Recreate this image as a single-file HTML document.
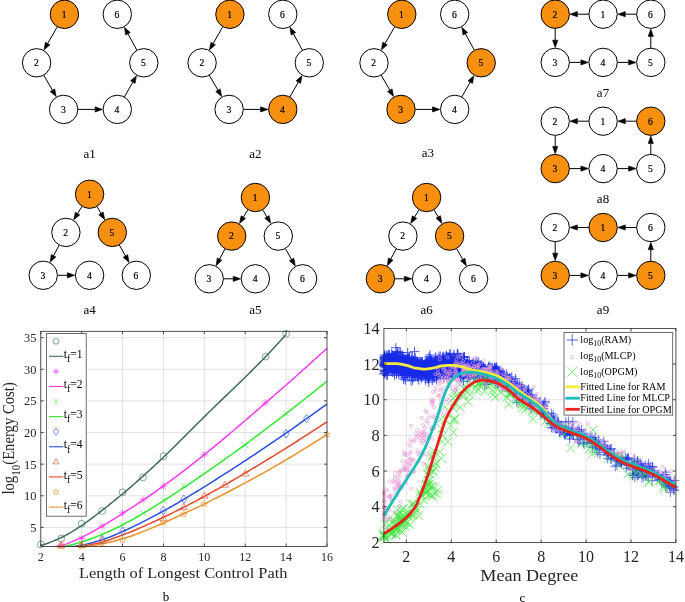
<!DOCTYPE html>
<html><head><meta charset="utf-8"><title>Figure</title>
<style>html,body{margin:0;padding:0;background:#fff}svg{display:block}text{font-family:"Liberation Serif", serif}</style>
</head><body>
<svg width="685" height="602" viewBox="0 0 685 602" font-family='"Liberation Serif", serif' fill="#000"><path d="M57.34 26.62L47.64 43.54" stroke="#000" stroke-width="1" fill="none"/>
<path d="M43.96 49.96L45.38 42.25L49.9 44.83Z" fill="#000" stroke="#000" stroke-width="0.6" stroke-linejoin="miter"/>
<path d="M43.72 75.09L52.47 90.19" stroke="#000" stroke-width="1" fill="none"/>
<path d="M56.18 96.59L50.22 91.49L54.72 88.89Z" fill="#000" stroke="#000" stroke-width="0.6" stroke-linejoin="miter"/>
<path d="M77.8 109.4L95.1 109.4" stroke="#000" stroke-width="1" fill="none"/>
<path d="M102.5 109.4L95.1 112L95.1 106.8Z" fill="#000" stroke="#000" stroke-width="0.6" stroke-linejoin="miter"/>
<path d="M124.32 97.06L132.83 82.1" stroke="#000" stroke-width="1" fill="none"/>
<path d="M136.48 75.67L135.09 83.38L130.57 80.81Z" fill="#000" stroke="#000" stroke-width="0.6" stroke-linejoin="miter"/>
<path d="M136.99 50.34L127.94 33.78" stroke="#000" stroke-width="1" fill="none"/>
<path d="M124.4 27.29L130.23 32.53L125.66 35.03Z" fill="#000" stroke="#000" stroke-width="0.6" stroke-linejoin="miter"/>
<circle cx="64.4" cy="14.3" r="14.2" fill="#F8900F" stroke="#000" stroke-width="1"/>
<text x="64.1" y="17.6" font-size="9.6" text-anchor="middle" stroke="#000" stroke-width="0.2">1</text>
<circle cx="117.3" cy="14.3" r="14.2" fill="#fff" stroke="#000" stroke-width="1"/>
<text x="117" y="17.6" font-size="9.6" text-anchor="middle" stroke="#000" stroke-width="0.2">6</text>
<circle cx="36.6" cy="62.8" r="14.2" fill="#fff" stroke="#000" stroke-width="1"/>
<text x="36.3" y="66.1" font-size="9.6" text-anchor="middle" stroke="#000" stroke-width="0.2">2</text>
<circle cx="143.8" cy="62.8" r="14.2" fill="#fff" stroke="#000" stroke-width="1"/>
<text x="143.5" y="66.1" font-size="9.6" text-anchor="middle" stroke="#000" stroke-width="0.2">5</text>
<circle cx="63.6" cy="109.4" r="14.2" fill="#fff" stroke="#000" stroke-width="1"/>
<text x="63.3" y="112.7" font-size="9.6" text-anchor="middle" stroke="#000" stroke-width="0.2">3</text>
<circle cx="117.3" cy="109.4" r="14.2" fill="#fff" stroke="#000" stroke-width="1"/>
<text x="117" y="112.7" font-size="9.6" text-anchor="middle" stroke="#000" stroke-width="0.2">4</text>
<text x="89.6" y="158" font-size="13" text-anchor="middle">a1</text>
<path d="M222.84 26.62L213.14 43.54" stroke="#000" stroke-width="1" fill="none"/>
<path d="M209.46 49.96L210.88 42.25L215.4 44.83Z" fill="#000" stroke="#000" stroke-width="0.6" stroke-linejoin="miter"/>
<path d="M209.22 75.09L217.97 90.19" stroke="#000" stroke-width="1" fill="none"/>
<path d="M221.68 96.59L215.72 91.49L220.22 88.89Z" fill="#000" stroke="#000" stroke-width="0.6" stroke-linejoin="miter"/>
<path d="M243.3 109.4L260.6 109.4" stroke="#000" stroke-width="1" fill="none"/>
<path d="M268 109.4L260.6 112L260.6 106.8Z" fill="#000" stroke="#000" stroke-width="0.6" stroke-linejoin="miter"/>
<path d="M289.82 97.06L298.33 82.1" stroke="#000" stroke-width="1" fill="none"/>
<path d="M301.98 75.67L300.59 83.38L296.07 80.81Z" fill="#000" stroke="#000" stroke-width="0.6" stroke-linejoin="miter"/>
<path d="M302.49 50.34L293.44 33.78" stroke="#000" stroke-width="1" fill="none"/>
<path d="M289.9 27.29L295.73 32.53L291.16 35.03Z" fill="#000" stroke="#000" stroke-width="0.6" stroke-linejoin="miter"/>
<circle cx="229.9" cy="14.3" r="14.2" fill="#F8900F" stroke="#000" stroke-width="1"/>
<text x="229.6" y="17.6" font-size="9.6" text-anchor="middle" stroke="#000" stroke-width="0.2">1</text>
<circle cx="282.8" cy="14.3" r="14.2" fill="#fff" stroke="#000" stroke-width="1"/>
<text x="282.5" y="17.6" font-size="9.6" text-anchor="middle" stroke="#000" stroke-width="0.2">6</text>
<circle cx="202.1" cy="62.8" r="14.2" fill="#fff" stroke="#000" stroke-width="1"/>
<text x="201.8" y="66.1" font-size="9.6" text-anchor="middle" stroke="#000" stroke-width="0.2">2</text>
<circle cx="309.3" cy="62.8" r="14.2" fill="#fff" stroke="#000" stroke-width="1"/>
<text x="309" y="66.1" font-size="9.6" text-anchor="middle" stroke="#000" stroke-width="0.2">5</text>
<circle cx="229.1" cy="109.4" r="14.2" fill="#fff" stroke="#000" stroke-width="1"/>
<text x="228.8" y="112.7" font-size="9.6" text-anchor="middle" stroke="#000" stroke-width="0.2">3</text>
<circle cx="282.8" cy="109.4" r="14.2" fill="#F8900F" stroke="#000" stroke-width="1"/>
<text x="282.5" y="112.7" font-size="9.6" text-anchor="middle" stroke="#000" stroke-width="0.2">4</text>
<text x="255.4" y="158" font-size="13" text-anchor="middle">a2</text>
<path d="M394.74 26.62L385.04 43.54" stroke="#000" stroke-width="1" fill="none"/>
<path d="M381.36 49.96L382.78 42.25L387.3 44.83Z" fill="#000" stroke="#000" stroke-width="0.6" stroke-linejoin="miter"/>
<path d="M381.12 75.09L389.87 90.19" stroke="#000" stroke-width="1" fill="none"/>
<path d="M393.58 96.59L387.62 91.49L392.12 88.89Z" fill="#000" stroke="#000" stroke-width="0.6" stroke-linejoin="miter"/>
<path d="M415.2 109.4L432.5 109.4" stroke="#000" stroke-width="1" fill="none"/>
<path d="M439.9 109.4L432.5 112L432.5 106.8Z" fill="#000" stroke="#000" stroke-width="0.6" stroke-linejoin="miter"/>
<path d="M461.72 97.06L470.23 82.1" stroke="#000" stroke-width="1" fill="none"/>
<path d="M473.88 75.67L472.49 83.38L467.97 80.81Z" fill="#000" stroke="#000" stroke-width="0.6" stroke-linejoin="miter"/>
<path d="M474.39 50.34L465.34 33.78" stroke="#000" stroke-width="1" fill="none"/>
<path d="M461.8 27.29L467.63 32.53L463.06 35.03Z" fill="#000" stroke="#000" stroke-width="0.6" stroke-linejoin="miter"/>
<circle cx="401.8" cy="14.3" r="14.2" fill="#F8900F" stroke="#000" stroke-width="1"/>
<text x="401.5" y="17.6" font-size="9.6" text-anchor="middle" stroke="#000" stroke-width="0.2">1</text>
<circle cx="454.7" cy="14.3" r="14.2" fill="#fff" stroke="#000" stroke-width="1"/>
<text x="454.4" y="17.6" font-size="9.6" text-anchor="middle" stroke="#000" stroke-width="0.2">6</text>
<circle cx="374" cy="62.8" r="14.2" fill="#fff" stroke="#000" stroke-width="1"/>
<text x="373.7" y="66.1" font-size="9.6" text-anchor="middle" stroke="#000" stroke-width="0.2">2</text>
<circle cx="481.2" cy="62.8" r="14.2" fill="#F8900F" stroke="#000" stroke-width="1"/>
<text x="480.9" y="66.1" font-size="9.6" text-anchor="middle" stroke="#000" stroke-width="0.2">5</text>
<circle cx="401" cy="109.4" r="14.2" fill="#F8900F" stroke="#000" stroke-width="1"/>
<text x="400.7" y="112.7" font-size="9.6" text-anchor="middle" stroke="#000" stroke-width="0.2">3</text>
<circle cx="454.7" cy="109.4" r="14.2" fill="#fff" stroke="#000" stroke-width="1"/>
<text x="454.4" y="112.7" font-size="9.6" text-anchor="middle" stroke="#000" stroke-width="0.2">4</text>
<text x="427.8" y="156.5" font-size="13" text-anchor="middle">a3</text>
<path d="M82.11 206.27L77.6 213.54" stroke="#000" stroke-width="1" fill="none"/>
<path d="M73.7 219.82L75.39 212.16L79.81 214.91Z" fill="#000" stroke="#000" stroke-width="0.6" stroke-linejoin="miter"/>
<path d="M96.85 206.41L100.96 213.32" stroke="#000" stroke-width="1" fill="none"/>
<path d="M104.74 219.68L98.72 214.64L103.19 211.99Z" fill="#000" stroke="#000" stroke-width="0.6" stroke-linejoin="miter"/>
<path d="M59.26 244.95L53.58 255.68" stroke="#000" stroke-width="1" fill="none"/>
<path d="M50.12 262.22L51.28 254.46L55.88 256.89Z" fill="#000" stroke="#000" stroke-width="0.6" stroke-linejoin="miter"/>
<path d="M57.4 275.3L67.4 275.3" stroke="#000" stroke-width="1" fill="none"/>
<path d="M74.8 275.3L67.4 277.9L67.4 272.7Z" fill="#000" stroke="#000" stroke-width="0.6" stroke-linejoin="miter"/>
<path d="M119.23 244.79L125.46 255.93" stroke="#000" stroke-width="1" fill="none"/>
<path d="M129.07 262.38L123.19 257.2L127.73 254.66Z" fill="#000" stroke="#000" stroke-width="0.6" stroke-linejoin="miter"/>
<circle cx="89.6" cy="194.2" r="14.2" fill="#F8900F" stroke="#000" stroke-width="1"/>
<text x="89.3" y="197.5" font-size="9.6" text-anchor="middle" stroke="#000" stroke-width="0.2">1</text>
<circle cx="65.9" cy="232.4" r="14.2" fill="#fff" stroke="#000" stroke-width="1"/>
<text x="65.6" y="235.7" font-size="9.6" text-anchor="middle" stroke="#000" stroke-width="0.2">2</text>
<circle cx="112.3" cy="232.4" r="14.2" fill="#F8900F" stroke="#000" stroke-width="1"/>
<text x="112" y="235.7" font-size="9.6" text-anchor="middle" stroke="#000" stroke-width="0.2">5</text>
<circle cx="43.2" cy="275.3" r="14.2" fill="#fff" stroke="#000" stroke-width="1"/>
<text x="42.9" y="278.6" font-size="9.6" text-anchor="middle" stroke="#000" stroke-width="0.2">3</text>
<circle cx="89.6" cy="275.3" r="14.2" fill="#fff" stroke="#000" stroke-width="1"/>
<text x="89.3" y="278.6" font-size="9.6" text-anchor="middle" stroke="#000" stroke-width="0.2">4</text>
<circle cx="136.3" cy="275.3" r="14.2" fill="#fff" stroke="#000" stroke-width="1"/>
<text x="136" y="278.6" font-size="9.6" text-anchor="middle" stroke="#000" stroke-width="0.2">6</text>
<text x="89.6" y="314.3" font-size="13" text-anchor="middle">a4</text>
<path d="M247.97 209.6L243.32 217.18" stroke="#000" stroke-width="1" fill="none"/>
<path d="M239.44 223.49L241.1 215.82L245.53 218.54Z" fill="#000" stroke="#000" stroke-width="0.6" stroke-linejoin="miter"/>
<path d="M262.65 209.71L266.97 217.01" stroke="#000" stroke-width="1" fill="none"/>
<path d="M270.75 223.37L264.74 218.33L269.21 215.68Z" fill="#000" stroke="#000" stroke-width="0.6" stroke-linejoin="miter"/>
<path d="M225.08 248.66L219.55 259.16" stroke="#000" stroke-width="1" fill="none"/>
<path d="M216.1 265.71L217.25 257.95L221.85 260.37Z" fill="#000" stroke="#000" stroke-width="0.6" stroke-linejoin="miter"/>
<path d="M223.4 278.8L233.2 278.8" stroke="#000" stroke-width="1" fill="none"/>
<path d="M240.6 278.8L233.2 281.4L233.2 276.2Z" fill="#000" stroke="#000" stroke-width="0.6" stroke-linejoin="miter"/>
<path d="M285.32 248.44L291.62 259.51" stroke="#000" stroke-width="1" fill="none"/>
<path d="M295.28 265.94L289.36 260.79L293.88 258.22Z" fill="#000" stroke="#000" stroke-width="0.6" stroke-linejoin="miter"/>
<circle cx="255.4" cy="197.5" r="14.2" fill="#F8900F" stroke="#000" stroke-width="1"/>
<text x="255.1" y="200.8" font-size="9.6" text-anchor="middle" stroke="#000" stroke-width="0.2">1</text>
<circle cx="231.7" cy="236.1" r="14.2" fill="#F8900F" stroke="#000" stroke-width="1"/>
<text x="231.4" y="239.4" font-size="9.6" text-anchor="middle" stroke="#000" stroke-width="0.2">2</text>
<circle cx="278.3" cy="236.1" r="14.2" fill="#fff" stroke="#000" stroke-width="1"/>
<text x="278" y="239.4" font-size="9.6" text-anchor="middle" stroke="#000" stroke-width="0.2">5</text>
<circle cx="209.2" cy="278.8" r="14.2" fill="#fff" stroke="#000" stroke-width="1"/>
<text x="208.9" y="282.1" font-size="9.6" text-anchor="middle" stroke="#000" stroke-width="0.2">3</text>
<circle cx="255.4" cy="278.8" r="14.2" fill="#fff" stroke="#000" stroke-width="1"/>
<text x="255.1" y="282.1" font-size="9.6" text-anchor="middle" stroke="#000" stroke-width="0.2">4</text>
<circle cx="302.6" cy="278.8" r="14.2" fill="#fff" stroke="#000" stroke-width="1"/>
<text x="302.3" y="282.1" font-size="9.6" text-anchor="middle" stroke="#000" stroke-width="0.2">6</text>
<text x="255.4" y="314.3" font-size="13" text-anchor="middle">a5</text>
<path d="M419.17 209.6L414.52 217.18" stroke="#000" stroke-width="1" fill="none"/>
<path d="M410.64 223.49L412.3 215.82L416.73 218.54Z" fill="#000" stroke="#000" stroke-width="0.6" stroke-linejoin="miter"/>
<path d="M433.87 209.7L438.24 217.03" stroke="#000" stroke-width="1" fill="none"/>
<path d="M442.02 223.39L436 218.36L440.47 215.7Z" fill="#000" stroke="#000" stroke-width="0.6" stroke-linejoin="miter"/>
<path d="M396.28 248.66L390.75 259.16" stroke="#000" stroke-width="1" fill="none"/>
<path d="M387.3 265.71L388.45 257.95L393.05 260.37Z" fill="#000" stroke="#000" stroke-width="0.6" stroke-linejoin="miter"/>
<path d="M394.6 278.8L404.4 278.8" stroke="#000" stroke-width="1" fill="none"/>
<path d="M411.8 278.8L404.4 281.4L404.4 276.2Z" fill="#000" stroke="#000" stroke-width="0.6" stroke-linejoin="miter"/>
<path d="M456.56 248.48L462.72 259.45" stroke="#000" stroke-width="1" fill="none"/>
<path d="M466.35 265.9L460.46 260.72L464.99 258.17Z" fill="#000" stroke="#000" stroke-width="0.6" stroke-linejoin="miter"/>
<circle cx="426.6" cy="197.5" r="14.2" fill="#F8900F" stroke="#000" stroke-width="1"/>
<text x="426.3" y="200.8" font-size="9.6" text-anchor="middle" stroke="#000" stroke-width="0.2">1</text>
<circle cx="402.9" cy="236.1" r="14.2" fill="#fff" stroke="#000" stroke-width="1"/>
<text x="402.6" y="239.4" font-size="9.6" text-anchor="middle" stroke="#000" stroke-width="0.2">2</text>
<circle cx="449.6" cy="236.1" r="14.2" fill="#F8900F" stroke="#000" stroke-width="1"/>
<text x="449.3" y="239.4" font-size="9.6" text-anchor="middle" stroke="#000" stroke-width="0.2">5</text>
<circle cx="380.4" cy="278.8" r="14.2" fill="#F8900F" stroke="#000" stroke-width="1"/>
<text x="380.1" y="282.1" font-size="9.6" text-anchor="middle" stroke="#000" stroke-width="0.2">3</text>
<circle cx="426.6" cy="278.8" r="14.2" fill="#fff" stroke="#000" stroke-width="1"/>
<text x="426.3" y="282.1" font-size="9.6" text-anchor="middle" stroke="#000" stroke-width="0.2">4</text>
<circle cx="473.6" cy="278.8" r="14.2" fill="#fff" stroke="#000" stroke-width="1"/>
<text x="473.3" y="282.1" font-size="9.6" text-anchor="middle" stroke="#000" stroke-width="0.2">6</text>
<text x="426.6" y="314.3" font-size="13" text-anchor="middle">a6</text>
<path d="M636.6 14.2L625.3 14.2" stroke="#000" stroke-width="1" fill="none"/>
<path d="M617.9 14.2L625.3 11.6L625.3 16.8Z" fill="#000" stroke="#000" stroke-width="0.6" stroke-linejoin="miter"/>
<path d="M588.9 14.2L577.4 14.2" stroke="#000" stroke-width="1" fill="none"/>
<path d="M570 14.2L577.4 11.6L577.4 16.8Z" fill="#000" stroke="#000" stroke-width="0.6" stroke-linejoin="miter"/>
<path d="M555.2 28.4L555.2 40.2" stroke="#000" stroke-width="1" fill="none"/>
<path d="M555.2 47.6L552.6 40.2L557.8 40.2Z" fill="#000" stroke="#000" stroke-width="0.6" stroke-linejoin="miter"/>
<path d="M569.4 62.4L580.9 62.4" stroke="#000" stroke-width="1" fill="none"/>
<path d="M588.3 62.4L580.9 65L580.9 59.8Z" fill="#000" stroke="#000" stroke-width="0.6" stroke-linejoin="miter"/>
<path d="M617.3 62.4L628.6 62.4" stroke="#000" stroke-width="1" fill="none"/>
<path d="M636 62.4L628.6 65L628.6 59.8Z" fill="#000" stroke="#000" stroke-width="0.6" stroke-linejoin="miter"/>
<path d="M650.8 48.2L650.8 36.4" stroke="#000" stroke-width="1" fill="none"/>
<path d="M650.8 29L653.4 36.4L648.2 36.4Z" fill="#000" stroke="#000" stroke-width="0.6" stroke-linejoin="miter"/>
<circle cx="555.2" cy="14.2" r="14.2" fill="#F8900F" stroke="#000" stroke-width="1"/>
<text x="554.9" y="17.5" font-size="9.6" text-anchor="middle" stroke="#000" stroke-width="0.2">2</text>
<circle cx="603.1" cy="14.2" r="14.2" fill="#fff" stroke="#000" stroke-width="1"/>
<text x="602.8" y="17.5" font-size="9.6" text-anchor="middle" stroke="#000" stroke-width="0.2">1</text>
<circle cx="650.8" cy="14.2" r="14.2" fill="#fff" stroke="#000" stroke-width="1"/>
<text x="650.5" y="17.5" font-size="9.6" text-anchor="middle" stroke="#000" stroke-width="0.2">6</text>
<circle cx="555.2" cy="62.4" r="14.2" fill="#fff" stroke="#000" stroke-width="1"/>
<text x="554.9" y="65.7" font-size="9.6" text-anchor="middle" stroke="#000" stroke-width="0.2">3</text>
<circle cx="603.1" cy="62.4" r="14.2" fill="#fff" stroke="#000" stroke-width="1"/>
<text x="602.8" y="65.7" font-size="9.6" text-anchor="middle" stroke="#000" stroke-width="0.2">4</text>
<circle cx="650.8" cy="62.4" r="14.2" fill="#fff" stroke="#000" stroke-width="1"/>
<text x="650.5" y="65.7" font-size="9.6" text-anchor="middle" stroke="#000" stroke-width="0.2">5</text>
<text x="603" y="97" font-size="13" text-anchor="middle">a7</text>
<path d="M636.6 121.2L625.3 121.2" stroke="#000" stroke-width="1" fill="none"/>
<path d="M617.9 121.2L625.3 118.6L625.3 123.8Z" fill="#000" stroke="#000" stroke-width="0.6" stroke-linejoin="miter"/>
<path d="M588.9 121.2L577.4 121.2" stroke="#000" stroke-width="1" fill="none"/>
<path d="M570 121.2L577.4 118.6L577.4 123.8Z" fill="#000" stroke="#000" stroke-width="0.6" stroke-linejoin="miter"/>
<path d="M555.2 135.4L555.2 146.4" stroke="#000" stroke-width="1" fill="none"/>
<path d="M555.2 153.8L552.6 146.4L557.8 146.4Z" fill="#000" stroke="#000" stroke-width="0.6" stroke-linejoin="miter"/>
<path d="M569.4 168.6L580.9 168.6" stroke="#000" stroke-width="1" fill="none"/>
<path d="M588.3 168.6L580.9 171.2L580.9 166Z" fill="#000" stroke="#000" stroke-width="0.6" stroke-linejoin="miter"/>
<path d="M617.3 168.6L628.6 168.6" stroke="#000" stroke-width="1" fill="none"/>
<path d="M636 168.6L628.6 171.2L628.6 166Z" fill="#000" stroke="#000" stroke-width="0.6" stroke-linejoin="miter"/>
<path d="M650.8 154.4L650.8 143.4" stroke="#000" stroke-width="1" fill="none"/>
<path d="M650.8 136L653.4 143.4L648.2 143.4Z" fill="#000" stroke="#000" stroke-width="0.6" stroke-linejoin="miter"/>
<circle cx="555.2" cy="121.2" r="14.2" fill="#fff" stroke="#000" stroke-width="1"/>
<text x="554.9" y="124.5" font-size="9.6" text-anchor="middle" stroke="#000" stroke-width="0.2">2</text>
<circle cx="603.1" cy="121.2" r="14.2" fill="#fff" stroke="#000" stroke-width="1"/>
<text x="602.8" y="124.5" font-size="9.6" text-anchor="middle" stroke="#000" stroke-width="0.2">1</text>
<circle cx="650.8" cy="121.2" r="14.2" fill="#F8900F" stroke="#000" stroke-width="1"/>
<text x="650.5" y="124.5" font-size="9.6" text-anchor="middle" stroke="#000" stroke-width="0.2">6</text>
<circle cx="555.2" cy="168.6" r="14.2" fill="#F8900F" stroke="#000" stroke-width="1"/>
<text x="554.9" y="171.9" font-size="9.6" text-anchor="middle" stroke="#000" stroke-width="0.2">3</text>
<circle cx="603.1" cy="168.6" r="14.2" fill="#fff" stroke="#000" stroke-width="1"/>
<text x="602.8" y="171.9" font-size="9.6" text-anchor="middle" stroke="#000" stroke-width="0.2">4</text>
<circle cx="650.8" cy="168.6" r="14.2" fill="#fff" stroke="#000" stroke-width="1"/>
<text x="650.5" y="171.9" font-size="9.6" text-anchor="middle" stroke="#000" stroke-width="0.2">5</text>
<text x="603" y="203" font-size="13" text-anchor="middle">a8</text>
<path d="M636.6 227.5L625.3 227.5" stroke="#000" stroke-width="1" fill="none"/>
<path d="M617.9 227.5L625.3 224.9L625.3 230.1Z" fill="#000" stroke="#000" stroke-width="0.6" stroke-linejoin="miter"/>
<path d="M588.9 227.5L577.4 227.5" stroke="#000" stroke-width="1" fill="none"/>
<path d="M570 227.5L577.4 224.9L577.4 230.1Z" fill="#000" stroke="#000" stroke-width="0.6" stroke-linejoin="miter"/>
<path d="M555.2 241.7L555.2 253.2" stroke="#000" stroke-width="1" fill="none"/>
<path d="M555.2 260.6L552.6 253.2L557.8 253.2Z" fill="#000" stroke="#000" stroke-width="0.6" stroke-linejoin="miter"/>
<path d="M569.4 275.4L580.9 275.4" stroke="#000" stroke-width="1" fill="none"/>
<path d="M588.3 275.4L580.9 278L580.9 272.8Z" fill="#000" stroke="#000" stroke-width="0.6" stroke-linejoin="miter"/>
<path d="M617.3 275.4L628.6 275.4" stroke="#000" stroke-width="1" fill="none"/>
<path d="M636 275.4L628.6 278L628.6 272.8Z" fill="#000" stroke="#000" stroke-width="0.6" stroke-linejoin="miter"/>
<path d="M650.8 261.2L650.8 249.7" stroke="#000" stroke-width="1" fill="none"/>
<path d="M650.8 242.3L653.4 249.7L648.2 249.7Z" fill="#000" stroke="#000" stroke-width="0.6" stroke-linejoin="miter"/>
<circle cx="555.2" cy="227.5" r="14.2" fill="#fff" stroke="#000" stroke-width="1"/>
<text x="554.9" y="230.8" font-size="9.6" text-anchor="middle" stroke="#000" stroke-width="0.2">2</text>
<circle cx="603.1" cy="227.5" r="14.2" fill="#F8900F" stroke="#000" stroke-width="1"/>
<text x="602.8" y="230.8" font-size="9.6" text-anchor="middle" stroke="#000" stroke-width="0.2">1</text>
<circle cx="650.8" cy="227.5" r="14.2" fill="#fff" stroke="#000" stroke-width="1"/>
<text x="650.5" y="230.8" font-size="9.6" text-anchor="middle" stroke="#000" stroke-width="0.2">6</text>
<circle cx="555.2" cy="275.4" r="14.2" fill="#F8900F" stroke="#000" stroke-width="1"/>
<text x="554.9" y="278.7" font-size="9.6" text-anchor="middle" stroke="#000" stroke-width="0.2">3</text>
<circle cx="603.1" cy="275.4" r="14.2" fill="#fff" stroke="#000" stroke-width="1"/>
<text x="602.8" y="278.7" font-size="9.6" text-anchor="middle" stroke="#000" stroke-width="0.2">4</text>
<circle cx="650.8" cy="275.4" r="14.2" fill="#F8900F" stroke="#000" stroke-width="1"/>
<text x="650.5" y="278.7" font-size="9.6" text-anchor="middle" stroke="#000" stroke-width="0.2">5</text>
<text x="603" y="314" font-size="13" text-anchor="middle">a9</text>
<rect x="40.8" y="331.3" width="286.2" height="215.1" fill="#fff"/>
<path d="M81.69 331.3V546.4" stroke="#e2e2e2" stroke-width="1"/>
<path d="M122.57 331.3V546.4" stroke="#e2e2e2" stroke-width="1"/>
<path d="M163.46 331.3V546.4" stroke="#e2e2e2" stroke-width="1"/>
<path d="M204.34 331.3V546.4" stroke="#e2e2e2" stroke-width="1"/>
<path d="M245.23 331.3V546.4" stroke="#e2e2e2" stroke-width="1"/>
<path d="M286.11 331.3V546.4" stroke="#e2e2e2" stroke-width="1"/>
<path d="M40.8 527.42H327" stroke="#e2e2e2" stroke-width="1"/>
<path d="M40.8 495.79H327" stroke="#e2e2e2" stroke-width="1"/>
<path d="M40.8 464.16H327" stroke="#e2e2e2" stroke-width="1"/>
<path d="M40.8 432.52H327" stroke="#e2e2e2" stroke-width="1"/>
<path d="M40.8 400.89H327" stroke="#e2e2e2" stroke-width="1"/>
<path d="M40.8 369.26H327" stroke="#e2e2e2" stroke-width="1"/>
<path d="M40.8 337.63H327" stroke="#e2e2e2" stroke-width="1"/>
<clipPath id="cb"><rect x="40.8" y="327.3" width="290.2" height="219.7"/></clipPath>
<g clip-path="url(#cb)">
<path d="M40.8 545.45L42.86 544.84L44.92 544.17L46.98 543.47L49.05 542.71L51.11 541.92L53.17 541.1L55.23 540.23L57.29 539.34L59.35 538.41L61.41 537.46L63.48 536.46L65.54 535.39L67.6 534.26L69.66 533.09L71.72 531.86L73.78 530.6L75.84 529.31L77.91 527.99L79.97 526.65L82.03 525.3L84.09 523.91L86.15 522.46L88.21 520.98L90.28 519.45L92.34 517.9L94.4 516.33L96.46 514.74L98.52 513.14L100.58 511.54L102.64 509.94L104.71 508.34L106.77 506.72L108.83 505.09L110.89 503.45L112.95 501.79L115.01 500.12L117.07 498.44L119.14 496.74L121.2 495.03L123.26 493.32L125.32 491.58L127.38 489.84L129.44 488.08L131.5 486.31L133.57 484.52L135.63 482.72L137.69 480.91L139.75 479.09L141.81 477.25L143.87 475.4L145.93 473.54L148 471.67L150.06 469.78L152.12 467.87L154.18 465.96L156.24 464.03L158.3 462.09L160.36 460.14L162.43 458.18L164.49 456.21L166.55 454.23L168.61 452.23L170.67 450.22L172.73 448.2L174.8 446.17L176.86 444.13L178.92 442.08L180.98 440.03L183.04 437.97L185.1 435.9L187.16 433.84L189.23 431.77L191.29 429.71L193.35 427.64L195.41 425.58L197.47 423.52L199.53 421.47L201.59 419.42L203.66 417.39L205.72 415.36L207.78 413.33L209.84 411.32L211.9 409.32L213.96 407.32L216.02 405.32L218.09 403.33L220.15 401.35L222.21 399.36L224.27 397.38L226.33 395.4L228.39 393.42L230.45 391.44L232.52 389.46L234.58 387.47L236.64 385.48L238.7 383.49L240.76 381.49L242.82 379.49L244.88 377.47L246.95 375.46L249.01 373.43L251.07 371.39L253.13 369.34L255.19 367.28L257.25 365.21L259.32 363.13L261.38 361.03L263.44 358.91L265.5 356.78L267.56 354.63L269.62 352.46L271.68 350.26L273.75 348.04L275.81 345.81L277.87 343.56L279.93 341.3L281.99 339.03L284.05 336.75L286.11 334.46" stroke="#3d6e5c" stroke-width="1.5" fill="none" stroke-linejoin="round"/>
<path d="M40.8 548.93L43.21 548.76L45.61 548.5L48.02 548.17L50.42 547.77L52.83 547.32L55.23 546.83L57.64 546.29L60.04 545.74L62.45 545.14L64.85 544.43L67.26 543.59L69.66 542.66L72.07 541.65L74.47 540.58L76.88 539.47L79.28 538.35L81.69 537.23L84.09 536.08L86.5 534.88L88.9 533.62L91.31 532.32L93.71 530.98L96.12 529.62L98.52 528.24L100.93 526.85L103.33 525.46L105.74 524.03L108.14 522.58L110.55 521.1L112.95 519.6L115.36 518.08L117.76 516.56L120.17 515.03L122.57 513.5L124.98 511.97L127.38 510.44L129.79 508.9L132.19 507.35L134.6 505.78L137 504.21L139.41 502.62L141.81 501.02L144.22 499.41L146.62 497.78L149.03 496.14L151.43 494.49L153.84 492.82L156.24 491.13L158.65 489.43L161.05 487.72L163.46 485.98L165.86 484.23L168.27 482.47L170.67 480.69L173.08 478.9L175.48 477.1L177.89 475.29L180.29 473.47L182.7 471.63L185.1 469.79L187.51 467.93L189.91 466.07L192.32 464.19L194.72 462.3L197.13 460.41L199.53 458.5L201.94 456.59L204.34 454.67L206.75 452.73L209.15 450.79L211.56 448.83L213.96 446.86L216.37 444.88L218.77 442.89L221.18 440.89L223.58 438.88L225.99 436.86L228.39 434.83L230.8 432.8L233.2 430.76L235.61 428.71L238.01 426.66L240.42 424.6L242.82 422.54L245.23 420.47L247.63 418.4L250.04 416.32L252.44 414.24L254.85 412.16L257.25 410.08L259.66 408L262.06 405.91L264.47 403.83L266.87 401.75L269.28 399.66L271.68 397.57L274.09 395.47L276.49 393.38L278.9 391.27L281.3 389.17L283.71 387.05L286.11 384.94L288.52 382.82L290.92 380.7L293.33 378.57L295.73 376.44L298.14 374.3L300.54 372.16L302.95 370.02L305.35 367.88L307.76 365.72L310.16 363.57L312.57 361.41L314.97 359.25L317.38 357.08L319.78 354.91L322.19 352.74L324.59 350.56L327 348.38" stroke="#f33cf0" stroke-width="1.5" fill="none" stroke-linejoin="round"/>
<path d="M40.8 549.56L43.21 549.39L45.61 549.18L48.02 548.93L50.42 548.64L52.83 548.32L55.23 547.98L57.64 547.61L60.04 547.23L62.45 546.83L64.85 546.37L67.26 545.85L69.66 545.29L72.07 544.68L74.47 544.04L76.88 543.37L79.28 542.68L81.69 541.97L84.09 541.23L86.5 540.43L88.9 539.58L91.31 538.7L93.71 537.78L96.12 536.83L98.52 535.86L100.93 534.88L103.33 533.88L105.74 532.85L108.14 531.8L110.55 530.71L112.95 529.59L115.36 528.45L117.76 527.29L120.17 526.1L122.57 524.89L124.98 523.65L127.38 522.38L129.79 521.07L132.19 519.74L134.6 518.38L137 517L139.41 515.61L141.81 514.21L144.22 512.79L146.62 511.36L149.03 509.9L151.43 508.42L153.84 506.92L156.24 505.41L158.65 503.9L161.05 502.37L163.46 500.85L165.86 499.32L168.27 497.79L170.67 496.24L173.08 494.69L175.48 493.13L177.89 491.55L180.29 489.97L182.7 488.37L185.1 486.76L187.51 485.14L189.91 483.51L192.32 481.88L194.72 480.25L197.13 478.6L199.53 476.95L201.94 475.3L204.34 473.64L206.75 471.97L209.15 470.3L211.56 468.62L213.96 466.94L216.37 465.25L218.77 463.55L221.18 461.85L223.58 460.15L225.99 458.43L228.39 456.72L230.8 454.99L233.2 453.26L235.61 451.53L238.01 449.79L240.42 448.05L242.82 446.3L245.23 444.54L247.63 442.78L250.04 441.01L252.44 439.22L254.85 437.43L257.25 435.63L259.66 433.82L262.06 432L264.47 430.18L266.87 428.35L269.28 426.51L271.68 424.67L274.09 422.82L276.49 420.97L278.9 419.12L281.3 417.26L283.71 415.4L286.11 413.54L288.52 411.68L290.92 409.82L293.33 407.94L295.73 406.07L298.14 404.19L300.54 402.3L302.95 400.41L305.35 398.52L307.76 396.62L310.16 394.72L312.57 392.81L314.97 390.9L317.38 388.99L319.78 387.07L322.19 385.14L324.59 383.21L327 381.28" stroke="#32e632" stroke-width="1.5" fill="none" stroke-linejoin="round"/>
<path d="M40.8 550.2L43.21 550.04L45.61 549.86L48.02 549.66L50.42 549.44L52.83 549.21L55.23 548.96L57.64 548.71L60.04 548.44L62.45 548.16L64.85 547.86L67.26 547.53L69.66 547.19L72.07 546.82L74.47 546.44L76.88 546.03L79.28 545.59L81.69 545.13L84.09 544.64L86.5 544.11L88.9 543.53L91.31 542.92L93.71 542.27L96.12 541.59L98.52 540.88L100.93 540.14L103.33 539.37L105.74 538.53L108.14 537.64L110.55 536.7L112.95 535.71L115.36 534.69L117.76 533.65L120.17 532.59L122.57 531.53L124.98 530.46L127.38 529.36L129.79 528.24L132.19 527.1L134.6 525.94L137 524.77L139.41 523.57L141.81 522.36L144.22 521.14L146.62 519.9L149.03 518.65L151.43 517.39L153.84 516.12L156.24 514.84L158.65 513.56L161.05 512.27L163.46 510.97L165.86 509.66L168.27 508.33L170.67 506.99L173.08 505.62L175.48 504.23L177.89 502.83L180.29 501.42L182.7 499.99L185.1 498.55L187.51 497.1L189.91 495.64L192.32 494.18L194.72 492.72L197.13 491.25L199.53 489.77L201.94 488.28L204.34 486.79L206.75 485.3L209.15 483.79L211.56 482.29L213.96 480.77L216.37 479.25L218.77 477.73L221.18 476.2L223.58 474.67L225.99 473.13L228.39 471.58L230.8 470.03L233.2 468.48L235.61 466.92L238.01 465.35L240.42 463.78L242.82 462.21L245.23 460.63L247.63 459.05L250.04 457.46L252.44 455.87L254.85 454.27L257.25 452.67L259.66 451.06L262.06 449.46L264.47 447.84L266.87 446.22L269.28 444.6L271.68 442.98L274.09 441.35L276.49 439.72L278.9 438.08L281.3 436.44L283.71 434.8L286.11 433.16L288.52 431.49L290.92 429.81L293.33 428.1L295.73 426.38L298.14 424.65L300.54 422.92L302.95 421.19L305.35 419.46L307.76 417.75L310.16 416.04L312.57 414.33L314.97 412.61L317.38 410.9L319.78 409.19L322.19 407.48L324.59 405.77L327 404.05" stroke="#2a4fe0" stroke-width="1.5" fill="none" stroke-linejoin="round"/>
<path d="M40.8 550.83L43.21 550.64L45.61 550.44L48.02 550.23L50.42 550.01L52.83 549.78L55.23 549.55L57.64 549.31L60.04 549.06L62.45 548.8L64.85 548.54L67.26 548.28L69.66 548.01L72.07 547.72L74.47 547.42L76.88 547.11L79.28 546.77L81.69 546.4L84.09 546L86.5 545.57L88.9 545.09L91.31 544.59L93.71 544.06L96.12 543.49L98.52 542.9L100.93 542.29L103.33 541.65L105.74 540.95L108.14 540.2L110.55 539.4L112.95 538.57L115.36 537.7L117.76 536.82L120.17 535.92L122.57 535.01L124.98 534.1L127.38 533.16L129.79 532.2L132.19 531.22L134.6 530.22L137 529.21L139.41 528.18L141.81 527.14L144.22 526.08L146.62 525.01L149.03 523.93L151.43 522.84L153.84 521.75L156.24 520.64L158.65 519.53L161.05 518.42L163.46 517.3L165.86 516.17L168.27 515.01L170.67 513.84L173.08 512.65L175.48 511.45L177.89 510.23L180.29 509.01L182.7 507.79L185.1 506.56L187.51 505.33L189.91 504.08L192.32 502.83L194.72 501.57L197.13 500.3L199.53 499.02L201.94 497.73L204.34 496.42L206.75 495.1L209.15 493.78L211.56 492.44L213.96 491.1L216.37 489.75L218.77 488.4L221.18 487.03L223.58 485.66L225.99 484.28L228.39 482.89L230.8 481.5L233.2 480.1L235.61 478.7L238.01 477.28L240.42 475.87L242.82 474.44L245.23 473.01L247.63 471.58L250.04 470.14L252.44 468.7L254.85 467.25L257.25 465.81L259.66 464.35L262.06 462.89L264.47 461.43L266.87 459.97L269.28 458.5L271.68 457.02L274.09 455.54L276.49 454.06L278.9 452.57L281.3 451.08L283.71 449.58L286.11 448.08L288.52 446.57L290.92 445.06L293.33 443.54L295.73 442.02L298.14 440.5L300.54 438.97L302.95 437.43L305.35 435.89L307.76 434.34L310.16 432.79L312.57 431.23L314.97 429.67L317.38 428.1L319.78 426.52L322.19 424.95L324.59 423.36L327 421.77" stroke="#e2492c" stroke-width="1.5" fill="none" stroke-linejoin="round"/>
<path d="M40.8 551.46L43.21 551.25L45.61 551.04L48.02 550.83L50.42 550.61L52.83 550.38L55.23 550.15L57.64 549.92L60.04 549.68L62.45 549.44L64.85 549.21L67.26 548.97L69.66 548.72L72.07 548.48L74.47 548.22L76.88 547.94L79.28 547.66L81.69 547.35L84.09 547.02L86.5 546.66L88.9 546.29L91.31 545.89L93.71 545.47L96.12 545.03L98.52 544.58L100.93 544.11L103.33 543.62L105.74 543.11L108.14 542.58L110.55 542.02L112.95 541.43L115.36 540.81L117.76 540.17L120.17 539.5L122.57 538.81L124.98 538.08L127.38 537.31L129.79 536.51L132.19 535.67L134.6 534.81L137 533.91L139.41 532.99L141.81 532.05L144.22 531.09L146.62 530.11L149.03 529.12L151.43 528.11L153.84 527.1L156.24 526.07L158.65 525.05L161.05 524.02L163.46 522.99L165.86 521.95L168.27 520.87L170.67 519.76L173.08 518.63L175.48 517.49L177.89 516.34L180.29 515.2L182.7 514.06L185.1 512.95L187.51 511.85L189.91 510.75L192.32 509.67L194.72 508.57L197.13 507.47L199.53 506.34L201.94 505.19L204.34 504.01L206.75 502.81L209.15 501.6L211.56 500.39L213.96 499.18L216.37 497.96L218.77 496.73L221.18 495.5L223.58 494.26L225.99 493.02L228.39 491.77L230.8 490.52L233.2 489.26L235.61 487.99L238.01 486.72L240.42 485.44L242.82 484.16L245.23 482.87L247.63 481.57L250.04 480.27L252.44 478.96L254.85 477.64L257.25 476.31L259.66 474.98L262.06 473.65L264.47 472.3L266.87 470.95L269.28 469.59L271.68 468.22L274.09 466.84L276.49 465.46L278.9 464.07L281.3 462.67L283.71 461.26L286.11 459.85L288.52 458.42L290.92 456.99L293.33 455.55L295.73 454.1L298.14 452.64L300.54 451.18L302.95 449.7L305.35 448.22L307.76 446.72L310.16 445.22L312.57 443.7L314.97 442.18L317.38 440.65L319.78 439.11L322.19 437.56L324.59 435.99L327 434.42" stroke="#e89228" stroke-width="1.5" fill="none" stroke-linejoin="round"/>
</g>
<circle cx="40.8" cy="544.5" r="3.41" fill="none" stroke="#3d6e5c" stroke-width="0.62"/>
<circle cx="61.24" cy="538.49" r="3.41" fill="none" stroke="#3d6e5c" stroke-width="0.62"/>
<circle cx="81.69" cy="523.62" r="3.41" fill="none" stroke="#3d6e5c" stroke-width="0.62"/>
<circle cx="102.13" cy="510.97" r="3.41" fill="none" stroke="#3d6e5c" stroke-width="0.62"/>
<circle cx="122.57" cy="492.31" r="3.41" fill="none" stroke="#3d6e5c" stroke-width="0.62"/>
<circle cx="143.01" cy="477.44" r="3.41" fill="none" stroke="#3d6e5c" stroke-width="0.62"/>
<circle cx="163.46" cy="456.12" r="3.41" fill="none" stroke="#3d6e5c" stroke-width="0.62"/>
<circle cx="265.67" cy="356.61" r="3.41" fill="none" stroke="#3d6e5c" stroke-width="0.62"/>
<circle cx="286.11" cy="333.83" r="3.41" fill="none" stroke="#3d6e5c" stroke-width="0.62"/>
<path d="M57.72 545.13L64.76 545.13M58.75 542.65L63.73 547.62M61.24 541.61L61.24 548.65M63.73 542.65L58.75 547.62" stroke="#f33cf0" stroke-width="0.62" fill="none"/>
<path d="M78.17 538.49L85.21 538.49M79.2 536L84.17 540.98M81.69 534.97L81.69 542.01M84.17 536L79.2 540.98" stroke="#f33cf0" stroke-width="0.62" fill="none"/>
<path d="M98.61 526.16L105.65 526.16M99.64 523.67L104.62 528.64M102.13 522.64L102.13 529.68M104.62 523.67L99.64 528.64" stroke="#f33cf0" stroke-width="0.62" fill="none"/>
<path d="M119.05 512.87L126.09 512.87M120.08 510.38L125.06 515.36M122.57 509.35L122.57 516.39M125.06 510.38L120.08 515.36" stroke="#f33cf0" stroke-width="0.62" fill="none"/>
<path d="M139.49 499.77L146.53 499.77M140.53 497.28L145.5 502.26M143.01 496.25L143.01 503.29M145.5 497.28L140.53 502.26" stroke="#f33cf0" stroke-width="0.62" fill="none"/>
<path d="M159.94 486.3L166.98 486.3M160.97 483.81L165.95 488.79M163.46 482.78L163.46 489.82M165.95 483.81L160.97 488.79" stroke="#f33cf0" stroke-width="0.62" fill="none"/>
<path d="M200.82 454.67L207.86 454.67M201.85 452.18L206.83 457.16M204.34 451.15L204.34 458.19M206.83 452.18L201.85 457.16" stroke="#f33cf0" stroke-width="0.62" fill="none"/>
<path d="M262.15 402.79L269.19 402.79M263.18 400.3L268.16 405.28M265.67 399.27L265.67 406.31M268.16 400.3L263.18 405.28" stroke="#f33cf0" stroke-width="0.62" fill="none"/>
<path d="M78.83 540.38L84.55 546.1M78.83 546.1L84.55 540.38" stroke="#32e632" stroke-width="0.62" fill="none"/>
<path d="M99.27 531.84L104.99 537.56M99.27 537.56L104.99 531.84" stroke="#32e632" stroke-width="0.62" fill="none"/>
<path d="M119.71 522.03L125.43 527.75M119.71 527.75L125.43 522.03" stroke="#32e632" stroke-width="0.62" fill="none"/>
<path d="M140.15 510.14L145.87 515.86M140.15 515.86L145.87 510.14" stroke="#32e632" stroke-width="0.62" fill="none"/>
<path d="M160.6 497.36L166.32 503.08M160.6 503.08L166.32 497.36" stroke="#32e632" stroke-width="0.62" fill="none"/>
<path d="M181.04 482.81L186.76 488.53M181.04 488.53L186.76 482.81" stroke="#32e632" stroke-width="0.62" fill="none"/>
<path d="M242.37 442.32L248.09 448.04M242.37 448.04L248.09 442.32" stroke="#32e632" stroke-width="0.62" fill="none"/>
<path d="M283.25 410.68L288.97 416.4M283.25 416.4L288.97 410.68" stroke="#32e632" stroke-width="0.62" fill="none"/>
<path d="M102.13 535.47L105.1 539.76L102.13 544.05L99.16 539.76Z" stroke="#2a4fe0" stroke-width="0.62" fill="none"/>
<path d="M122.57 526.93L125.54 531.22L122.57 535.51L119.6 531.22Z" stroke="#2a4fe0" stroke-width="0.62" fill="none"/>
<path d="M163.46 506.24L166.43 510.53L163.46 514.82L160.49 510.53Z" stroke="#2a4fe0" stroke-width="0.62" fill="none"/>
<path d="M183.9 494.98L186.87 499.27L183.9 503.56L180.93 499.27Z" stroke="#2a4fe0" stroke-width="0.62" fill="none"/>
<path d="M286.11 429.5L289.08 433.79L286.11 438.08L283.14 433.79Z" stroke="#2a4fe0" stroke-width="0.62" fill="none"/>
<path d="M306.56 414.32L309.53 418.61L306.56 422.9L303.59 418.61Z" stroke="#2a4fe0" stroke-width="0.62" fill="none"/>
<path d="M61.24 541.71L64.8 547.77L57.69 547.77Z" stroke="#e2492c" stroke-width="0.62" fill="none"/>
<path d="M81.69 541.39L85.24 547.45L78.13 547.45Z" stroke="#e2492c" stroke-width="0.62" fill="none"/>
<path d="M102.13 537.28L105.68 543.34L98.58 543.34Z" stroke="#e2492c" stroke-width="0.62" fill="none"/>
<path d="M163.46 514.82L167.01 520.88L159.9 520.88Z" stroke="#e2492c" stroke-width="0.62" fill="none"/>
<path d="M183.9 503.44L187.45 509.49L180.35 509.49Z" stroke="#e2492c" stroke-width="0.62" fill="none"/>
<path d="M204.34 492.05L207.9 498.11L200.79 498.11Z" stroke="#e2492c" stroke-width="0.62" fill="none"/>
<path d="M224.79 481.29L228.34 487.35L221.23 487.35Z" stroke="#e2492c" stroke-width="0.62" fill="none"/>
<path d="M245.23 469.91L248.78 475.96L241.68 475.96Z" stroke="#e2492c" stroke-width="0.62" fill="none"/>
<path d="M61.24 542.45L62.14 544.85L64.7 544.96L62.69 546.55L63.38 549.02L61.24 547.61L59.11 549.02L59.79 546.55L57.79 544.96L60.35 544.85Z" stroke="#e89228" stroke-width="0.62" fill="none"/>
<path d="M81.69 542.45L82.58 544.85L85.14 544.96L83.14 546.55L83.82 549.02L81.69 547.61L79.55 549.02L80.24 546.55L78.23 544.96L80.79 544.85Z" stroke="#e89228" stroke-width="0.62" fill="none"/>
<path d="M102.13 539.92L103.02 542.32L105.58 542.43L103.58 544.02L104.26 546.49L102.13 545.08L99.99 546.49L100.68 544.02L98.68 542.43L101.23 542.32Z" stroke="#e89228" stroke-width="0.62" fill="none"/>
<path d="M122.57 536.13L123.47 538.52L126.02 538.64L124.02 540.23L124.71 542.69L122.57 541.28L120.44 542.69L121.12 540.23L119.12 538.64L121.68 538.52Z" stroke="#e89228" stroke-width="0.62" fill="none"/>
<path d="M163.46 518.73L164.35 521.13L166.91 521.24L164.91 522.83L165.59 525.3L163.46 523.88L161.32 525.3L162.01 522.83L160 521.24L162.56 521.13Z" stroke="#e89228" stroke-width="0.62" fill="none"/>
<path d="M183.9 510.5L184.8 512.9L187.35 513.01L185.35 514.61L186.03 517.07L183.9 515.66L181.77 517.07L182.45 514.61L180.45 513.01L183 512.9Z" stroke="#e89228" stroke-width="0.62" fill="none"/>
<path d="M204.34 500.38L205.24 502.78L207.8 502.89L205.79 504.48L206.48 506.95L204.34 505.54L202.21 506.95L202.89 504.48L200.89 502.89L203.45 502.78Z" stroke="#e89228" stroke-width="0.62" fill="none"/>
<path d="M327 430.79L327.9 433.19L330.45 433.3L328.45 434.89L329.13 437.36L327 435.95L324.87 437.36L325.55 434.89L323.55 433.3L326.1 433.19Z" stroke="#e89228" stroke-width="0.62" fill="none"/>
<rect x="40.8" y="331.3" width="286.2" height="215.1" fill="none" stroke="#262626" stroke-width="0.8"/>
<path d="M40.8 546.4v-2.9M40.8 331.3v2.9M81.69 546.4v-2.9M81.69 331.3v2.9M122.57 546.4v-2.9M122.57 331.3v2.9M163.46 546.4v-2.9M163.46 331.3v2.9M204.34 546.4v-2.9M204.34 331.3v2.9M245.23 546.4v-2.9M245.23 331.3v2.9M286.11 546.4v-2.9M286.11 331.3v2.9M327 546.4v-2.9M327 331.3v2.9M40.8 527.42h2.9M327 527.42h-2.9M40.8 495.79h2.9M327 495.79h-2.9M40.8 464.16h2.9M327 464.16h-2.9M40.8 432.52h2.9M327 432.52h-2.9M40.8 400.89h2.9M327 400.89h-2.9M40.8 369.26h2.9M327 369.26h-2.9M40.8 337.63h2.9M327 337.63h-2.9" stroke="#262626" stroke-width="0.8" fill="none"/>
<text x="40.8" y="561.4" font-size="12" text-anchor="middle" fill="#262626">2</text>
<text x="81.69" y="561.4" font-size="12" text-anchor="middle" fill="#262626">4</text>
<text x="122.57" y="561.4" font-size="12" text-anchor="middle" fill="#262626">6</text>
<text x="163.46" y="561.4" font-size="12" text-anchor="middle" fill="#262626">8</text>
<text x="204.34" y="561.4" font-size="12" text-anchor="middle" fill="#262626">10</text>
<text x="245.23" y="561.4" font-size="12" text-anchor="middle" fill="#262626">12</text>
<text x="286.11" y="561.4" font-size="12" text-anchor="middle" fill="#262626">14</text>
<text x="327" y="561.4" font-size="12" text-anchor="middle" fill="#262626">16</text>
<text x="36.5" y="532.02" font-size="12.4" text-anchor="end" fill="#262626">5</text>
<text x="36.5" y="500.39" font-size="12.4" text-anchor="end" fill="#262626">10</text>
<text x="36.5" y="468.76" font-size="12.4" text-anchor="end" fill="#262626">15</text>
<text x="36.5" y="437.12" font-size="12.4" text-anchor="end" fill="#262626">20</text>
<text x="36.5" y="405.49" font-size="12.4" text-anchor="end" fill="#262626">25</text>
<text x="36.5" y="373.86" font-size="12.4" text-anchor="end" fill="#262626">30</text>
<text x="36.5" y="342.23" font-size="12.4" text-anchor="end" fill="#262626">35</text>
<text transform="translate(183.2,578) scale(1.065,1)" font-size="15.4" text-anchor="middle" fill="#262626">Length of Longest Control Path</text>
<text transform="translate(13.6,438.4) rotate(-90) scale(0.955,1.05)" font-size="15.4" text-anchor="middle" fill="#262626">log<tspan font-size="11.6" dy="6">10</tspan><tspan dy="-6">(Energy Cost)</tspan></text>
<text x="166" y="601" font-size="13" text-anchor="middle">b</text>
<rect x="46.4" y="333.6" width="39.8" height="182.6" fill="#fff" stroke="#4a4a4a" stroke-width="0.8"/>
<circle cx="56" cy="341.2" r="3" fill="none" stroke="#3d6e5c" stroke-width="0.62"/>
<path d="M49 356.28H63.4" stroke="#3d6e5c" stroke-width="1.1"/>
<text x="63.8" y="357.88" font-size="11.6" fill="#000">t<tspan font-size="9.4" dy="4.2">f</tspan><tspan dy="-4.2">=1</tspan></text>
<path d="M52.9 371.36L59.1 371.36M53.81 369.17L58.19 373.55M56 368.26L56 374.46M58.19 369.17L53.81 373.55" stroke="#f33cf0" stroke-width="0.62" fill="none"/>
<path d="M49 386.44H63.4" stroke="#f33cf0" stroke-width="1.1"/>
<text x="63.8" y="388.04" font-size="11.6" fill="#000">t<tspan font-size="9.4" dy="4.2">f</tspan><tspan dy="-4.2">=2</tspan></text>
<path d="M53.48 399L58.52 404.04M53.48 404.04L58.52 399" stroke="#32e632" stroke-width="0.62" fill="none"/>
<path d="M49 416.6H63.4" stroke="#32e632" stroke-width="1.1"/>
<text x="63.8" y="418.2" font-size="11.6" fill="#000">t<tspan font-size="9.4" dy="4.2">f</tspan><tspan dy="-4.2">=3</tspan></text>
<path d="M56 427.9L58.61 431.68L56 435.46L53.39 431.68Z" stroke="#2a4fe0" stroke-width="0.62" fill="none"/>
<path d="M49 446.76H63.4" stroke="#2a4fe0" stroke-width="1.1"/>
<text x="63.8" y="448.36" font-size="11.6" fill="#000">t<tspan font-size="9.4" dy="4.2">f</tspan><tspan dy="-4.2">=4</tspan></text>
<path d="M56 458.55L59.13 463.88L52.87 463.88Z" stroke="#e2492c" stroke-width="0.62" fill="none"/>
<path d="M49 476.92H63.4" stroke="#e2492c" stroke-width="1.1"/>
<text x="63.8" y="478.52" font-size="11.6" fill="#000">t<tspan font-size="9.4" dy="4.2">f</tspan><tspan dy="-4.2">=5</tspan></text>
<path d="M56 488.81L56.79 490.91L59.04 491.01L57.28 492.41L57.88 494.58L56 493.34L54.12 494.58L54.72 492.41L52.96 491.01L55.21 490.91Z" stroke="#e89228" stroke-width="0.62" fill="none"/>
<path d="M49 507.08H63.4" stroke="#e89228" stroke-width="1.1"/>
<text x="63.8" y="508.68" font-size="11.6" fill="#000">t<tspan font-size="9.4" dy="4.2">f</tspan><tspan dy="-4.2">=6</tspan></text>
<rect x="383.9" y="328.4" width="292" height="214" fill="#fff"/>
<path d="M406.36 328.4V542.4" stroke="#e2e2e2" stroke-width="1"/>
<path d="M451.28 328.4V542.4" stroke="#e2e2e2" stroke-width="1"/>
<path d="M496.21 328.4V542.4" stroke="#e2e2e2" stroke-width="1"/>
<path d="M541.13 328.4V542.4" stroke="#e2e2e2" stroke-width="1"/>
<path d="M586.05 328.4V542.4" stroke="#e2e2e2" stroke-width="1"/>
<path d="M630.98 328.4V542.4" stroke="#e2e2e2" stroke-width="1"/>
<path d="M383.9 506.73H675.9" stroke="#e2e2e2" stroke-width="1"/>
<path d="M383.9 471.07H675.9" stroke="#e2e2e2" stroke-width="1"/>
<path d="M383.9 435.4H675.9" stroke="#e2e2e2" stroke-width="1"/>
<path d="M383.9 399.73H675.9" stroke="#e2e2e2" stroke-width="1"/>
<path d="M383.9 364.07H675.9" stroke="#e2e2e2" stroke-width="1"/>
<clipPath id="cc"><rect x="377.9" y="328.4" width="304" height="217"/></clipPath>
<path d="M385.27 364.54h9.6m-4.8 -4.8v9.6M442.17 375.56h9.6m-4.8 -4.8v9.6M414.55 370.16h9.6m-4.8 -4.8v9.6M437.6 374.07h9.6m-4.8 -4.8v9.6M458.18 363.34h9.6m-4.8 -4.8v9.6M422.64 368.92h9.6m-4.8 -4.8v9.6M419.62 369.48h9.6m-4.8 -4.8v9.6M384.93 361.7h9.6m-4.8 -4.8v9.6M400.81 363.66h9.6m-4.8 -4.8v9.6M419.52 367.98h9.6m-4.8 -4.8v9.6M434.02 364.94h9.6m-4.8 -4.8v9.6M444.09 368.1h9.6m-4.8 -4.8v9.6M409.9 374.06h9.6m-4.8 -4.8v9.6M384.43 361.97h9.6m-4.8 -4.8v9.6M402.4 358.81h9.6m-4.8 -4.8v9.6M452.65 361.31h9.6m-4.8 -4.8v9.6M396.35 365.2h9.6m-4.8 -4.8v9.6M415.66 365.96h9.6m-4.8 -4.8v9.6M454.4 368.4h9.6m-4.8 -4.8v9.6M381.11 361.85h9.6m-4.8 -4.8v9.6M427.66 370.95h9.6m-4.8 -4.8v9.6M455.93 366.05h9.6m-4.8 -4.8v9.6M397.72 355.2h9.6m-4.8 -4.8v9.6M423.45 365.2h9.6m-4.8 -4.8v9.6M452.61 359.05h9.6m-4.8 -4.8v9.6M389.87 367.12h9.6m-4.8 -4.8v9.6M421.42 372.17h9.6m-4.8 -4.8v9.6M439.78 365.83h9.6m-4.8 -4.8v9.6M433.2 364.21h9.6m-4.8 -4.8v9.6M416.92 369.9h9.6m-4.8 -4.8v9.6M395.66 359.38h9.6m-4.8 -4.8v9.6M418.78 371.6h9.6m-4.8 -4.8v9.6M409.21 361.39h9.6m-4.8 -4.8v9.6M417.7 364.51h9.6m-4.8 -4.8v9.6M408.69 372.73h9.6m-4.8 -4.8v9.6M446.86 362.62h9.6m-4.8 -4.8v9.6M441.25 366.57h9.6m-4.8 -4.8v9.6M404.49 361.43h9.6m-4.8 -4.8v9.6M425.4 370.99h9.6m-4.8 -4.8v9.6M401.42 363.84h9.6m-4.8 -4.8v9.6M415.72 366.27h9.6m-4.8 -4.8v9.6M407.64 380.01h9.6m-4.8 -4.8v9.6M432.26 375.79h9.6m-4.8 -4.8v9.6M409.05 367.07h9.6m-4.8 -4.8v9.6M416.22 369.45h9.6m-4.8 -4.8v9.6M437.27 361.16h9.6m-4.8 -4.8v9.6M412.5 367.27h9.6m-4.8 -4.8v9.6M452.39 371.85h9.6m-4.8 -4.8v9.6M393.69 362.25h9.6m-4.8 -4.8v9.6M439.03 369.19h9.6m-4.8 -4.8v9.6M413.25 369.51h9.6m-4.8 -4.8v9.6M413.58 370.86h9.6m-4.8 -4.8v9.6M430.4 365.97h9.6m-4.8 -4.8v9.6M421.38 375.58h9.6m-4.8 -4.8v9.6M412.65 373.54h9.6m-4.8 -4.8v9.6M379.22 374.02h9.6m-4.8 -4.8v9.6M386.56 353.6h9.6m-4.8 -4.8v9.6M436.46 370.62h9.6m-4.8 -4.8v9.6M421.5 372.99h9.6m-4.8 -4.8v9.6M435.39 371.56h9.6m-4.8 -4.8v9.6M456.36 369.79h9.6m-4.8 -4.8v9.6M434.32 368.51h9.6m-4.8 -4.8v9.6M383.4 360.72h9.6m-4.8 -4.8v9.6M404.07 365.2h9.6m-4.8 -4.8v9.6M427.02 366.71h9.6m-4.8 -4.8v9.6M398.11 367.31h9.6m-4.8 -4.8v9.6M457.13 367.31h9.6m-4.8 -4.8v9.6M455.52 360.96h9.6m-4.8 -4.8v9.6M447.7 365.45h9.6m-4.8 -4.8v9.6M417.29 367.55h9.6m-4.8 -4.8v9.6M447.14 374.74h9.6m-4.8 -4.8v9.6M389.7 361.14h9.6m-4.8 -4.8v9.6M404.06 364.81h9.6m-4.8 -4.8v9.6M416.54 362.93h9.6m-4.8 -4.8v9.6M439.09 378.47h9.6m-4.8 -4.8v9.6M418.38 368.93h9.6m-4.8 -4.8v9.6M390.17 364.13h9.6m-4.8 -4.8v9.6M406.88 366.63h9.6m-4.8 -4.8v9.6M405.33 369.41h9.6m-4.8 -4.8v9.6M403.39 364.88h9.6m-4.8 -4.8v9.6M392.48 360.44h9.6m-4.8 -4.8v9.6M412.65 368.21h9.6m-4.8 -4.8v9.6M415.34 370.19h9.6m-4.8 -4.8v9.6M441.76 366.55h9.6m-4.8 -4.8v9.6M443.5 367.27h9.6m-4.8 -4.8v9.6M421.34 368.89h9.6m-4.8 -4.8v9.6M416.35 372.29h9.6m-4.8 -4.8v9.6M442.03 374.79h9.6m-4.8 -4.8v9.6M450.85 359.49h9.6m-4.8 -4.8v9.6M433.67 374.9h9.6m-4.8 -4.8v9.6M443.83 366.03h9.6m-4.8 -4.8v9.6M455.04 372.66h9.6m-4.8 -4.8v9.6M382.39 365.04h9.6m-4.8 -4.8v9.6M449.91 370.15h9.6m-4.8 -4.8v9.6M401.46 365.62h9.6m-4.8 -4.8v9.6M417.57 373.01h9.6m-4.8 -4.8v9.6M443.53 371.53h9.6m-4.8 -4.8v9.6M437.1 364.6h9.6m-4.8 -4.8v9.6M391 357.5h9.6m-4.8 -4.8v9.6M432.37 365.58h9.6m-4.8 -4.8v9.6M384.7 363.2h9.6m-4.8 -4.8v9.6M407.97 372.38h9.6m-4.8 -4.8v9.6M444.83 365.88h9.6m-4.8 -4.8v9.6M413.68 366.61h9.6m-4.8 -4.8v9.6M427.61 371.32h9.6m-4.8 -4.8v9.6M437.98 361.8h9.6m-4.8 -4.8v9.6M445.51 365.69h9.6m-4.8 -4.8v9.6M440.6 364.11h9.6m-4.8 -4.8v9.6M379.68 366.17h9.6m-4.8 -4.8v9.6M413.08 370.87h9.6m-4.8 -4.8v9.6M416.55 368.06h9.6m-4.8 -4.8v9.6M383.59 361.98h9.6m-4.8 -4.8v9.6M422.88 367.43h9.6m-4.8 -4.8v9.6M428.25 372.95h9.6m-4.8 -4.8v9.6M446.09 368.92h9.6m-4.8 -4.8v9.6M455.26 366.86h9.6m-4.8 -4.8v9.6M389.46 372.35h9.6m-4.8 -4.8v9.6M397.73 359.85h9.6m-4.8 -4.8v9.6M432.4 365.78h9.6m-4.8 -4.8v9.6M389.81 363.56h9.6m-4.8 -4.8v9.6M397.22 367.91h9.6m-4.8 -4.8v9.6M425.58 364.89h9.6m-4.8 -4.8v9.6M392.81 365.16h9.6m-4.8 -4.8v9.6M442.35 356.87h9.6m-4.8 -4.8v9.6M448.4 363.8h9.6m-4.8 -4.8v9.6M381.82 370.76h9.6m-4.8 -4.8v9.6M422.17 365.78h9.6m-4.8 -4.8v9.6M443.54 368.07h9.6m-4.8 -4.8v9.6M457.95 369.8h9.6m-4.8 -4.8v9.6M401.28 366.61h9.6m-4.8 -4.8v9.6M392.77 364.51h9.6m-4.8 -4.8v9.6M449.99 364.64h9.6m-4.8 -4.8v9.6M452.62 362.71h9.6m-4.8 -4.8v9.6M395.07 362.12h9.6m-4.8 -4.8v9.6M414.8 372.29h9.6m-4.8 -4.8v9.6M437.26 372.39h9.6m-4.8 -4.8v9.6M447.46 369.33h9.6m-4.8 -4.8v9.6M392.71 362.24h9.6m-4.8 -4.8v9.6M432.87 363.12h9.6m-4.8 -4.8v9.6M444.42 357.27h9.6m-4.8 -4.8v9.6M423.55 375.27h9.6m-4.8 -4.8v9.6M392.42 363.52h9.6m-4.8 -4.8v9.6M381.97 364.93h9.6m-4.8 -4.8v9.6M401.87 367.51h9.6m-4.8 -4.8v9.6M444.43 364.98h9.6m-4.8 -4.8v9.6M382.72 365.01h9.6m-4.8 -4.8v9.6M379.76 365.19h9.6m-4.8 -4.8v9.6M408.34 370.73h9.6m-4.8 -4.8v9.6M384.24 362h9.6m-4.8 -4.8v9.6M391.19 358.93h9.6m-4.8 -4.8v9.6M380.98 356.33h9.6m-4.8 -4.8v9.6M421.53 371.69h9.6m-4.8 -4.8v9.6M435.44 371.36h9.6m-4.8 -4.8v9.6M413.63 370h9.6m-4.8 -4.8v9.6M389.98 367.68h9.6m-4.8 -4.8v9.6M405.89 362.14h9.6m-4.8 -4.8v9.6M426.84 372.34h9.6m-4.8 -4.8v9.6M455.16 366.46h9.6m-4.8 -4.8v9.6M459.36 374.05h9.6m-4.8 -4.8v9.6M398.64 366.58h9.6m-4.8 -4.8v9.6M379.96 363.06h9.6m-4.8 -4.8v9.6M446.27 358.5h9.6m-4.8 -4.8v9.6M454.03 369.77h9.6m-4.8 -4.8v9.6M416.18 367.42h9.6m-4.8 -4.8v9.6M441.48 375.42h9.6m-4.8 -4.8v9.6M449.14 371.34h9.6m-4.8 -4.8v9.6M428.39 372.07h9.6m-4.8 -4.8v9.6M449.66 368.12h9.6m-4.8 -4.8v9.6M381.03 361.92h9.6m-4.8 -4.8v9.6M401.06 362.56h9.6m-4.8 -4.8v9.6M401.52 373.05h9.6m-4.8 -4.8v9.6M388.85 361.36h9.6m-4.8 -4.8v9.6M452.74 371.48h9.6m-4.8 -4.8v9.6M381.56 355.4h9.6m-4.8 -4.8v9.6M433.48 365.55h9.6m-4.8 -4.8v9.6M384.87 363.14h9.6m-4.8 -4.8v9.6M408.27 368.55h9.6m-4.8 -4.8v9.6M412.91 368.84h9.6m-4.8 -4.8v9.6M393.77 364.06h9.6m-4.8 -4.8v9.6M421.23 372.5h9.6m-4.8 -4.8v9.6M422.36 365.74h9.6m-4.8 -4.8v9.6M404.74 365.28h9.6m-4.8 -4.8v9.6M438.7 362.56h9.6m-4.8 -4.8v9.6M392.05 364.18h9.6m-4.8 -4.8v9.6M394.67 361.05h9.6m-4.8 -4.8v9.6M407.77 371.09h9.6m-4.8 -4.8v9.6M409.7 351.59h9.6m-4.8 -4.8v9.6M395.78 367.69h9.6m-4.8 -4.8v9.6M453.39 368.51h9.6m-4.8 -4.8v9.6M446.06 361.15h9.6m-4.8 -4.8v9.6M387.74 358.11h9.6m-4.8 -4.8v9.6M408.98 371.63h9.6m-4.8 -4.8v9.6M397.91 372.53h9.6m-4.8 -4.8v9.6M415.57 375.57h9.6m-4.8 -4.8v9.6M401.44 370.19h9.6m-4.8 -4.8v9.6M419.68 373h9.6m-4.8 -4.8v9.6M453.7 367.28h9.6m-4.8 -4.8v9.6M410.03 363.42h9.6m-4.8 -4.8v9.6M431.67 362.53h9.6m-4.8 -4.8v9.6M427.26 371.33h9.6m-4.8 -4.8v9.6M439.9 363.43h9.6m-4.8 -4.8v9.6M384.09 359.78h9.6m-4.8 -4.8v9.6M439.33 359.48h9.6m-4.8 -4.8v9.6M455.62 367.67h9.6m-4.8 -4.8v9.6M427.9 371.84h9.6m-4.8 -4.8v9.6M402.35 362.33h9.6m-4.8 -4.8v9.6M433.47 360h9.6m-4.8 -4.8v9.6M436.68 368.69h9.6m-4.8 -4.8v9.6M432.18 358.37h9.6m-4.8 -4.8v9.6M390.98 355.88h9.6m-4.8 -4.8v9.6M457.82 368.65h9.6m-4.8 -4.8v9.6M456.35 374.38h9.6m-4.8 -4.8v9.6M413.44 371.55h9.6m-4.8 -4.8v9.6M427.1 370.16h9.6m-4.8 -4.8v9.6M382.3 361.44h9.6m-4.8 -4.8v9.6M459.04 375.51h9.6m-4.8 -4.8v9.6M445.3 354.37h9.6m-4.8 -4.8v9.6M430.57 357.01h9.6m-4.8 -4.8v9.6M440.64 369.24h9.6m-4.8 -4.8v9.6M394.3 372.8h9.6m-4.8 -4.8v9.6M403.98 367.08h9.6m-4.8 -4.8v9.6M399.02 363.11h9.6m-4.8 -4.8v9.6M427.3 362.26h9.6m-4.8 -4.8v9.6M386.53 360.56h9.6m-4.8 -4.8v9.6M451.52 367.05h9.6m-4.8 -4.8v9.6M416.48 378.34h9.6m-4.8 -4.8v9.6M415.07 366.68h9.6m-4.8 -4.8v9.6M387.57 359.95h9.6m-4.8 -4.8v9.6M434.48 368.19h9.6m-4.8 -4.8v9.6M445.16 364.38h9.6m-4.8 -4.8v9.6M430.01 367.07h9.6m-4.8 -4.8v9.6M398.67 366.14h9.6m-4.8 -4.8v9.6M442.61 371.13h9.6m-4.8 -4.8v9.6M390.88 362.28h9.6m-4.8 -4.8v9.6M445.99 372.22h9.6m-4.8 -4.8v9.6M426.06 362.22h9.6m-4.8 -4.8v9.6M402.5 370.04h9.6m-4.8 -4.8v9.6M420.6 367.09h9.6m-4.8 -4.8v9.6M429.95 371.42h9.6m-4.8 -4.8v9.6M400.01 363.56h9.6m-4.8 -4.8v9.6M447.58 366.66h9.6m-4.8 -4.8v9.6M413.16 366.3h9.6m-4.8 -4.8v9.6M451.26 369.76h9.6m-4.8 -4.8v9.6M446.66 373.21h9.6m-4.8 -4.8v9.6M387.13 365.18h9.6m-4.8 -4.8v9.6M431.36 369.3h9.6m-4.8 -4.8v9.6M404.21 373.37h9.6m-4.8 -4.8v9.6M440.07 369.16h9.6m-4.8 -4.8v9.6M422.98 376.94h9.6m-4.8 -4.8v9.6M416.1 368.66h9.6m-4.8 -4.8v9.6M451.5 367.87h9.6m-4.8 -4.8v9.6M383.73 363.85h9.6m-4.8 -4.8v9.6M424.17 356.96h9.6m-4.8 -4.8v9.6M405.62 366.15h9.6m-4.8 -4.8v9.6M381.95 362.22h9.6m-4.8 -4.8v9.6M440.03 363.06h9.6m-4.8 -4.8v9.6M424.52 369.62h9.6m-4.8 -4.8v9.6M451.4 368.86h9.6m-4.8 -4.8v9.6M427.48 364.43h9.6m-4.8 -4.8v9.6M406.35 362.38h9.6m-4.8 -4.8v9.6M458.77 381.24h9.6m-4.8 -4.8v9.6M388.46 364.63h9.6m-4.8 -4.8v9.6M383.35 365.5h9.6m-4.8 -4.8v9.6M438.34 368.74h9.6m-4.8 -4.8v9.6M409.09 362.26h9.6m-4.8 -4.8v9.6M408.33 370.29h9.6m-4.8 -4.8v9.6M449.98 361.91h9.6m-4.8 -4.8v9.6M405.57 369.4h9.6m-4.8 -4.8v9.6M450.98 367.96h9.6m-4.8 -4.8v9.6M431.17 364.36h9.6m-4.8 -4.8v9.6M405.71 370.36h9.6m-4.8 -4.8v9.6M383.91 364.67h9.6m-4.8 -4.8v9.6M398.92 370.22h9.6m-4.8 -4.8v9.6M457.41 371.5h9.6m-4.8 -4.8v9.6M411.87 365.23h9.6m-4.8 -4.8v9.6M392.04 361.25h9.6m-4.8 -4.8v9.6M403.2 371.4h9.6m-4.8 -4.8v9.6M451.84 371.7h9.6m-4.8 -4.8v9.6M392.44 352.19h9.6m-4.8 -4.8v9.6M442 368.82h9.6m-4.8 -4.8v9.6M390.01 367.94h9.6m-4.8 -4.8v9.6M456.84 364.9h9.6m-4.8 -4.8v9.6M421.97 372.91h9.6m-4.8 -4.8v9.6M382.59 365.65h9.6m-4.8 -4.8v9.6M454.38 362.59h9.6m-4.8 -4.8v9.6M408.07 363.12h9.6m-4.8 -4.8v9.6M438.24 367.06h9.6m-4.8 -4.8v9.6M421.45 363.14h9.6m-4.8 -4.8v9.6M386.59 364.58h9.6m-4.8 -4.8v9.6M387.68 365.02h9.6m-4.8 -4.8v9.6M391.17 363.95h9.6m-4.8 -4.8v9.6M392.13 365.4h9.6m-4.8 -4.8v9.6M383.37 361.5h9.6m-4.8 -4.8v9.6M382.9 362.65h9.6m-4.8 -4.8v9.6M455.79 370.63h9.6m-4.8 -4.8v9.6M386.48 363.08h9.6m-4.8 -4.8v9.6M420.21 371.93h9.6m-4.8 -4.8v9.6M388.69 366.58h9.6m-4.8 -4.8v9.6M396.47 365.25h9.6m-4.8 -4.8v9.6M440.8 361.21h9.6m-4.8 -4.8v9.6M454.96 365.58h9.6m-4.8 -4.8v9.6M417.08 363.44h9.6m-4.8 -4.8v9.6M379.56 356.82h9.6m-4.8 -4.8v9.6M459.9 368.26h9.6m-4.8 -4.8v9.6M382.96 366.76h9.6m-4.8 -4.8v9.6M410.59 372.02h9.6m-4.8 -4.8v9.6M422.69 367.95h9.6m-4.8 -4.8v9.6M451.21 362.1h9.6m-4.8 -4.8v9.6M445.66 358.35h9.6m-4.8 -4.8v9.6M428.38 374.44h9.6m-4.8 -4.8v9.6M411.33 364.21h9.6m-4.8 -4.8v9.6M446.58 360.72h9.6m-4.8 -4.8v9.6M449.37 354.55h9.6m-4.8 -4.8v9.6M449.6 365.01h9.6m-4.8 -4.8v9.6M437.13 366.4h9.6m-4.8 -4.8v9.6M387.01 370.93h9.6m-4.8 -4.8v9.6M403.24 369.71h9.6m-4.8 -4.8v9.6M418.39 374.5h9.6m-4.8 -4.8v9.6M419.94 374.09h9.6m-4.8 -4.8v9.6M446.45 369.83h9.6m-4.8 -4.8v9.6M398.33 372.06h9.6m-4.8 -4.8v9.6M432.84 367.67h9.6m-4.8 -4.8v9.6M409.36 366.29h9.6m-4.8 -4.8v9.6M441.81 362.29h9.6m-4.8 -4.8v9.6M394.93 364.73h9.6m-4.8 -4.8v9.6M417.64 364.42h9.6m-4.8 -4.8v9.6M387.47 358.92h9.6m-4.8 -4.8v9.6M396.24 371.54h9.6m-4.8 -4.8v9.6M454.72 368.02h9.6m-4.8 -4.8v9.6M404.66 372.32h9.6m-4.8 -4.8v9.6M451.31 370.62h9.6m-4.8 -4.8v9.6M421.5 368.44h9.6m-4.8 -4.8v9.6M382.26 364.49h9.6m-4.8 -4.8v9.6M443.22 358.93h9.6m-4.8 -4.8v9.6M383.3 354.39h9.6m-4.8 -4.8v9.6M445.97 363.68h9.6m-4.8 -4.8v9.6M379.81 364.87h9.6m-4.8 -4.8v9.6M433.61 367.65h9.6m-4.8 -4.8v9.6M392.5 363.99h9.6m-4.8 -4.8v9.6M406.83 364.61h9.6m-4.8 -4.8v9.6M456.14 370.44h9.6m-4.8 -4.8v9.6M418.42 366.62h9.6m-4.8 -4.8v9.6M432.26 368.49h9.6m-4.8 -4.8v9.6M439 361.09h9.6m-4.8 -4.8v9.6M387.99 357.5h9.6m-4.8 -4.8v9.6M446.93 357.54h9.6m-4.8 -4.8v9.6M453 367.07h9.6m-4.8 -4.8v9.6M391.67 370.1h9.6m-4.8 -4.8v9.6M423.27 376.89h9.6m-4.8 -4.8v9.6M402.02 367.04h9.6m-4.8 -4.8v9.6M438.99 372.55h9.6m-4.8 -4.8v9.6M381.39 371.52h9.6m-4.8 -4.8v9.6M420.55 370.93h9.6m-4.8 -4.8v9.6M443.21 370.23h9.6m-4.8 -4.8v9.6M438.51 362.82h9.6m-4.8 -4.8v9.6M387.85 354.8h9.6m-4.8 -4.8v9.6M446.45 366.61h9.6m-4.8 -4.8v9.6M398.33 363.41h9.6m-4.8 -4.8v9.6M444.42 372.91h9.6m-4.8 -4.8v9.6M419.3 368.46h9.6m-4.8 -4.8v9.6M392.1 367.09h9.6m-4.8 -4.8v9.6M438.46 371.09h9.6m-4.8 -4.8v9.6M444.43 374.21h9.6m-4.8 -4.8v9.6M435.61 358.97h9.6m-4.8 -4.8v9.6M457.12 374.68h9.6m-4.8 -4.8v9.6M399.81 370.77h9.6m-4.8 -4.8v9.6M398.16 364.76h9.6m-4.8 -4.8v9.6M391.01 362.42h9.6m-4.8 -4.8v9.6M422.72 367.73h9.6m-4.8 -4.8v9.6M411.4 367.85h9.6m-4.8 -4.8v9.6M407.94 371.68h9.6m-4.8 -4.8v9.6M416.32 365.52h9.6m-4.8 -4.8v9.6M401.3 364.57h9.6m-4.8 -4.8v9.6M379.44 370.63h9.6m-4.8 -4.8v9.6M417.25 361.73h9.6m-4.8 -4.8v9.6M401.41 367.06h9.6m-4.8 -4.8v9.6M415.47 364.57h9.6m-4.8 -4.8v9.6M454.21 373.26h9.6m-4.8 -4.8v9.6M393.57 369.46h9.6m-4.8 -4.8v9.6M430.65 370.37h9.6m-4.8 -4.8v9.6M431.21 370.76h9.6m-4.8 -4.8v9.6M401.85 360.86h9.6m-4.8 -4.8v9.6M417.18 376.66h9.6m-4.8 -4.8v9.6M457.5 366.47h9.6m-4.8 -4.8v9.6M406.79 371.83h9.6m-4.8 -4.8v9.6M436.7 363.73h9.6m-4.8 -4.8v9.6M447.04 364.53h9.6m-4.8 -4.8v9.6M408.27 370.16h9.6m-4.8 -4.8v9.6M459.15 357.34h9.6m-4.8 -4.8v9.6M429.71 368.13h9.6m-4.8 -4.8v9.6M419.61 364.14h9.6m-4.8 -4.8v9.6M436.91 372.24h9.6m-4.8 -4.8v9.6M413.37 369.2h9.6m-4.8 -4.8v9.6M436.7 365.7h9.6m-4.8 -4.8v9.6M401.32 364.78h9.6m-4.8 -4.8v9.6M454.08 368.05h9.6m-4.8 -4.8v9.6M422.92 372.84h9.6m-4.8 -4.8v9.6M398.64 379.18h9.6m-4.8 -4.8v9.6M414.45 371.42h9.6m-4.8 -4.8v9.6M451.48 370.19h9.6m-4.8 -4.8v9.6M444.36 366.68h9.6m-4.8 -4.8v9.6M418.27 365.19h9.6m-4.8 -4.8v9.6M407.54 357.06h9.6m-4.8 -4.8v9.6M409.52 365.45h9.6m-4.8 -4.8v9.6M458.44 362.69h9.6m-4.8 -4.8v9.6M388.17 360.74h9.6m-4.8 -4.8v9.6M450.99 362.46h9.6m-4.8 -4.8v9.6M448.45 362.78h9.6m-4.8 -4.8v9.6M397.24 365.71h9.6m-4.8 -4.8v9.6M407.35 368.76h9.6m-4.8 -4.8v9.6M425.16 367.1h9.6m-4.8 -4.8v9.6M443.98 357.12h9.6m-4.8 -4.8v9.6M455.95 363.17h9.6m-4.8 -4.8v9.6M459.3 360.15h9.6m-4.8 -4.8v9.6M401.84 371.46h9.6m-4.8 -4.8v9.6M394.65 362.75h9.6m-4.8 -4.8v9.6M418.54 367.26h9.6m-4.8 -4.8v9.6M424.19 366.33h9.6m-4.8 -4.8v9.6M432.2 373.52h9.6m-4.8 -4.8v9.6M387.8 372.14h9.6m-4.8 -4.8v9.6M431.37 377.24h9.6m-4.8 -4.8v9.6M453.6 368.1h9.6m-4.8 -4.8v9.6M453.1 355.27h9.6m-4.8 -4.8v9.6M455.42 365.63h9.6m-4.8 -4.8v9.6M453.68 371.87h9.6m-4.8 -4.8v9.6M456.79 365.36h9.6m-4.8 -4.8v9.6M383.04 365.02h9.6m-4.8 -4.8v9.6M453.17 365.35h9.6m-4.8 -4.8v9.6M401.03 367.33h9.6m-4.8 -4.8v9.6M405.03 372.37h9.6m-4.8 -4.8v9.6M416.18 371.35h9.6m-4.8 -4.8v9.6M456.35 363.51h9.6m-4.8 -4.8v9.6M428.03 366.68h9.6m-4.8 -4.8v9.6M407.62 361.58h9.6m-4.8 -4.8v9.6M409.35 372.71h9.6m-4.8 -4.8v9.6M452.27 361.07h9.6m-4.8 -4.8v9.6M445.6 365.03h9.6m-4.8 -4.8v9.6M390.22 362.62h9.6m-4.8 -4.8v9.6M399.21 358.99h9.6m-4.8 -4.8v9.6M409.18 368.26h9.6m-4.8 -4.8v9.6M396.63 363.03h9.6m-4.8 -4.8v9.6M424.66 365.59h9.6m-4.8 -4.8v9.6M397.18 361.3h9.6m-4.8 -4.8v9.6M425.59 364.62h9.6m-4.8 -4.8v9.6M454.79 360.38h9.6m-4.8 -4.8v9.6M447.73 362.8h9.6m-4.8 -4.8v9.6M387.13 365.47h9.6m-4.8 -4.8v9.6M395.83 352.64h9.6m-4.8 -4.8v9.6M412.48 368.34h9.6m-4.8 -4.8v9.6M431.35 365.45h9.6m-4.8 -4.8v9.6M410.36 371.28h9.6m-4.8 -4.8v9.6M399.45 374.83h9.6m-4.8 -4.8v9.6M406.97 370.47h9.6m-4.8 -4.8v9.6M395.6 363.61h9.6m-4.8 -4.8v9.6M448.79 362.81h9.6m-4.8 -4.8v9.6M435.48 365.9h9.6m-4.8 -4.8v9.6M412.34 364.45h9.6m-4.8 -4.8v9.6M435.74 361.37h9.6m-4.8 -4.8v9.6M421.13 364.26h9.6m-4.8 -4.8v9.6M421.65 368.78h9.6m-4.8 -4.8v9.6M408.8 367.04h9.6m-4.8 -4.8v9.6M418.58 369.86h9.6m-4.8 -4.8v9.6M458.79 371.25h9.6m-4.8 -4.8v9.6M442.53 358.65h9.6m-4.8 -4.8v9.6M446.03 370.89h9.6m-4.8 -4.8v9.6M389.16 363.68h9.6m-4.8 -4.8v9.6M419.88 367.82h9.6m-4.8 -4.8v9.6M408.77 377.32h9.6m-4.8 -4.8v9.6M386.29 359.91h9.6m-4.8 -4.8v9.6M411.06 369.52h9.6m-4.8 -4.8v9.6M385.1 362.32h9.6m-4.8 -4.8v9.6M398.02 365.89h9.6m-4.8 -4.8v9.6M443.69 372.31h9.6m-4.8 -4.8v9.6M434.59 365.3h9.6m-4.8 -4.8v9.6M435.59 365.48h9.6m-4.8 -4.8v9.6M385.52 358.73h9.6m-4.8 -4.8v9.6M392.36 361.23h9.6m-4.8 -4.8v9.6M380.85 371.25h9.6m-4.8 -4.8v9.6M386.99 358.24h9.6m-4.8 -4.8v9.6M387.28 359.65h9.6m-4.8 -4.8v9.6M456.74 363.13h9.6m-4.8 -4.8v9.6M451.39 363.33h9.6m-4.8 -4.8v9.6M395.62 367.14h9.6m-4.8 -4.8v9.6M399.62 362.23h9.6m-4.8 -4.8v9.6M456.8 368.39h9.6m-4.8 -4.8v9.6M425.19 354.97h9.6m-4.8 -4.8v9.6M408.9 368.52h9.6m-4.8 -4.8v9.6M416.83 373.87h9.6m-4.8 -4.8v9.6M401.11 366.6h9.6m-4.8 -4.8v9.6M426.29 361.48h9.6m-4.8 -4.8v9.6M437.75 368.27h9.6m-4.8 -4.8v9.6M420.78 380.16h9.6m-4.8 -4.8v9.6M445.46 358.31h9.6m-4.8 -4.8v9.6M388.25 361.81h9.6m-4.8 -4.8v9.6M427.91 370.19h9.6m-4.8 -4.8v9.6M459.12 363.96h9.6m-4.8 -4.8v9.6M391.15 367.63h9.6m-4.8 -4.8v9.6M419.13 374.29h9.6m-4.8 -4.8v9.6M430.05 363.06h9.6m-4.8 -4.8v9.6M406.39 369.01h9.6m-4.8 -4.8v9.6M457.1 364.3h9.6m-4.8 -4.8v9.6M418.35 368.77h9.6m-4.8 -4.8v9.6M417.81 364.94h9.6m-4.8 -4.8v9.6M452.09 365.19h9.6m-4.8 -4.8v9.6M380.39 372.96h9.6m-4.8 -4.8v9.6M449.36 362.13h9.6m-4.8 -4.8v9.6M389.54 365.53h9.6m-4.8 -4.8v9.6M409.76 363.54h9.6m-4.8 -4.8v9.6M418.6 368.32h9.6m-4.8 -4.8v9.6M417.64 362.19h9.6m-4.8 -4.8v9.6M382.29 364.86h9.6m-4.8 -4.8v9.6M404.74 375.58h9.6m-4.8 -4.8v9.6M407.95 368.63h9.6m-4.8 -4.8v9.6M456.42 364.23h9.6m-4.8 -4.8v9.6M453.25 367.51h9.6m-4.8 -4.8v9.6M426.35 370.32h9.6m-4.8 -4.8v9.6M454.57 359.37h9.6m-4.8 -4.8v9.6M448.94 365.95h9.6m-4.8 -4.8v9.6M409.48 362.69h9.6m-4.8 -4.8v9.6M388.56 362.65h9.6m-4.8 -4.8v9.6M428.19 374.56h9.6m-4.8 -4.8v9.6M405.22 370.57h9.6m-4.8 -4.8v9.6M379.89 364.94h9.6m-4.8 -4.8v9.6M458.44 365.66h9.6m-4.8 -4.8v9.6M457.48 370.62h9.6m-4.8 -4.8v9.6M422.51 375.26h9.6m-4.8 -4.8v9.6M429.09 372.41h9.6m-4.8 -4.8v9.6M433.19 369.03h9.6m-4.8 -4.8v9.6M454.02 370.2h9.6m-4.8 -4.8v9.6M416.9 371.45h9.6m-4.8 -4.8v9.6M426.23 359.54h9.6m-4.8 -4.8v9.6M397.42 362.94h9.6m-4.8 -4.8v9.6M398.7 368.3h9.6m-4.8 -4.8v9.6M421.32 368.86h9.6m-4.8 -4.8v9.6M397.63 356.97h9.6m-4.8 -4.8v9.6M381.55 360.44h9.6m-4.8 -4.8v9.6M408.89 367.91h9.6m-4.8 -4.8v9.6M439.74 371.76h9.6m-4.8 -4.8v9.6M401.5 373.01h9.6m-4.8 -4.8v9.6M448.86 366.84h9.6m-4.8 -4.8v9.6M435.91 366.42h9.6m-4.8 -4.8v9.6M431.93 374.53h9.6m-4.8 -4.8v9.6M451.27 371.79h9.6m-4.8 -4.8v9.6M385.07 363.58h9.6m-4.8 -4.8v9.6M393.56 373.87h9.6m-4.8 -4.8v9.6M452.62 373.83h9.6m-4.8 -4.8v9.6M452.44 366.04h9.6m-4.8 -4.8v9.6M385.43 360.78h9.6m-4.8 -4.8v9.6M441.71 363.85h9.6m-4.8 -4.8v9.6M380.35 358.86h9.6m-4.8 -4.8v9.6M390.04 356.05h9.6m-4.8 -4.8v9.6M387.98 359.21h9.6m-4.8 -4.8v9.6M402.87 366.71h9.6m-4.8 -4.8v9.6M410.5 357.93h9.6m-4.8 -4.8v9.6M452.75 358.04h9.6m-4.8 -4.8v9.6M414.39 364.09h9.6m-4.8 -4.8v9.6M389.11 367.12h9.6m-4.8 -4.8v9.6M401.12 363.17h9.6m-4.8 -4.8v9.6M379.62 373.21h9.6m-4.8 -4.8v9.6M381.37 364.97h9.6m-4.8 -4.8v9.6M413.96 379.91h9.6m-4.8 -4.8v9.6M420.52 370.79h9.6m-4.8 -4.8v9.6M399.31 359.87h9.6m-4.8 -4.8v9.6M409.82 367.56h9.6m-4.8 -4.8v9.6M387.46 355.83h9.6m-4.8 -4.8v9.6M432.37 366.83h9.6m-4.8 -4.8v9.6M410.85 367.35h9.6m-4.8 -4.8v9.6M392.16 364.79h9.6m-4.8 -4.8v9.6M419.32 366.37h9.6m-4.8 -4.8v9.6M395.95 364.06h9.6m-4.8 -4.8v9.6M402.72 359.79h9.6m-4.8 -4.8v9.6M389.14 355.82h9.6m-4.8 -4.8v9.6M442.23 363.49h9.6m-4.8 -4.8v9.6M401.69 370.31h9.6m-4.8 -4.8v9.6M456.38 363.96h9.6m-4.8 -4.8v9.6M411.88 361.68h9.6m-4.8 -4.8v9.6M391.65 360.3h9.6m-4.8 -4.8v9.6M436.12 364.44h9.6m-4.8 -4.8v9.6M438.42 361.14h9.6m-4.8 -4.8v9.6M450.36 359.24h9.6m-4.8 -4.8v9.6M389.73 375.38h9.6m-4.8 -4.8v9.6M442.97 358.1h9.6m-4.8 -4.8v9.6M448.62 361.55h9.6m-4.8 -4.8v9.6M403.72 363.4h9.6m-4.8 -4.8v9.6M415.85 371.13h9.6m-4.8 -4.8v9.6M429.21 366.55h9.6m-4.8 -4.8v9.6M398.95 361.66h9.6m-4.8 -4.8v9.6M449.56 372.13h9.6m-4.8 -4.8v9.6M435.64 362.41h9.6m-4.8 -4.8v9.6M448.37 364.79h9.6m-4.8 -4.8v9.6M415.48 361.69h9.6m-4.8 -4.8v9.6M421.07 365.6h9.6m-4.8 -4.8v9.6M394.81 364.47h9.6m-4.8 -4.8v9.6M404.49 365.62h9.6m-4.8 -4.8v9.6M438.09 362.54h9.6m-4.8 -4.8v9.6M456.65 365.9h9.6m-4.8 -4.8v9.6M391.4 360.74h9.6m-4.8 -4.8v9.6M383.2 366.6h9.6m-4.8 -4.8v9.6M384.55 369.07h9.6m-4.8 -4.8v9.6M414.31 370.99h9.6m-4.8 -4.8v9.6M443.2 371.75h9.6m-4.8 -4.8v9.6M397.28 367.72h9.6m-4.8 -4.8v9.6M417.68 367.07h9.6m-4.8 -4.8v9.6M420.78 376.32h9.6m-4.8 -4.8v9.6M446.84 370.74h9.6m-4.8 -4.8v9.6M392.36 359.93h9.6m-4.8 -4.8v9.6M380.29 365.84h9.6m-4.8 -4.8v9.6M420.07 368.82h9.6m-4.8 -4.8v9.6M407.83 372.75h9.6m-4.8 -4.8v9.6M402.72 370.17h9.6m-4.8 -4.8v9.6M441.54 366.63h9.6m-4.8 -4.8v9.6M434.37 358.62h9.6m-4.8 -4.8v9.6M385.89 361.21h9.6m-4.8 -4.8v9.6M423.42 376.27h9.6m-4.8 -4.8v9.6M443.61 363.03h9.6m-4.8 -4.8v9.6M452.66 361.45h9.6m-4.8 -4.8v9.6M379.11 360.22h9.6m-4.8 -4.8v9.6M444.4 370.75h9.6m-4.8 -4.8v9.6M382.6 363.62h9.6m-4.8 -4.8v9.6M434.26 356.37h9.6m-4.8 -4.8v9.6M427.46 372.21h9.6m-4.8 -4.8v9.6M456.08 364.91h9.6m-4.8 -4.8v9.6M430.19 370.84h9.6m-4.8 -4.8v9.6M384.76 369.17h9.6m-4.8 -4.8v9.6M433.31 368.48h9.6m-4.8 -4.8v9.6M399.71 359.86h9.6m-4.8 -4.8v9.6M446.37 359.66h9.6m-4.8 -4.8v9.6M381.64 367.42h9.6m-4.8 -4.8v9.6M405.31 368.35h9.6m-4.8 -4.8v9.6M433.8 370.46h9.6m-4.8 -4.8v9.6M391.68 372.92h9.6m-4.8 -4.8v9.6M431.36 364.24h9.6m-4.8 -4.8v9.6M435.48 358.68h9.6m-4.8 -4.8v9.6M438.43 358.52h9.6m-4.8 -4.8v9.6M449.88 367.42h9.6m-4.8 -4.8v9.6M412.51 361.88h9.6m-4.8 -4.8v9.6M390.62 358.18h9.6m-4.8 -4.8v9.6M400.15 366.28h9.6m-4.8 -4.8v9.6M410.61 367.73h9.6m-4.8 -4.8v9.6M383.51 364.98h9.6m-4.8 -4.8v9.6M436.39 364.59h9.6m-4.8 -4.8v9.6M384.2 354.84h9.6m-4.8 -4.8v9.6M383.77 367.55h9.6m-4.8 -4.8v9.6M454.5 371.61h9.6m-4.8 -4.8v9.6M444.29 360.99h9.6m-4.8 -4.8v9.6M399.61 364.3h9.6m-4.8 -4.8v9.6M406.73 375.38h9.6m-4.8 -4.8v9.6M445.89 369.69h9.6m-4.8 -4.8v9.6M429.17 371.38h9.6m-4.8 -4.8v9.6M400.52 367.59h9.6m-4.8 -4.8v9.6M415.41 366.94h9.6m-4.8 -4.8v9.6M448.28 360.44h9.6m-4.8 -4.8v9.6M379.16 364.12h9.6m-4.8 -4.8v9.6M459.35 366.51h9.6m-4.8 -4.8v9.6M424.86 371.69h9.6m-4.8 -4.8v9.6M393.82 358.71h9.6m-4.8 -4.8v9.6M443.8 358.8h9.6m-4.8 -4.8v9.6M385.26 364.42h9.6m-4.8 -4.8v9.6M412.25 371.36h9.6m-4.8 -4.8v9.6M425.44 358.53h9.6m-4.8 -4.8v9.6M399.09 360.12h9.6m-4.8 -4.8v9.6M450.68 369.44h9.6m-4.8 -4.8v9.6M435.45 373.68h9.6m-4.8 -4.8v9.6M392.19 364.61h9.6m-4.8 -4.8v9.6M391.44 357.64h9.6m-4.8 -4.8v9.6M384.11 365.72h9.6m-4.8 -4.8v9.6M425.31 369.28h9.6m-4.8 -4.8v9.6M394.24 365.76h9.6m-4.8 -4.8v9.6M423.01 365.44h9.6m-4.8 -4.8v9.6M445.36 358.48h9.6m-4.8 -4.8v9.6M450.19 371.05h9.6m-4.8 -4.8v9.6M388.51 364.49h9.6m-4.8 -4.8v9.6M405.97 367.21h9.6m-4.8 -4.8v9.6M412.85 370.89h9.6m-4.8 -4.8v9.6M410.1 373.07h9.6m-4.8 -4.8v9.6M412.97 364.21h9.6m-4.8 -4.8v9.6M416.3 367.76h9.6m-4.8 -4.8v9.6M440.28 361.88h9.6m-4.8 -4.8v9.6M403.8 358.51h9.6m-4.8 -4.8v9.6M406.87 368.28h9.6m-4.8 -4.8v9.6M410.66 365.11h9.6m-4.8 -4.8v9.6M391.33 365.03h9.6m-4.8 -4.8v9.6M430.07 367.69h9.6m-4.8 -4.8v9.6M411.46 366.21h9.6m-4.8 -4.8v9.6M453.18 366.47h9.6m-4.8 -4.8v9.6M445.52 371.93h9.6m-4.8 -4.8v9.6M397.71 357.09h9.6m-4.8 -4.8v9.6M398.69 363.59h9.6m-4.8 -4.8v9.6M442.36 370.36h9.6m-4.8 -4.8v9.6M424.37 378.5h9.6m-4.8 -4.8v9.6M379.93 363.38h9.6m-4.8 -4.8v9.6M430.03 364.24h9.6m-4.8 -4.8v9.6M411.03 362.98h9.6m-4.8 -4.8v9.6M442.59 359.84h9.6m-4.8 -4.8v9.6M439.49 367.03h9.6m-4.8 -4.8v9.6M453.68 362.81h9.6m-4.8 -4.8v9.6M435.65 372.9h9.6m-4.8 -4.8v9.6M452.92 364.95h9.6m-4.8 -4.8v9.6M402.12 360.78h9.6m-4.8 -4.8v9.6M406.49 369.27h9.6m-4.8 -4.8v9.6M383.89 363.9h9.6m-4.8 -4.8v9.6M449.2 364.56h9.6m-4.8 -4.8v9.6M391.57 362.51h9.6m-4.8 -4.8v9.6M423.68 361.42h9.6m-4.8 -4.8v9.6M420.27 373.65h9.6m-4.8 -4.8v9.6M444.92 358.71h9.6m-4.8 -4.8v9.6M410.47 373.36h9.6m-4.8 -4.8v9.6M390.64 366.22h9.6m-4.8 -4.8v9.6M410.08 371.09h9.6m-4.8 -4.8v9.6M382.99 363.57h9.6m-4.8 -4.8v9.6M403.48 367.71h9.6m-4.8 -4.8v9.6M430.04 365.02h9.6m-4.8 -4.8v9.6M383.72 363.1h9.6m-4.8 -4.8v9.6M459.13 356.84h9.6m-4.8 -4.8v9.6M422.46 366.69h9.6m-4.8 -4.8v9.6M403.36 366.55h9.6m-4.8 -4.8v9.6M446.52 363.16h9.6m-4.8 -4.8v9.6M390.22 360.34h9.6m-4.8 -4.8v9.6M405.13 366.84h9.6m-4.8 -4.8v9.6M454.88 371.22h9.6m-4.8 -4.8v9.6M398.5 367.97h9.6m-4.8 -4.8v9.6M438.36 364.53h9.6m-4.8 -4.8v9.6M385.64 359.26h9.6m-4.8 -4.8v9.6M422.16 366.27h9.6m-4.8 -4.8v9.6M432.32 367.04h9.6m-4.8 -4.8v9.6M396.06 361.12h9.6m-4.8 -4.8v9.6M405.59 368.4h9.6m-4.8 -4.8v9.6M423.62 367.14h9.6m-4.8 -4.8v9.6M426.81 361.26h9.6m-4.8 -4.8v9.6M391.57 357.97h9.6m-4.8 -4.8v9.6M412.32 361.59h9.6m-4.8 -4.8v9.6M459.94 369.05h9.6m-4.8 -4.8v9.6M405.17 365.03h9.6m-4.8 -4.8v9.6M442.61 369.71h9.6m-4.8 -4.8v9.6M395.4 359.36h9.6m-4.8 -4.8v9.6M416.39 370.44h9.6m-4.8 -4.8v9.6M421 374.73h9.6m-4.8 -4.8v9.6M427.29 370.09h9.6m-4.8 -4.8v9.6M437.13 364.31h9.6m-4.8 -4.8v9.6M443.46 375.23h9.6m-4.8 -4.8v9.6M435.72 372.3h9.6m-4.8 -4.8v9.6M444.37 360.37h9.6m-4.8 -4.8v9.6M450.74 364.82h9.6m-4.8 -4.8v9.6M405.47 366.3h9.6m-4.8 -4.8v9.6M446 372.38h9.6m-4.8 -4.8v9.6M421.15 361.26h9.6m-4.8 -4.8v9.6M400.08 359.83h9.6m-4.8 -4.8v9.6M393.1 360.04h9.6m-4.8 -4.8v9.6M440.91 370.32h9.6m-4.8 -4.8v9.6M430.58 364.47h9.6m-4.8 -4.8v9.6M384.82 357.85h9.6m-4.8 -4.8v9.6M426.6 369.43h9.6m-4.8 -4.8v9.6M382.7 364.35h9.6m-4.8 -4.8v9.6M410.74 369.83h9.6m-4.8 -4.8v9.6M425.28 365.34h9.6m-4.8 -4.8v9.6M431.68 367.94h9.6m-4.8 -4.8v9.6M391.86 364.67h9.6m-4.8 -4.8v9.6M382.73 369.94h9.6m-4.8 -4.8v9.6M425.68 375.78h9.6m-4.8 -4.8v9.6M445.31 360.59h9.6m-4.8 -4.8v9.6M443.52 357.7h9.6m-4.8 -4.8v9.6M408.18 363.02h9.6m-4.8 -4.8v9.6M425.75 361.48h9.6m-4.8 -4.8v9.6M437.22 368h9.6m-4.8 -4.8v9.6M449.71 365.38h9.6m-4.8 -4.8v9.6M418.85 366.94h9.6m-4.8 -4.8v9.6M449.89 365.94h9.6m-4.8 -4.8v9.6M404.79 358.14h9.6m-4.8 -4.8v9.6M396.83 370.08h9.6m-4.8 -4.8v9.6M402.88 367.93h9.6m-4.8 -4.8v9.6M438.11 367.04h9.6m-4.8 -4.8v9.6M450.67 368.57h9.6m-4.8 -4.8v9.6M417.2 364.68h9.6m-4.8 -4.8v9.6M435.37 375.1h9.6m-4.8 -4.8v9.6M390.32 357.89h9.6m-4.8 -4.8v9.6M420.13 364.49h9.6m-4.8 -4.8v9.6M414.26 366.77h9.6m-4.8 -4.8v9.6M414 361.72h9.6m-4.8 -4.8v9.6M394.31 352.59h9.6m-4.8 -4.8v9.6M429.46 366.59h9.6m-4.8 -4.8v9.6M433.44 362.95h9.6m-4.8 -4.8v9.6M430.55 365.34h9.6m-4.8 -4.8v9.6M439.16 362.88h9.6m-4.8 -4.8v9.6M416.15 370.8h9.6m-4.8 -4.8v9.6M448.04 368.3h9.6m-4.8 -4.8v9.6M425.29 365.28h9.6m-4.8 -4.8v9.6M450.4 367.63h9.6m-4.8 -4.8v9.6M412.27 363.55h9.6m-4.8 -4.8v9.6M435.71 362.02h9.6m-4.8 -4.8v9.6M395.01 365.6h9.6m-4.8 -4.8v9.6M385.82 361.42h9.6m-4.8 -4.8v9.6M454.42 365.57h9.6m-4.8 -4.8v9.6M409.09 367.86h9.6m-4.8 -4.8v9.6M382.8 357.89h9.6m-4.8 -4.8v9.6M429.11 367.25h9.6m-4.8 -4.8v9.6M454.56 364.86h9.6m-4.8 -4.8v9.6M441.28 374.06h9.6m-4.8 -4.8v9.6M458.93 364.19h9.6m-4.8 -4.8v9.6M454.71 372.64h9.6m-4.8 -4.8v9.6M415.94 370.16h9.6m-4.8 -4.8v9.6M398.01 356.63h9.6m-4.8 -4.8v9.6M384.38 354.82h9.6m-4.8 -4.8v9.6M401.1 366.56h9.6m-4.8 -4.8v9.6M430.22 372.99h9.6m-4.8 -4.8v9.6M452.76 363.7h9.6m-4.8 -4.8v9.6M379.24 365.08h9.6m-4.8 -4.8v9.6M445.2 363.28h9.6m-4.8 -4.8v9.6M440.92 371.31h9.6m-4.8 -4.8v9.6M434.97 360.64h9.6m-4.8 -4.8v9.6M389.44 355.88h9.6m-4.8 -4.8v9.6M383.41 369.8h9.6m-4.8 -4.8v9.6M438.68 368.83h9.6m-4.8 -4.8v9.6M430.97 370.18h9.6m-4.8 -4.8v9.6M409.01 363.77h9.6m-4.8 -4.8v9.6M407.04 375.67h9.6m-4.8 -4.8v9.6M381.74 362.16h9.6m-4.8 -4.8v9.6M459.43 368.15h9.6m-4.8 -4.8v9.6M446.75 368.5h9.6m-4.8 -4.8v9.6M457.87 363.39h9.6m-4.8 -4.8v9.6M445.25 373.87h9.6m-4.8 -4.8v9.6M416.2 374.71h9.6m-4.8 -4.8v9.6M447.44 368.47h9.6m-4.8 -4.8v9.6M395.14 360.21h9.6m-4.8 -4.8v9.6M433.48 367.83h9.6m-4.8 -4.8v9.6M398.28 367.95h9.6m-4.8 -4.8v9.6M410.84 365.32h9.6m-4.8 -4.8v9.6M449.59 367.24h9.6m-4.8 -4.8v9.6M413.46 370.96h9.6m-4.8 -4.8v9.6M451.37 366.67h9.6m-4.8 -4.8v9.6M427.58 366.06h9.6m-4.8 -4.8v9.6M402.85 352.64h9.6m-4.8 -4.8v9.6M400.15 369.54h9.6m-4.8 -4.8v9.6M379.37 361.89h9.6m-4.8 -4.8v9.6M425.36 368.7h9.6m-4.8 -4.8v9.6M446.91 365.99h9.6m-4.8 -4.8v9.6M397.27 356.81h9.6m-4.8 -4.8v9.6M417.85 364.87h9.6m-4.8 -4.8v9.6M458.66 363.67h9.6m-4.8 -4.8v9.6M410.91 369.59h9.6m-4.8 -4.8v9.6M454.98 369.85h9.6m-4.8 -4.8v9.6M445.94 363.39h9.6m-4.8 -4.8v9.6M419.1 369.81h9.6m-4.8 -4.8v9.6M430.48 369.65h9.6m-4.8 -4.8v9.6M384.4 359.87h9.6m-4.8 -4.8v9.6M420.86 374.02h9.6m-4.8 -4.8v9.6M440.55 368.36h9.6m-4.8 -4.8v9.6M397.73 360.24h9.6m-4.8 -4.8v9.6M383.26 363.36h9.6m-4.8 -4.8v9.6M381.48 359.93h9.6m-4.8 -4.8v9.6M392.06 366.94h9.6m-4.8 -4.8v9.6M398.33 360.74h9.6m-4.8 -4.8v9.6M444.23 368.03h9.6m-4.8 -4.8v9.6M416.22 361.97h9.6m-4.8 -4.8v9.6M422.41 364.61h9.6m-4.8 -4.8v9.6M404.42 363.35h9.6m-4.8 -4.8v9.6M403.26 358.01h9.6m-4.8 -4.8v9.6M423.86 366.47h9.6m-4.8 -4.8v9.6M439.41 367.96h9.6m-4.8 -4.8v9.6M393.71 355.93h9.6m-4.8 -4.8v9.6M414.25 366.35h9.6m-4.8 -4.8v9.6M431.18 361.08h9.6m-4.8 -4.8v9.6M456.73 365.52h9.6m-4.8 -4.8v9.6M400.88 359.12h9.6m-4.8 -4.8v9.6M410.87 371.38h9.6m-4.8 -4.8v9.6M425.13 373.72h9.6m-4.8 -4.8v9.6M390.57 369.36h9.6m-4.8 -4.8v9.6M428.55 363.78h9.6m-4.8 -4.8v9.6M457.9 375.55h9.6m-4.8 -4.8v9.6M401.21 372.81h9.6m-4.8 -4.8v9.6M417.96 374.89h9.6m-4.8 -4.8v9.6M388.61 361.76h9.6m-4.8 -4.8v9.6M420.99 366.29h9.6m-4.8 -4.8v9.6M457.66 370.16h9.6m-4.8 -4.8v9.6M422.96 364.49h9.6m-4.8 -4.8v9.6M396.36 362.02h9.6m-4.8 -4.8v9.6M404.23 359.74h9.6m-4.8 -4.8v9.6M429.75 362.66h9.6m-4.8 -4.8v9.6M448.4 367.87h9.6m-4.8 -4.8v9.6M415.77 367.16h9.6m-4.8 -4.8v9.6M418.73 369.08h9.6m-4.8 -4.8v9.6M444.55 362.48h9.6m-4.8 -4.8v9.6M387.61 361.86h9.6m-4.8 -4.8v9.6M456.02 365.87h9.6m-4.8 -4.8v9.6M416.68 364.88h9.6m-4.8 -4.8v9.6M405.92 365.62h9.6m-4.8 -4.8v9.6M442.05 361.33h9.6m-4.8 -4.8v9.6M399.84 364.03h9.6m-4.8 -4.8v9.6M390.94 363.52h9.6m-4.8 -4.8v9.6M399.97 359.95h9.6m-4.8 -4.8v9.6M433.48 361.54h9.6m-4.8 -4.8v9.6M387.24 357.04h9.6m-4.8 -4.8v9.6M415.59 365.12h9.6m-4.8 -4.8v9.6M398.15 364.8h9.6m-4.8 -4.8v9.6M423.22 367.17h9.6m-4.8 -4.8v9.6M390.28 362.04h9.6m-4.8 -4.8v9.6M441.68 372.87h9.6m-4.8 -4.8v9.6M453.81 370.67h9.6m-4.8 -4.8v9.6M404.92 358.48h9.6m-4.8 -4.8v9.6M407.76 366.79h9.6m-4.8 -4.8v9.6M427.46 380.6h9.6m-4.8 -4.8v9.6M438.84 365.51h9.6m-4.8 -4.8v9.6M383.81 362.06h9.6m-4.8 -4.8v9.6M433.66 371.58h9.6m-4.8 -4.8v9.6M444.94 354.05h9.6m-4.8 -4.8v9.6M443.18 359.44h9.6m-4.8 -4.8v9.6M414.57 364.14h9.6m-4.8 -4.8v9.6M445.63 365.44h9.6m-4.8 -4.8v9.6M423.34 365.81h9.6m-4.8 -4.8v9.6M394.2 359.19h9.6m-4.8 -4.8v9.6M402.21 362.51h9.6m-4.8 -4.8v9.6M427.03 370.58h9.6m-4.8 -4.8v9.6M423.77 367.12h9.6m-4.8 -4.8v9.6M443.96 364.02h9.6m-4.8 -4.8v9.6M436.91 363.83h9.6m-4.8 -4.8v9.6M396.33 368.28h9.6m-4.8 -4.8v9.6M411.23 366.16h9.6m-4.8 -4.8v9.6M442.02 364.74h9.6m-4.8 -4.8v9.6M416.14 367.05h9.6m-4.8 -4.8v9.6M397.3 362.75h9.6m-4.8 -4.8v9.6M454.87 372.42h9.6m-4.8 -4.8v9.6M415.41 364.11h9.6m-4.8 -4.8v9.6M404.06 361.86h9.6m-4.8 -4.8v9.6M420.44 374.56h9.6m-4.8 -4.8v9.6M403.43 365.57h9.6m-4.8 -4.8v9.6M400.96 368.45h9.6m-4.8 -4.8v9.6M432.59 368.4h9.6m-4.8 -4.8v9.6M443.4 360.1h9.6m-4.8 -4.8v9.6M412.16 365.16h9.6m-4.8 -4.8v9.6M392.11 353.8h9.6m-4.8 -4.8v9.6M417.57 367.93h9.6m-4.8 -4.8v9.6M411.57 372.72h9.6m-4.8 -4.8v9.6M414.33 367.47h9.6m-4.8 -4.8v9.6M398.5 375.34h9.6m-4.8 -4.8v9.6M441.33 356.7h9.6m-4.8 -4.8v9.6M395.45 362.26h9.6m-4.8 -4.8v9.6M382.23 360.97h9.6m-4.8 -4.8v9.6M435.71 364.88h9.6m-4.8 -4.8v9.6M439.14 369.1h9.6m-4.8 -4.8v9.6M398.41 364.66h9.6m-4.8 -4.8v9.6M393.12 366.81h9.6m-4.8 -4.8v9.6M426.04 370.26h9.6m-4.8 -4.8v9.6M453.46 364.16h9.6m-4.8 -4.8v9.6M399.64 370.01h9.6m-4.8 -4.8v9.6M422.77 360.84h9.6m-4.8 -4.8v9.6M400.48 369.59h9.6m-4.8 -4.8v9.6M439.07 361.46h9.6m-4.8 -4.8v9.6M416.87 371.49h9.6m-4.8 -4.8v9.6M409.74 373.2h9.6m-4.8 -4.8v9.6M432.16 364.97h9.6m-4.8 -4.8v9.6M422.07 367.83h9.6m-4.8 -4.8v9.6M395.37 364.75h9.6m-4.8 -4.8v9.6M412.76 368.34h9.6m-4.8 -4.8v9.6M456.44 369.42h9.6m-4.8 -4.8v9.6M443.88 363.15h9.6m-4.8 -4.8v9.6M420.51 371.02h9.6m-4.8 -4.8v9.6M432.51 366.68h9.6m-4.8 -4.8v9.6M390.61 358.2h9.6m-4.8 -4.8v9.6M412.51 374.24h9.6m-4.8 -4.8v9.6M451.46 368.24h9.6m-4.8 -4.8v9.6M394.31 366.8h9.6m-4.8 -4.8v9.6M458.5 370.81h9.6m-4.8 -4.8v9.6M447.68 371.42h9.6m-4.8 -4.8v9.6M434.58 367.54h9.6m-4.8 -4.8v9.6M409.31 366.91h9.6m-4.8 -4.8v9.6M386.55 363.95h9.6m-4.8 -4.8v9.6M402.93 372.93h9.6m-4.8 -4.8v9.6M439.02 362.49h9.6m-4.8 -4.8v9.6M413.19 365.11h9.6m-4.8 -4.8v9.6M444.02 364.96h9.6m-4.8 -4.8v9.6M396.55 368.78h9.6m-4.8 -4.8v9.6M445.71 369.2h9.6m-4.8 -4.8v9.6M448.65 356.38h9.6m-4.8 -4.8v9.6M437.5 357.86h9.6m-4.8 -4.8v9.6M395.6 361.83h9.6m-4.8 -4.8v9.6M397.12 368.52h9.6m-4.8 -4.8v9.6M384.3 357.71h9.6m-4.8 -4.8v9.6M383.25 362.73h9.6m-4.8 -4.8v9.6M438.86 357.98h9.6m-4.8 -4.8v9.6M418.84 371.67h9.6m-4.8 -4.8v9.6M440.68 363.39h9.6m-4.8 -4.8v9.6M401.96 366.35h9.6m-4.8 -4.8v9.6M407.02 363.54h9.6m-4.8 -4.8v9.6M451.45 368.69h9.6m-4.8 -4.8v9.6M459.75 363.43h9.6m-4.8 -4.8v9.6M387.33 365.29h9.6m-4.8 -4.8v9.6M442.11 369.55h9.6m-4.8 -4.8v9.6M424.07 366.06h9.6m-4.8 -4.8v9.6M379.47 362.6h9.6m-4.8 -4.8v9.6M428.96 377.64h9.6m-4.8 -4.8v9.6M401.74 365.53h9.6m-4.8 -4.8v9.6M407.45 366.69h9.6m-4.8 -4.8v9.6M457.48 366.18h9.6m-4.8 -4.8v9.6M439.15 356.25h9.6m-4.8 -4.8v9.6M383.51 366.53h9.6m-4.8 -4.8v9.6M434.16 366.58h9.6m-4.8 -4.8v9.6M380.15 371.49h9.6m-4.8 -4.8v9.6M450.76 372.39h9.6m-4.8 -4.8v9.6M427.35 370.81h9.6m-4.8 -4.8v9.6M430.11 368.26h9.6m-4.8 -4.8v9.6M380.43 364.56h9.6m-4.8 -4.8v9.6M385.88 360.61h9.6m-4.8 -4.8v9.6M421.65 365.59h9.6m-4.8 -4.8v9.6M409.97 363.22h9.6m-4.8 -4.8v9.6M445.27 366.08h9.6m-4.8 -4.8v9.6M402.06 363.16h9.6m-4.8 -4.8v9.6M411.42 371.45h9.6m-4.8 -4.8v9.6M388.8 361.87h9.6m-4.8 -4.8v9.6M419.76 366.84h9.6m-4.8 -4.8v9.6M456.32 369.11h9.6m-4.8 -4.8v9.6M400.6 379.97h9.6m-4.8 -4.8v9.6M443.05 368.43h9.6m-4.8 -4.8v9.6M392.36 351.73h9.6m-4.8 -4.8v9.6M450.74 366.13h9.6m-4.8 -4.8v9.6M420.55 371.99h9.6m-4.8 -4.8v9.6M389.27 363.05h9.6m-4.8 -4.8v9.6M442.39 360.31h9.6m-4.8 -4.8v9.6M450.87 364.16h9.6m-4.8 -4.8v9.6M390.83 364.5h9.6m-4.8 -4.8v9.6M388.59 369.47h9.6m-4.8 -4.8v9.6M399.43 366.24h9.6m-4.8 -4.8v9.6M420.74 374.57h9.6m-4.8 -4.8v9.6M455.93 365.08h9.6m-4.8 -4.8v9.6M448.69 358.46h9.6m-4.8 -4.8v9.6M405.35 361.59h9.6m-4.8 -4.8v9.6M382.11 366.36h9.6m-4.8 -4.8v9.6M427.27 372.76h9.6m-4.8 -4.8v9.6M425.58 374.93h9.6m-4.8 -4.8v9.6M398.63 362.65h9.6m-4.8 -4.8v9.6M427.9 365.48h9.6m-4.8 -4.8v9.6M458.47 363.65h9.6m-4.8 -4.8v9.6M390.78 361.99h9.6m-4.8 -4.8v9.6M404.56 371.8h9.6m-4.8 -4.8v9.6M447.67 374.27h9.6m-4.8 -4.8v9.6M391.97 358.47h9.6m-4.8 -4.8v9.6M389.51 367.45h9.6m-4.8 -4.8v9.6M393.01 354.95h9.6m-4.8 -4.8v9.6M441.34 375.33h9.6m-4.8 -4.8v9.6M389.4 368.7h9.6m-4.8 -4.8v9.6M386.47 367.93h9.6m-4.8 -4.8v9.6M429.8 366.57h9.6m-4.8 -4.8v9.6M441.11 362.53h9.6m-4.8 -4.8v9.6M440.26 368.23h9.6m-4.8 -4.8v9.6M414.12 365.89h9.6m-4.8 -4.8v9.6M453.22 372.21h9.6m-4.8 -4.8v9.6M391.3 365.95h9.6m-4.8 -4.8v9.6M414.8 374.38h9.6m-4.8 -4.8v9.6M408.96 370.29h9.6m-4.8 -4.8v9.6M423.27 371.86h9.6m-4.8 -4.8v9.6M394.73 362.6h9.6m-4.8 -4.8v9.6M391 347.7h9.6m-4.8 -4.8v9.6M458.62 373.76h9.6m-4.8 -4.8v9.6M403.53 366.87h9.6m-4.8 -4.8v9.6M419.51 365.99h9.6m-4.8 -4.8v9.6M453.19 365.88h9.6m-4.8 -4.8v9.6M403.57 359.38h9.6m-4.8 -4.8v9.6M408.74 372.41h9.6m-4.8 -4.8v9.6M424.64 365.12h9.6m-4.8 -4.8v9.6M384.6 367.28h9.6m-4.8 -4.8v9.6M380.99 359.94h9.6m-4.8 -4.8v9.6M430.27 366.95h9.6m-4.8 -4.8v9.6M409.09 366.62h9.6m-4.8 -4.8v9.6M385.53 366.36h9.6m-4.8 -4.8v9.6M402.28 374.14h9.6m-4.8 -4.8v9.6M435.17 371.47h9.6m-4.8 -4.8v9.6M440.52 362.4h9.6m-4.8 -4.8v9.6M419.97 370.37h9.6m-4.8 -4.8v9.6M396.95 361.01h9.6m-4.8 -4.8v9.6M446.98 371.55h9.6m-4.8 -4.8v9.6M395.89 361.25h9.6m-4.8 -4.8v9.6M440.31 361.03h9.6m-4.8 -4.8v9.6M391.49 373.9h9.6m-4.8 -4.8v9.6M454.69 365.04h9.6m-4.8 -4.8v9.6M441.64 356.61h9.6m-4.8 -4.8v9.6M419.63 372.65h9.6m-4.8 -4.8v9.6M414.21 364.06h9.6m-4.8 -4.8v9.6M425.43 368.39h9.6m-4.8 -4.8v9.6M432.56 363.11h9.6m-4.8 -4.8v9.6M424.21 370.55h9.6m-4.8 -4.8v9.6M435.36 369.88h9.6m-4.8 -4.8v9.6M386.19 365.6h9.6m-4.8 -4.8v9.6M412.83 370.14h9.6m-4.8 -4.8v9.6M440.03 368.42h9.6m-4.8 -4.8v9.6M414.55 372.79h9.6m-4.8 -4.8v9.6M457.59 362.03h9.6m-4.8 -4.8v9.6M422.28 371.67h9.6m-4.8 -4.8v9.6M404.24 371.73h9.6m-4.8 -4.8v9.6M451.24 370.16h9.6m-4.8 -4.8v9.6M413.24 366.25h9.6m-4.8 -4.8v9.6M423.27 379.19h9.6m-4.8 -4.8v9.6M430.96 365.2h9.6m-4.8 -4.8v9.6M448.32 362.14h9.6m-4.8 -4.8v9.6M396.04 358.29h9.6m-4.8 -4.8v9.6M449.76 367.64h9.6m-4.8 -4.8v9.6M425.49 372.34h9.6m-4.8 -4.8v9.6M408.73 366.82h9.6m-4.8 -4.8v9.6M406.21 366.15h9.6m-4.8 -4.8v9.6M458.49 361.26h9.6m-4.8 -4.8v9.6M455.68 366.44h9.6m-4.8 -4.8v9.6M423.22 370.83h9.6m-4.8 -4.8v9.6M407.11 373.28h9.6m-4.8 -4.8v9.6M457.85 368.14h9.6m-4.8 -4.8v9.6M380.42 363.35h9.6m-4.8 -4.8v9.6M383.06 358.15h9.6m-4.8 -4.8v9.6M418.45 368.58h9.6m-4.8 -4.8v9.6M426.57 362.09h9.6m-4.8 -4.8v9.6M379.63 357.97h9.6m-4.8 -4.8v9.6M394.26 367.43h9.6m-4.8 -4.8v9.6M386.07 368.85h9.6m-4.8 -4.8v9.6M399.3 367.79h9.6m-4.8 -4.8v9.6M393.89 364.9h9.6m-4.8 -4.8v9.6M389.15 367.3h9.6m-4.8 -4.8v9.6M389.57 360.31h9.6m-4.8 -4.8v9.6M409.13 364.57h9.6m-4.8 -4.8v9.6M389.51 357.95h9.6m-4.8 -4.8v9.6M441.64 364.22h9.6m-4.8 -4.8v9.6M411.67 370.22h9.6m-4.8 -4.8v9.6M388.55 361.65h9.6m-4.8 -4.8v9.6M431.77 371.44h9.6m-4.8 -4.8v9.6M442.83 364.75h9.6m-4.8 -4.8v9.6M408.18 370.95h9.6m-4.8 -4.8v9.6M379.6 358.34h9.6m-4.8 -4.8v9.6M431.67 379.59h9.6m-4.8 -4.8v9.6M440.07 361.7h9.6m-4.8 -4.8v9.6M451.01 361.62h9.6m-4.8 -4.8v9.6M436.77 366.14h9.6m-4.8 -4.8v9.6M427.36 366.62h9.6m-4.8 -4.8v9.6M406.84 366.03h9.6m-4.8 -4.8v9.6M398.82 358.72h9.6m-4.8 -4.8v9.6M384.35 355.89h9.6m-4.8 -4.8v9.6M445.35 365.28h9.6m-4.8 -4.8v9.6M424.41 361.07h9.6m-4.8 -4.8v9.6M402.38 368.49h9.6m-4.8 -4.8v9.6M389.18 361.61h9.6m-4.8 -4.8v9.6M402.42 363.49h9.6m-4.8 -4.8v9.6M440.38 371.44h9.6m-4.8 -4.8v9.6M396.55 362.73h9.6m-4.8 -4.8v9.6M383.31 366.67h9.6m-4.8 -4.8v9.6M409.83 364.17h9.6m-4.8 -4.8v9.6M406.25 370.89h9.6m-4.8 -4.8v9.6M435.46 374.41h9.6m-4.8 -4.8v9.6M424.06 374.73h9.6m-4.8 -4.8v9.6M417.32 368.87h9.6m-4.8 -4.8v9.6M458.03 365.73h9.6m-4.8 -4.8v9.6M447.36 363.75h9.6m-4.8 -4.8v9.6M389.46 367.07h9.6m-4.8 -4.8v9.6M399.19 361.15h9.6m-4.8 -4.8v9.6M413.01 370.95h9.6m-4.8 -4.8v9.6M384.88 364.58h9.6m-4.8 -4.8v9.6M440.4 361.05h9.6m-4.8 -4.8v9.6M441.22 366.28h9.6m-4.8 -4.8v9.6M402.75 374.32h9.6m-4.8 -4.8v9.6M452.31 362.63h9.6m-4.8 -4.8v9.6M423.77 368.74h9.6m-4.8 -4.8v9.6M397.18 366.16h9.6m-4.8 -4.8v9.6M429.35 361.87h9.6m-4.8 -4.8v9.6M433.48 369.63h9.6m-4.8 -4.8v9.6M437.12 362.87h9.6m-4.8 -4.8v9.6M457.64 366.46h9.6m-4.8 -4.8v9.6M452.98 354.03h9.6m-4.8 -4.8v9.6M412.52 376.67h9.6m-4.8 -4.8v9.6M414.02 367.67h9.6m-4.8 -4.8v9.6M381 362.03h9.6m-4.8 -4.8v9.6M412.86 363.3h9.6m-4.8 -4.8v9.6M393.42 365.69h9.6m-4.8 -4.8v9.6M388.82 366.48h9.6m-4.8 -4.8v9.6M445.07 358.9h9.6m-4.8 -4.8v9.6M380.86 365.62h9.6m-4.8 -4.8v9.6M389.54 362.25h9.6m-4.8 -4.8v9.6M432.82 367.15h9.6m-4.8 -4.8v9.6M424.96 366.8h9.6m-4.8 -4.8v9.6M413.79 374.79h9.6m-4.8 -4.8v9.6M444.4 367.88h9.6m-4.8 -4.8v9.6M398.36 364.89h9.6m-4.8 -4.8v9.6M395.81 363.62h9.6m-4.8 -4.8v9.6M420.64 363.96h9.6m-4.8 -4.8v9.6M387.72 361.19h9.6m-4.8 -4.8v9.6M434.82 363.69h9.6m-4.8 -4.8v9.6M454.71 366.7h9.6m-4.8 -4.8v9.6M444.71 359.53h9.6m-4.8 -4.8v9.6M450.36 368.44h9.6m-4.8 -4.8v9.6M385 364.01h9.6m-4.8 -4.8v9.6M413.39 375.38h9.6m-4.8 -4.8v9.6M452.11 370.78h9.6m-4.8 -4.8v9.6M447.13 361.4h9.6m-4.8 -4.8v9.6M427.11 368.46h9.6m-4.8 -4.8v9.6M432.02 375.75h9.6m-4.8 -4.8v9.6M400.61 365.33h9.6m-4.8 -4.8v9.6M400.55 366.21h9.6m-4.8 -4.8v9.6M384.49 368.84h9.6m-4.8 -4.8v9.6M452.03 364.37h9.6m-4.8 -4.8v9.6M402.47 366.81h9.6m-4.8 -4.8v9.6M459.36 367.53h9.6m-4.8 -4.8v9.6M379.65 359.34h9.6m-4.8 -4.8v9.6M443.72 368.26h9.6m-4.8 -4.8v9.6M421.62 364.01h9.6m-4.8 -4.8v9.6M382.5 364.87h9.6m-4.8 -4.8v9.6M432.73 368.16h9.6m-4.8 -4.8v9.6M435.9 360.16h9.6m-4.8 -4.8v9.6M435.67 364.42h9.6m-4.8 -4.8v9.6M435.37 368.12h9.6m-4.8 -4.8v9.6M433.94 367.16h9.6m-4.8 -4.8v9.6M441.17 364.57h9.6m-4.8 -4.8v9.6M409.84 374.62h9.6m-4.8 -4.8v9.6M456.54 363.79h9.6m-4.8 -4.8v9.6M418.14 369.08h9.6m-4.8 -4.8v9.6M400.76 371.17h9.6m-4.8 -4.8v9.6M459.38 371.96h9.6m-4.8 -4.8v9.6M401.7 361.38h9.6m-4.8 -4.8v9.6M414.74 374.57h9.6m-4.8 -4.8v9.6M435.52 356.27h9.6m-4.8 -4.8v9.6M443.64 370.37h9.6m-4.8 -4.8v9.6M404.7 365.32h9.6m-4.8 -4.8v9.6M381.95 375.48h9.6m-4.8 -4.8v9.6M425.84 368.81h9.6m-4.8 -4.8v9.6M426.97 370.72h9.6m-4.8 -4.8v9.6M438.09 363.63h9.6m-4.8 -4.8v9.6M400.2 364.2h9.6m-4.8 -4.8v9.6M445.47 366.95h9.6m-4.8 -4.8v9.6M441.68 355.62h9.6m-4.8 -4.8v9.6M448.77 361.95h9.6m-4.8 -4.8v9.6M440.23 369.1h9.6m-4.8 -4.8v9.6M433.53 365.19h9.6m-4.8 -4.8v9.6M423.91 382.2h9.6m-4.8 -4.8v9.6M448.43 368.23h9.6m-4.8 -4.8v9.6M397.37 358.78h9.6m-4.8 -4.8v9.6M432.87 369.61h9.6m-4.8 -4.8v9.6M443.15 364.89h9.6m-4.8 -4.8v9.6M441.75 370.99h9.6m-4.8 -4.8v9.6M389.58 360.05h9.6m-4.8 -4.8v9.6M404.48 365.77h9.6m-4.8 -4.8v9.6M454.52 366.57h9.6m-4.8 -4.8v9.6M441.73 361.34h9.6m-4.8 -4.8v9.6M391.61 356.16h9.6m-4.8 -4.8v9.6M418.18 365.51h9.6m-4.8 -4.8v9.6M444.66 373.56h9.6m-4.8 -4.8v9.6M448.6 363.77h9.6m-4.8 -4.8v9.6M421.15 367.99h9.6m-4.8 -4.8v9.6M387.3 369.05h9.6m-4.8 -4.8v9.6M396.84 372h9.6m-4.8 -4.8v9.6M381.08 365.75h9.6m-4.8 -4.8v9.6M392.5 365.26h9.6m-4.8 -4.8v9.6M384.04 364.11h9.6m-4.8 -4.8v9.6M435.7 369.78h9.6m-4.8 -4.8v9.6M435.78 365.65h9.6m-4.8 -4.8v9.6M414.95 367.6h9.6m-4.8 -4.8v9.6M450.34 367.21h9.6m-4.8 -4.8v9.6M390.93 362.02h9.6m-4.8 -4.8v9.6M394.79 366.92h9.6m-4.8 -4.8v9.6M428.54 375.54h9.6m-4.8 -4.8v9.6M421.8 369.26h9.6m-4.8 -4.8v9.6M388.98 359.73h9.6m-4.8 -4.8v9.6M452.43 353.73h9.6m-4.8 -4.8v9.6M429.38 377.97h9.6m-4.8 -4.8v9.6M428.26 370.65h9.6m-4.8 -4.8v9.6M409.27 372.06h9.6m-4.8 -4.8v9.6M428.12 367.09h9.6m-4.8 -4.8v9.6M384.88 367.9h9.6m-4.8 -4.8v9.6M403.46 365.51h9.6m-4.8 -4.8v9.6M430.32 363.31h9.6m-4.8 -4.8v9.6M427.51 371.9h9.6m-4.8 -4.8v9.6M421.64 369.58h9.6m-4.8 -4.8v9.6M383.39 356.35h9.6m-4.8 -4.8v9.6M405.11 362.53h9.6m-4.8 -4.8v9.6M458.71 375.12h9.6m-4.8 -4.8v9.6M455.37 357.22h9.6m-4.8 -4.8v9.6M445.43 368.74h9.6m-4.8 -4.8v9.6M384.26 362.41h9.6m-4.8 -4.8v9.6M385.04 365.72h9.6m-4.8 -4.8v9.6M396.3 366.55h9.6m-4.8 -4.8v9.6M446.03 368.77h9.6m-4.8 -4.8v9.6M395.59 361.43h9.6m-4.8 -4.8v9.6M397.32 368.23h9.6m-4.8 -4.8v9.6M400.16 371.09h9.6m-4.8 -4.8v9.6M438.39 368.64h9.6m-4.8 -4.8v9.6M421.76 369.2h9.6m-4.8 -4.8v9.6M448.68 374.95h9.6m-4.8 -4.8v9.6M385.25 360.1h9.6m-4.8 -4.8v9.6M383.27 367.13h9.6m-4.8 -4.8v9.6M447.53 362.21h9.6m-4.8 -4.8v9.6M387.91 357.35h9.6m-4.8 -4.8v9.6M436.91 364.68h9.6m-4.8 -4.8v9.6M427.99 365.82h9.6m-4.8 -4.8v9.6M395.86 366.42h9.6m-4.8 -4.8v9.6M400.14 368.33h9.6m-4.8 -4.8v9.6M438.92 374.72h9.6m-4.8 -4.8v9.6M380.85 364.75h9.6m-4.8 -4.8v9.6M456.38 369.55h9.6m-4.8 -4.8v9.6M382.73 374.78h9.6m-4.8 -4.8v9.6M392.17 362.55h9.6m-4.8 -4.8v9.6M430.85 360.65h9.6m-4.8 -4.8v9.6M388.35 361.88h9.6m-4.8 -4.8v9.6M459.77 362.51h9.6m-4.8 -4.8v9.6M414.11 370.04h9.6m-4.8 -4.8v9.6M384.68 368.47h9.6m-4.8 -4.8v9.6M392.44 363.54h9.6m-4.8 -4.8v9.6M422.95 370.65h9.6m-4.8 -4.8v9.6M449.47 370.97h9.6m-4.8 -4.8v9.6M399.89 360.37h9.6m-4.8 -4.8v9.6M411.39 367.55h9.6m-4.8 -4.8v9.6M425.11 371.78h9.6m-4.8 -4.8v9.6M431.72 366.52h9.6m-4.8 -4.8v9.6M437.59 366.73h9.6m-4.8 -4.8v9.6M405.36 363.78h9.6m-4.8 -4.8v9.6M409.07 360.46h9.6m-4.8 -4.8v9.6M449.74 368.59h9.6m-4.8 -4.8v9.6M452.37 371.67h9.6m-4.8 -4.8v9.6M412.85 362.18h9.6m-4.8 -4.8v9.6M459.68 356.74h9.6m-4.8 -4.8v9.6M393.26 366.72h9.6m-4.8 -4.8v9.6M445.67 369.72h9.6m-4.8 -4.8v9.6M452.6 371.73h9.6m-4.8 -4.8v9.6M424.76 368.81h9.6m-4.8 -4.8v9.6M435.05 365.96h9.6m-4.8 -4.8v9.6M383.96 364.94h9.6m-4.8 -4.8v9.6M447.24 361.61h9.6m-4.8 -4.8v9.6M434.34 370.42h9.6m-4.8 -4.8v9.6M425.87 371.34h9.6m-4.8 -4.8v9.6M426.1 374.36h9.6m-4.8 -4.8v9.6M392.03 357.33h9.6m-4.8 -4.8v9.6M447.61 360.52h9.6m-4.8 -4.8v9.6M421.89 363.05h9.6m-4.8 -4.8v9.6M428.26 372.09h9.6m-4.8 -4.8v9.6M392.85 357.62h9.6m-4.8 -4.8v9.6M429.89 366.51h9.6m-4.8 -4.8v9.6M398.37 361.44h9.6m-4.8 -4.8v9.6M440.75 363.01h9.6m-4.8 -4.8v9.6M381.33 365.24h9.6m-4.8 -4.8v9.6M389.16 364.44h9.6m-4.8 -4.8v9.6M396.17 371.42h9.6m-4.8 -4.8v9.6M411.52 370.82h9.6m-4.8 -4.8v9.6M449.5 366.67h9.6m-4.8 -4.8v9.6M379.65 369.15h9.6m-4.8 -4.8v9.6M424.05 368.36h9.6m-4.8 -4.8v9.6M382.01 357.8h9.6m-4.8 -4.8v9.6M409.8 370.24h9.6m-4.8 -4.8v9.6M403.21 370.32h9.6m-4.8 -4.8v9.6M392.37 367.68h9.6m-4.8 -4.8v9.6M417.86 368.24h9.6m-4.8 -4.8v9.6M406.74 358.96h9.6m-4.8 -4.8v9.6M400.27 364.38h9.6m-4.8 -4.8v9.6M428.56 367.83h9.6m-4.8 -4.8v9.6M398.86 370.57h9.6m-4.8 -4.8v9.6M457.7 365.66h9.6m-4.8 -4.8v9.6M399.27 362.02h9.6m-4.8 -4.8v9.6M459.04 369.42h9.6m-4.8 -4.8v9.6M392.15 363.82h9.6m-4.8 -4.8v9.6M455.91 369.85h9.6m-4.8 -4.8v9.6M384.17 360.26h9.6m-4.8 -4.8v9.6M379.7 357.6h9.6m-4.8 -4.8v9.6M386.98 361.88h9.6m-4.8 -4.8v9.6M436.28 363.76h9.6m-4.8 -4.8v9.6M397.91 364.37h9.6m-4.8 -4.8v9.6M401.39 368.34h9.6m-4.8 -4.8v9.6M433.55 370.36h9.6m-4.8 -4.8v9.6M381.49 365.58h9.6m-4.8 -4.8v9.6M422.79 368.42h9.6m-4.8 -4.8v9.6M411.47 368.27h9.6m-4.8 -4.8v9.6M392.15 359.01h9.6m-4.8 -4.8v9.6M452.82 362.71h9.6m-4.8 -4.8v9.6M408.24 360.64h9.6m-4.8 -4.8v9.6M402.66 362.08h9.6m-4.8 -4.8v9.6M435.26 367.45h9.6m-4.8 -4.8v9.6M448.27 365.02h9.6m-4.8 -4.8v9.6M397.54 372.03h9.6m-4.8 -4.8v9.6M389.38 355.9h9.6m-4.8 -4.8v9.6M456.73 369.65h9.6m-4.8 -4.8v9.6M413.66 370.48h9.6m-4.8 -4.8v9.6M422.36 360.57h9.6m-4.8 -4.8v9.6M416.05 373.87h9.6m-4.8 -4.8v9.6M446.05 368.24h9.6m-4.8 -4.8v9.6M413.78 368.9h9.6m-4.8 -4.8v9.6M440.32 368.35h9.6m-4.8 -4.8v9.6M421.37 368.64h9.6m-4.8 -4.8v9.6M385.54 362.48h9.6m-4.8 -4.8v9.6M420.29 366.18h9.6m-4.8 -4.8v9.6M448.29 365.94h9.6m-4.8 -4.8v9.6M422.05 365.79h9.6m-4.8 -4.8v9.6M410.86 369.64h9.6m-4.8 -4.8v9.6M381.17 360.87h9.6m-4.8 -4.8v9.6M435.81 360.74h9.6m-4.8 -4.8v9.6M410.85 376.08h9.6m-4.8 -4.8v9.6M405.25 367.5h9.6m-4.8 -4.8v9.6M409 366.86h9.6m-4.8 -4.8v9.6M412.88 377.15h9.6m-4.8 -4.8v9.6M406.25 380.91h9.6m-4.8 -4.8v9.6M402.69 364.2h9.6m-4.8 -4.8v9.6M416.34 371.9h9.6m-4.8 -4.8v9.6M382.87 360.01h9.6m-4.8 -4.8v9.6M397.36 364.5h9.6m-4.8 -4.8v9.6M414.53 368.75h9.6m-4.8 -4.8v9.6M450.64 367.32h9.6m-4.8 -4.8v9.6M413.72 368.1h9.6m-4.8 -4.8v9.6M424.05 372.93h9.6m-4.8 -4.8v9.6M451.36 368.19h9.6m-4.8 -4.8v9.6M444.26 361.78h9.6m-4.8 -4.8v9.6M436.7 367.17h9.6m-4.8 -4.8v9.6M429.19 365.58h9.6m-4.8 -4.8v9.6M427.28 368.28h9.6m-4.8 -4.8v9.6M394.51 365.49h9.6m-4.8 -4.8v9.6M390.03 368.04h9.6m-4.8 -4.8v9.6M383.6 359.73h9.6m-4.8 -4.8v9.6M386.69 367.41h9.6m-4.8 -4.8v9.6M428.83 366.26h9.6m-4.8 -4.8v9.6M428.3 375.25h9.6m-4.8 -4.8v9.6M382.11 362.4h9.6m-4.8 -4.8v9.6M446.89 363.59h9.6m-4.8 -4.8v9.6M414.8 371.68h9.6m-4.8 -4.8v9.6M422.64 376.38h9.6m-4.8 -4.8v9.6M385.05 364.32h9.6m-4.8 -4.8v9.6M448.52 364.98h9.6m-4.8 -4.8v9.6M385.57 366.01h9.6m-4.8 -4.8v9.6M396.16 367.34h9.6m-4.8 -4.8v9.6M416.71 364.77h9.6m-4.8 -4.8v9.6M419.34 369.63h9.6m-4.8 -4.8v9.6M422.22 370.89h9.6m-4.8 -4.8v9.6M454.79 362.61h9.6m-4.8 -4.8v9.6M381.93 363.75h9.6m-4.8 -4.8v9.6M433.78 369.89h9.6m-4.8 -4.8v9.6M413.85 364.58h9.6m-4.8 -4.8v9.6M444.78 367.05h9.6m-4.8 -4.8v9.6M433.08 362.62h9.6m-4.8 -4.8v9.6M444.81 368.49h9.6m-4.8 -4.8v9.6M448.93 364.01h9.6m-4.8 -4.8v9.6M442.2 359.82h9.6m-4.8 -4.8v9.6M389.79 361.48h9.6m-4.8 -4.8v9.6M422.54 366.63h9.6m-4.8 -4.8v9.6M441.63 363.48h9.6m-4.8 -4.8v9.6M441.72 361.59h9.6m-4.8 -4.8v9.6M454.06 365.96h9.6m-4.8 -4.8v9.6M412.73 366.35h9.6m-4.8 -4.8v9.6M379.82 364.77h9.6m-4.8 -4.8v9.6M437.91 356.98h9.6m-4.8 -4.8v9.6M401.59 369.39h9.6m-4.8 -4.8v9.6M432.11 363.36h9.6m-4.8 -4.8v9.6M383.06 368.12h9.6m-4.8 -4.8v9.6M407.84 364.87h9.6m-4.8 -4.8v9.6M430.3 361.62h9.6m-4.8 -4.8v9.6M389.29 368.59h9.6m-4.8 -4.8v9.6M404.74 358.22h9.6m-4.8 -4.8v9.6M390.83 367.98h9.6m-4.8 -4.8v9.6M451.15 369.54h9.6m-4.8 -4.8v9.6M441.71 364.05h9.6m-4.8 -4.8v9.6M430.73 372.59h9.6m-4.8 -4.8v9.6M421.14 364.56h9.6m-4.8 -4.8v9.6M458.15 364.99h9.6m-4.8 -4.8v9.6M400.01 377.5h9.6m-4.8 -4.8v9.6M436.15 372.62h9.6m-4.8 -4.8v9.6M386.07 366.9h9.6m-4.8 -4.8v9.6M429.37 365.97h9.6m-4.8 -4.8v9.6M394.89 368.91h9.6m-4.8 -4.8v9.6M379.86 367.04h9.6m-4.8 -4.8v9.6M452.62 363.22h9.6m-4.8 -4.8v9.6M401.69 369.95h9.6m-4.8 -4.8v9.6M459.18 366.2h9.6m-4.8 -4.8v9.6M434.07 372.86h9.6m-4.8 -4.8v9.6M433.35 362.23h9.6m-4.8 -4.8v9.6M433.55 360.25h9.6m-4.8 -4.8v9.6M459.34 372.87h9.6m-4.8 -4.8v9.6M397.27 375.29h9.6m-4.8 -4.8v9.6M458.96 375.21h9.6m-4.8 -4.8v9.6M405.11 362.05h9.6m-4.8 -4.8v9.6M386.72 366.25h9.6m-4.8 -4.8v9.6M453.67 361.5h9.6m-4.8 -4.8v9.6M386.97 369.76h9.6m-4.8 -4.8v9.6M417.53 373.4h9.6m-4.8 -4.8v9.6M446.54 365.98h9.6m-4.8 -4.8v9.6M401.47 360.52h9.6m-4.8 -4.8v9.6M437.34 366.98h9.6m-4.8 -4.8v9.6M431.01 372.26h9.6m-4.8 -4.8v9.6M434.98 365.06h9.6m-4.8 -4.8v9.6M391.29 363.29h9.6m-4.8 -4.8v9.6M435.94 363.92h9.6m-4.8 -4.8v9.6M447 366.26h9.6m-4.8 -4.8v9.6M390.53 366.51h9.6m-4.8 -4.8v9.6M456.78 366.93h9.6m-4.8 -4.8v9.6M456.06 378.2h9.6m-4.8 -4.8v9.6M404.88 365.19h9.6m-4.8 -4.8v9.6M456.35 361.3h9.6m-4.8 -4.8v9.6M454.98 364.09h9.6m-4.8 -4.8v9.6M388.52 368.02h9.6m-4.8 -4.8v9.6M439.26 372.83h9.6m-4.8 -4.8v9.6M456.93 361.03h9.6m-4.8 -4.8v9.6M445.7 367.78h9.6m-4.8 -4.8v9.6M389.83 364.63h9.6m-4.8 -4.8v9.6M412.08 367.36h9.6m-4.8 -4.8v9.6M424.71 371.44h9.6m-4.8 -4.8v9.6M409.13 367.63h9.6m-4.8 -4.8v9.6M410.3 361.21h9.6m-4.8 -4.8v9.6M386.9 365.94h9.6m-4.8 -4.8v9.6M379.67 355.04h9.6m-4.8 -4.8v9.6M403.86 364.32h9.6m-4.8 -4.8v9.6M413.34 367.13h9.6m-4.8 -4.8v9.6M425.9 364.21h9.6m-4.8 -4.8v9.6M456.35 362.71h9.6m-4.8 -4.8v9.6M386.33 358.84h9.6m-4.8 -4.8v9.6M407.17 364.65h9.6m-4.8 -4.8v9.6M449.46 368.28h9.6m-4.8 -4.8v9.6M445.87 357.98h9.6m-4.8 -4.8v9.6M388.15 364.34h9.6m-4.8 -4.8v9.6M433.75 370.57h9.6m-4.8 -4.8v9.6M459.08 363.47h9.6m-4.8 -4.8v9.6M493.7 374.3h9.6m-4.8 -4.8v9.6M465.98 369.86h9.6m-4.8 -4.8v9.6M479.98 372.19h9.6m-4.8 -4.8v9.6M474.5 369.26h9.6m-4.8 -4.8v9.6M476.17 364.85h9.6m-4.8 -4.8v9.6M464.12 369.55h9.6m-4.8 -4.8v9.6M469.97 374.98h9.6m-4.8 -4.8v9.6M466.89 371.95h9.6m-4.8 -4.8v9.6M480.36 370.74h9.6m-4.8 -4.8v9.6M472.54 371.69h9.6m-4.8 -4.8v9.6M479.39 374.66h9.6m-4.8 -4.8v9.6M477.17 369.27h9.6m-4.8 -4.8v9.6M482.4 370.39h9.6m-4.8 -4.8v9.6M494.91 377.96h9.6m-4.8 -4.8v9.6M477.04 370.81h9.6m-4.8 -4.8v9.6M477.56 374.16h9.6m-4.8 -4.8v9.6M480.3 374.67h9.6m-4.8 -4.8v9.6M477.6 373.13h9.6m-4.8 -4.8v9.6M472.1 375.7h9.6m-4.8 -4.8v9.6M465.42 368.45h9.6m-4.8 -4.8v9.6M477.16 372.13h9.6m-4.8 -4.8v9.6M465.42 371.43h9.6m-4.8 -4.8v9.6M482.13 372.59h9.6m-4.8 -4.8v9.6M491.3 375.09h9.6m-4.8 -4.8v9.6M487.82 377.04h9.6m-4.8 -4.8v9.6M487.26 376.35h9.6m-4.8 -4.8v9.6M464.09 372.13h9.6m-4.8 -4.8v9.6M456.83 360.92h9.6m-4.8 -4.8v9.6M463.71 375.15h9.6m-4.8 -4.8v9.6M478.52 372.5h9.6m-4.8 -4.8v9.6M460.52 365.18h9.6m-4.8 -4.8v9.6M459.52 372.8h9.6m-4.8 -4.8v9.6M495.81 381.27h9.6m-4.8 -4.8v9.6M469.8 374.09h9.6m-4.8 -4.8v9.6M458.04 375.73h9.6m-4.8 -4.8v9.6M476.15 367.66h9.6m-4.8 -4.8v9.6M483.67 374.36h9.6m-4.8 -4.8v9.6M474.08 375.41h9.6m-4.8 -4.8v9.6M460.78 370.67h9.6m-4.8 -4.8v9.6M476.28 371.38h9.6m-4.8 -4.8v9.6M458.26 369.32h9.6m-4.8 -4.8v9.6M485 377.14h9.6m-4.8 -4.8v9.6M493.44 375.07h9.6m-4.8 -4.8v9.6M457.16 371.68h9.6m-4.8 -4.8v9.6M478.54 373.94h9.6m-4.8 -4.8v9.6M489.06 374.58h9.6m-4.8 -4.8v9.6M481.37 375.75h9.6m-4.8 -4.8v9.6M461.5 368.56h9.6m-4.8 -4.8v9.6M458.22 370.85h9.6m-4.8 -4.8v9.6M473.97 362.29h9.6m-4.8 -4.8v9.6M457.42 369.62h9.6m-4.8 -4.8v9.6M489.3 372.88h9.6m-4.8 -4.8v9.6M476.34 375.16h9.6m-4.8 -4.8v9.6M468.28 374.66h9.6m-4.8 -4.8v9.6M486.64 374.97h9.6m-4.8 -4.8v9.6M464.14 371.01h9.6m-4.8 -4.8v9.6M476.24 373.35h9.6m-4.8 -4.8v9.6M475.93 372.21h9.6m-4.8 -4.8v9.6M459.67 364.39h9.6m-4.8 -4.8v9.6M487.85 368.17h9.6m-4.8 -4.8v9.6M483.72 366.71h9.6m-4.8 -4.8v9.6M463.51 369.43h9.6m-4.8 -4.8v9.6M472.89 365.13h9.6m-4.8 -4.8v9.6M467.98 364.73h9.6m-4.8 -4.8v9.6M493.37 379.19h9.6m-4.8 -4.8v9.6M482.47 375.29h9.6m-4.8 -4.8v9.6M493.65 377.51h9.6m-4.8 -4.8v9.6M486.47 367.69h9.6m-4.8 -4.8v9.6M487.48 375.4h9.6m-4.8 -4.8v9.6M468.01 371.66h9.6m-4.8 -4.8v9.6M489.78 370.74h9.6m-4.8 -4.8v9.6M469 371.65h9.6m-4.8 -4.8v9.6M488.9 375.91h9.6m-4.8 -4.8v9.6M484.17 371.96h9.6m-4.8 -4.8v9.6M476.07 371.67h9.6m-4.8 -4.8v9.6M462.36 377.91h9.6m-4.8 -4.8v9.6M479.76 377.5h9.6m-4.8 -4.8v9.6M480.72 370.82h9.6m-4.8 -4.8v9.6M483.19 378.94h9.6m-4.8 -4.8v9.6M458.15 362.61h9.6m-4.8 -4.8v9.6M465.56 370.63h9.6m-4.8 -4.8v9.6M478.15 371.87h9.6m-4.8 -4.8v9.6M489.94 374.77h9.6m-4.8 -4.8v9.6M464.87 376.55h9.6m-4.8 -4.8v9.6M491.74 378.93h9.6m-4.8 -4.8v9.6M494.9 381.67h9.6m-4.8 -4.8v9.6M459.07 367.41h9.6m-4.8 -4.8v9.6M484.74 368.89h9.6m-4.8 -4.8v9.6M471.54 372.33h9.6m-4.8 -4.8v9.6M461.04 368.69h9.6m-4.8 -4.8v9.6M464.47 377h9.6m-4.8 -4.8v9.6M470.08 372.6h9.6m-4.8 -4.8v9.6M456.19 368.92h9.6m-4.8 -4.8v9.6M483.55 374.64h9.6m-4.8 -4.8v9.6M473.81 369.8h9.6m-4.8 -4.8v9.6M469.46 366.21h9.6m-4.8 -4.8v9.6M490.55 376.02h9.6m-4.8 -4.8v9.6M494.54 376.35h9.6m-4.8 -4.8v9.6M474 377.44h9.6m-4.8 -4.8v9.6M468.03 368.75h9.6m-4.8 -4.8v9.6M479.86 373h9.6m-4.8 -4.8v9.6M471.87 377.74h9.6m-4.8 -4.8v9.6M491.52 375.11h9.6m-4.8 -4.8v9.6M467.13 373.02h9.6m-4.8 -4.8v9.6M460.65 365.2h9.6m-4.8 -4.8v9.6M456.08 365.64h9.6m-4.8 -4.8v9.6M462.36 369.1h9.6m-4.8 -4.8v9.6M459.29 360.65h9.6m-4.8 -4.8v9.6M492.29 377.17h9.6m-4.8 -4.8v9.6M482.96 374.89h9.6m-4.8 -4.8v9.6M478.96 372.78h9.6m-4.8 -4.8v9.6M493.67 376.82h9.6m-4.8 -4.8v9.6M480.46 376.23h9.6m-4.8 -4.8v9.6M484.02 372.01h9.6m-4.8 -4.8v9.6M461.88 367.69h9.6m-4.8 -4.8v9.6M467.1 372.49h9.6m-4.8 -4.8v9.6M480.43 378.69h9.6m-4.8 -4.8v9.6M489.27 371.18h9.6m-4.8 -4.8v9.6M466.88 365.9h9.6m-4.8 -4.8v9.6M473.81 368.58h9.6m-4.8 -4.8v9.6M466.87 367h9.6m-4.8 -4.8v9.6M467.17 364.16h9.6m-4.8 -4.8v9.6M478.71 371.46h9.6m-4.8 -4.8v9.6M492.63 370.73h9.6m-4.8 -4.8v9.6M494.94 378.16h9.6m-4.8 -4.8v9.6M478.34 375.52h9.6m-4.8 -4.8v9.6M456.45 367.28h9.6m-4.8 -4.8v9.6M466.64 371.32h9.6m-4.8 -4.8v9.6M481.98 371.45h9.6m-4.8 -4.8v9.6M492.86 370.04h9.6m-4.8 -4.8v9.6M461.38 367.12h9.6m-4.8 -4.8v9.6M488.97 371.27h9.6m-4.8 -4.8v9.6M491.03 368.12h9.6m-4.8 -4.8v9.6M459.1 359.59h9.6m-4.8 -4.8v9.6M492.05 375.7h9.6m-4.8 -4.8v9.6M479.54 374.93h9.6m-4.8 -4.8v9.6M489.68 367.62h9.6m-4.8 -4.8v9.6M482.71 377.05h9.6m-4.8 -4.8v9.6M482.91 379.74h9.6m-4.8 -4.8v9.6M490.84 382.61h9.6m-4.8 -4.8v9.6M486.32 369.98h9.6m-4.8 -4.8v9.6M472 376.28h9.6m-4.8 -4.8v9.6M470.93 371.78h9.6m-4.8 -4.8v9.6M494.63 377.71h9.6m-4.8 -4.8v9.6M466.14 365.33h9.6m-4.8 -4.8v9.6M470.7 375.7h9.6m-4.8 -4.8v9.6M461.29 368.28h9.6m-4.8 -4.8v9.6M469.18 369.48h9.6m-4.8 -4.8v9.6M479.09 367.4h9.6m-4.8 -4.8v9.6M463.31 370.03h9.6m-4.8 -4.8v9.6M472.69 370.19h9.6m-4.8 -4.8v9.6M480.08 373.61h9.6m-4.8 -4.8v9.6M471.05 366.99h9.6m-4.8 -4.8v9.6M486 370.66h9.6m-4.8 -4.8v9.6M476.31 373.17h9.6m-4.8 -4.8v9.6M468.61 368.48h9.6m-4.8 -4.8v9.6M484.77 378.94h9.6m-4.8 -4.8v9.6M477.87 371.86h9.6m-4.8 -4.8v9.6M473.73 374.45h9.6m-4.8 -4.8v9.6M461.98 370.16h9.6m-4.8 -4.8v9.6M495.37 374.03h9.6m-4.8 -4.8v9.6M462.5 361.21h9.6m-4.8 -4.8v9.6M471.02 370.08h9.6m-4.8 -4.8v9.6M479.14 372.85h9.6m-4.8 -4.8v9.6M493.2 377.61h9.6m-4.8 -4.8v9.6M467.66 367.52h9.6m-4.8 -4.8v9.6M460.1 368.6h9.6m-4.8 -4.8v9.6M484.04 369.96h9.6m-4.8 -4.8v9.6M493.92 371.3h9.6m-4.8 -4.8v9.6M473.74 369.03h9.6m-4.8 -4.8v9.6M495.82 379.22h9.6m-4.8 -4.8v9.6M468.49 367.62h9.6m-4.8 -4.8v9.6M491.07 377.96h9.6m-4.8 -4.8v9.6M455.53 374.93h9.6m-4.8 -4.8v9.6M482.94 369.11h9.6m-4.8 -4.8v9.6M491.26 368.74h9.6m-4.8 -4.8v9.6M466.79 365.27h9.6m-4.8 -4.8v9.6M489.74 376.31h9.6m-4.8 -4.8v9.6M479.71 384.49h9.6m-4.8 -4.8v9.6M468.41 372.93h9.6m-4.8 -4.8v9.6M457.21 364.31h9.6m-4.8 -4.8v9.6M482.22 374.43h9.6m-4.8 -4.8v9.6M470.65 365.78h9.6m-4.8 -4.8v9.6M477.45 374.87h9.6m-4.8 -4.8v9.6M463.5 367.42h9.6m-4.8 -4.8v9.6M456.25 365.96h9.6m-4.8 -4.8v9.6M459.39 366.59h9.6m-4.8 -4.8v9.6M481.38 377.86h9.6m-4.8 -4.8v9.6M460.62 368.53h9.6m-4.8 -4.8v9.6M467.5 369.24h9.6m-4.8 -4.8v9.6M479.4 373.86h9.6m-4.8 -4.8v9.6M466.51 374.65h9.6m-4.8 -4.8v9.6M474.58 373.19h9.6m-4.8 -4.8v9.6M472.15 374.45h9.6m-4.8 -4.8v9.6M486.9 373h9.6m-4.8 -4.8v9.6M471.78 367.53h9.6m-4.8 -4.8v9.6M466.91 368.92h9.6m-4.8 -4.8v9.6M495.33 376.3h9.6m-4.8 -4.8v9.6M462.46 369.52h9.6m-4.8 -4.8v9.6M481.36 372.21h9.6m-4.8 -4.8v9.6M480.69 379.71h9.6m-4.8 -4.8v9.6M469.6 370.36h9.6m-4.8 -4.8v9.6M485.54 370.73h9.6m-4.8 -4.8v9.6M485.94 375.89h9.6m-4.8 -4.8v9.6M474.73 369.04h9.6m-4.8 -4.8v9.6M468.53 375.81h9.6m-4.8 -4.8v9.6M460.05 367.86h9.6m-4.8 -4.8v9.6M490.64 376.12h9.6m-4.8 -4.8v9.6M495.25 375.94h9.6m-4.8 -4.8v9.6M466.81 369.58h9.6m-4.8 -4.8v9.6M468.41 362.48h9.6m-4.8 -4.8v9.6M481.58 384.35h9.6m-4.8 -4.8v9.6M486.96 379.49h9.6m-4.8 -4.8v9.6M489.65 377.53h9.6m-4.8 -4.8v9.6M486.52 373.85h9.6m-4.8 -4.8v9.6M482.98 375.61h9.6m-4.8 -4.8v9.6M480.62 375.19h9.6m-4.8 -4.8v9.6M456.05 374.4h9.6m-4.8 -4.8v9.6M475.27 376.51h9.6m-4.8 -4.8v9.6M484.12 376.7h9.6m-4.8 -4.8v9.6M467.71 364.87h9.6m-4.8 -4.8v9.6M465.45 372.73h9.6m-4.8 -4.8v9.6M472.16 361.23h9.6m-4.8 -4.8v9.6M477.48 368.27h9.6m-4.8 -4.8v9.6M455.91 368.39h9.6m-4.8 -4.8v9.6M485.86 371.09h9.6m-4.8 -4.8v9.6M484.12 369.92h9.6m-4.8 -4.8v9.6M464.56 373.89h9.6m-4.8 -4.8v9.6M465.52 375.64h9.6m-4.8 -4.8v9.6M462.52 363.68h9.6m-4.8 -4.8v9.6M472.12 374.52h9.6m-4.8 -4.8v9.6M494.28 373.96h9.6m-4.8 -4.8v9.6M471.26 368.5h9.6m-4.8 -4.8v9.6M492.91 382.36h9.6m-4.8 -4.8v9.6M462.8 366.71h9.6m-4.8 -4.8v9.6M465.15 367.72h9.6m-4.8 -4.8v9.6M475.96 367.17h9.6m-4.8 -4.8v9.6M461.58 368.71h9.6m-4.8 -4.8v9.6M460.05 366.4h9.6m-4.8 -4.8v9.6M482.56 371.84h9.6m-4.8 -4.8v9.6M469.31 371.43h9.6m-4.8 -4.8v9.6M483.72 367.6h9.6m-4.8 -4.8v9.6M464.66 366.14h9.6m-4.8 -4.8v9.6M467.59 364.75h9.6m-4.8 -4.8v9.6M491.57 374.52h9.6m-4.8 -4.8v9.6M478.91 368.21h9.6m-4.8 -4.8v9.6M460.43 371.58h9.6m-4.8 -4.8v9.6M472.48 373.37h9.6m-4.8 -4.8v9.6M459.52 363.26h9.6m-4.8 -4.8v9.6M458.15 368.59h9.6m-4.8 -4.8v9.6M478.28 373.67h9.6m-4.8 -4.8v9.6M459.99 367.45h9.6m-4.8 -4.8v9.6M464.14 375.14h9.6m-4.8 -4.8v9.6M458.4 366.82h9.6m-4.8 -4.8v9.6M459.97 366.25h9.6m-4.8 -4.8v9.6M473.6 372.49h9.6m-4.8 -4.8v9.6M462.17 372.83h9.6m-4.8 -4.8v9.6M468.18 364.11h9.6m-4.8 -4.8v9.6M473.06 369.72h9.6m-4.8 -4.8v9.6M463.32 372.88h9.6m-4.8 -4.8v9.6M460.92 370.46h9.6m-4.8 -4.8v9.6M461.45 374.34h9.6m-4.8 -4.8v9.6M493.53 382.91h9.6m-4.8 -4.8v9.6M469.57 377.5h9.6m-4.8 -4.8v9.6M473.89 374.38h9.6m-4.8 -4.8v9.6M485.91 372.51h9.6m-4.8 -4.8v9.6M487.3 371.75h9.6m-4.8 -4.8v9.6M483.6 373.86h9.6m-4.8 -4.8v9.6M491.53 372.13h9.6m-4.8 -4.8v9.6M477 369.94h9.6m-4.8 -4.8v9.6M462.18 372.93h9.6m-4.8 -4.8v9.6M480.22 375.7h9.6m-4.8 -4.8v9.6M473.76 370.34h9.6m-4.8 -4.8v9.6M489.01 372.48h9.6m-4.8 -4.8v9.6M465.29 365.88h9.6m-4.8 -4.8v9.6M482.85 378.19h9.6m-4.8 -4.8v9.6M455.88 376.08h9.6m-4.8 -4.8v9.6M470.96 363.65h9.6m-4.8 -4.8v9.6M469.46 371.61h9.6m-4.8 -4.8v9.6M459.28 363.18h9.6m-4.8 -4.8v9.6M488.66 374.65h9.6m-4.8 -4.8v9.6M488.9 379.8h9.6m-4.8 -4.8v9.6M465.59 364.79h9.6m-4.8 -4.8v9.6M484.24 371.87h9.6m-4.8 -4.8v9.6M491.94 370.6h9.6m-4.8 -4.8v9.6M478.92 370.16h9.6m-4.8 -4.8v9.6M470.38 374.27h9.6m-4.8 -4.8v9.6M483.06 373.39h9.6m-4.8 -4.8v9.6M471.46 367.32h9.6m-4.8 -4.8v9.6M478.57 374.72h9.6m-4.8 -4.8v9.6M482.21 372.37h9.6m-4.8 -4.8v9.6M467.31 365.96h9.6m-4.8 -4.8v9.6M482.25 377.47h9.6m-4.8 -4.8v9.6M476 373.02h9.6m-4.8 -4.8v9.6M479.45 371.78h9.6m-4.8 -4.8v9.6M467.15 366.65h9.6m-4.8 -4.8v9.6M485.62 374.18h9.6m-4.8 -4.8v9.6M461.51 371.02h9.6m-4.8 -4.8v9.6M474.91 369.45h9.6m-4.8 -4.8v9.6M476.97 374.04h9.6m-4.8 -4.8v9.6M455.8 364.91h9.6m-4.8 -4.8v9.6M487.7 373.12h9.6m-4.8 -4.8v9.6M477.89 372.74h9.6m-4.8 -4.8v9.6M458.66 363.52h9.6m-4.8 -4.8v9.6M489.79 370.82h9.6m-4.8 -4.8v9.6M484.18 378.13h9.6m-4.8 -4.8v9.6M492.45 374.17h9.6m-4.8 -4.8v9.6M483.04 373.77h9.6m-4.8 -4.8v9.6M475.83 372.68h9.6m-4.8 -4.8v9.6M487.43 373.99h9.6m-4.8 -4.8v9.6M469.96 366.35h9.6m-4.8 -4.8v9.6M473.08 371.62h9.6m-4.8 -4.8v9.6M469.87 371.69h9.6m-4.8 -4.8v9.6M468.65 374.8h9.6m-4.8 -4.8v9.6M493.61 377.15h9.6m-4.8 -4.8v9.6M475.94 371.6h9.6m-4.8 -4.8v9.6M475.99 375.01h9.6m-4.8 -4.8v9.6M470.77 371.76h9.6m-4.8 -4.8v9.6M468.72 368.59h9.6m-4.8 -4.8v9.6M464.81 364.49h9.6m-4.8 -4.8v9.6M493.84 377.65h9.6m-4.8 -4.8v9.6M485.09 366.47h9.6m-4.8 -4.8v9.6M474.92 367.79h9.6m-4.8 -4.8v9.6M479.63 369.21h9.6m-4.8 -4.8v9.6M489.38 372.67h9.6m-4.8 -4.8v9.6M470.43 370.18h9.6m-4.8 -4.8v9.6M466.88 372.1h9.6m-4.8 -4.8v9.6M474.76 371.5h9.6m-4.8 -4.8v9.6M474.08 370.91h9.6m-4.8 -4.8v9.6M489.06 374.06h9.6m-4.8 -4.8v9.6M491.63 370.02h9.6m-4.8 -4.8v9.6M490.2 367.84h9.6m-4.8 -4.8v9.6M483.54 371.17h9.6m-4.8 -4.8v9.6M476.81 368.02h9.6m-4.8 -4.8v9.6M462.53 371.04h9.6m-4.8 -4.8v9.6M493.12 383.2h9.6m-4.8 -4.8v9.6M490 375.23h9.6m-4.8 -4.8v9.6M476.74 370.66h9.6m-4.8 -4.8v9.6M485.96 368.65h9.6m-4.8 -4.8v9.6M491.82 366.88h9.6m-4.8 -4.8v9.6M467.78 368.96h9.6m-4.8 -4.8v9.6M478.67 367.27h9.6m-4.8 -4.8v9.6M494.24 372.67h9.6m-4.8 -4.8v9.6M464.5 368.38h9.6m-4.8 -4.8v9.6M461.54 365.2h9.6m-4.8 -4.8v9.6M493.85 375.04h9.6m-4.8 -4.8v9.6M490.88 369.57h9.6m-4.8 -4.8v9.6M457.24 371.66h9.6m-4.8 -4.8v9.6M478.92 380.22h9.6m-4.8 -4.8v9.6M481.57 372.05h9.6m-4.8 -4.8v9.6M484.45 369.9h9.6m-4.8 -4.8v9.6M480.39 368.5h9.6m-4.8 -4.8v9.6M478.21 373.8h9.6m-4.8 -4.8v9.6M480.03 370.23h9.6m-4.8 -4.8v9.6M480.52 374.61h9.6m-4.8 -4.8v9.6M459.2 364.06h9.6m-4.8 -4.8v9.6M462.5 371.11h9.6m-4.8 -4.8v9.6M467.04 373.51h9.6m-4.8 -4.8v9.6M492.99 372.57h9.6m-4.8 -4.8v9.6M474.35 375.46h9.6m-4.8 -4.8v9.6M480.28 377.47h9.6m-4.8 -4.8v9.6M494.62 373.95h9.6m-4.8 -4.8v9.6M459.53 366.85h9.6m-4.8 -4.8v9.6M463.25 376.96h9.6m-4.8 -4.8v9.6M466.85 365.42h9.6m-4.8 -4.8v9.6M492.63 380.15h9.6m-4.8 -4.8v9.6M484.5 374.8h9.6m-4.8 -4.8v9.6M460.75 368.21h9.6m-4.8 -4.8v9.6M458.34 357.62h9.6m-4.8 -4.8v9.6M462.34 368.47h9.6m-4.8 -4.8v9.6M492.49 372.47h9.6m-4.8 -4.8v9.6M472.49 371.16h9.6m-4.8 -4.8v9.6M490.63 373.15h9.6m-4.8 -4.8v9.6M489.7 379.67h9.6m-4.8 -4.8v9.6M494.54 376.72h9.6m-4.8 -4.8v9.6M477.39 373.75h9.6m-4.8 -4.8v9.6M466.52 373.18h9.6m-4.8 -4.8v9.6M476.27 370.28h9.6m-4.8 -4.8v9.6M491.58 371.61h9.6m-4.8 -4.8v9.6M493.8 374.62h9.6m-4.8 -4.8v9.6M471.55 371.62h9.6m-4.8 -4.8v9.6M475.16 368.51h9.6m-4.8 -4.8v9.6M487.73 377.99h9.6m-4.8 -4.8v9.6M471.52 369.36h9.6m-4.8 -4.8v9.6M465.16 367.39h9.6m-4.8 -4.8v9.6M466.76 369.92h9.6m-4.8 -4.8v9.6M474.88 371.98h9.6m-4.8 -4.8v9.6M465.11 368.8h9.6m-4.8 -4.8v9.6M486.38 375.67h9.6m-4.8 -4.8v9.6M482.45 373.47h9.6m-4.8 -4.8v9.6M493.18 373.39h9.6m-4.8 -4.8v9.6M485.66 380.32h9.6m-4.8 -4.8v9.6M473.8 366.44h9.6m-4.8 -4.8v9.6M462.85 366.94h9.6m-4.8 -4.8v9.6M464.98 368.45h9.6m-4.8 -4.8v9.6M491.33 378.81h9.6m-4.8 -4.8v9.6M481.17 373.87h9.6m-4.8 -4.8v9.6M459.79 370.16h9.6m-4.8 -4.8v9.6M475.68 368.82h9.6m-4.8 -4.8v9.6M486.45 371.45h9.6m-4.8 -4.8v9.6M488.01 370.03h9.6m-4.8 -4.8v9.6M489.41 374.37h9.6m-4.8 -4.8v9.6M492.3 382.84h9.6m-4.8 -4.8v9.6M474.97 374.56h9.6m-4.8 -4.8v9.6M482.45 374.04h9.6m-4.8 -4.8v9.6M458.43 365.52h9.6m-4.8 -4.8v9.6M482.22 378.04h9.6m-4.8 -4.8v9.6M476.28 372.12h9.6m-4.8 -4.8v9.6M464.09 368.81h9.6m-4.8 -4.8v9.6M465.69 371.58h9.6m-4.8 -4.8v9.6M484.08 373.83h9.6m-4.8 -4.8v9.6M464.6 361.12h9.6m-4.8 -4.8v9.6M469.32 370.28h9.6m-4.8 -4.8v9.6M470.71 363.43h9.6m-4.8 -4.8v9.6M486.23 372.88h9.6m-4.8 -4.8v9.6M463.26 371.33h9.6m-4.8 -4.8v9.6M458.67 364.64h9.6m-4.8 -4.8v9.6M462.88 370.15h9.6m-4.8 -4.8v9.6M484.28 373.48h9.6m-4.8 -4.8v9.6M497.49 386.62h9.6m-4.8 -4.8v9.6M513.33 389.1h9.6m-4.8 -4.8v9.6M511.75 391.24h9.6m-4.8 -4.8v9.6M507.67 381.92h9.6m-4.8 -4.8v9.6M506.82 384.88h9.6m-4.8 -4.8v9.6M512.84 391.35h9.6m-4.8 -4.8v9.6M497.81 382.62h9.6m-4.8 -4.8v9.6M506.05 384.62h9.6m-4.8 -4.8v9.6M509 388.35h9.6m-4.8 -4.8v9.6M500.35 383.4h9.6m-4.8 -4.8v9.6M512.4 383.07h9.6m-4.8 -4.8v9.6M505.63 384.9h9.6m-4.8 -4.8v9.6M497.96 375.86h9.6m-4.8 -4.8v9.6M499.93 375.16h9.6m-4.8 -4.8v9.6M506.21 383.41h9.6m-4.8 -4.8v9.6M516.71 390.51h9.6m-4.8 -4.8v9.6M521.06 393.76h9.6m-4.8 -4.8v9.6M511.19 385.39h9.6m-4.8 -4.8v9.6M497.37 376.61h9.6m-4.8 -4.8v9.6M514.99 389.8h9.6m-4.8 -4.8v9.6M524.37 397.28h9.6m-4.8 -4.8v9.6M497.52 380.46h9.6m-4.8 -4.8v9.6M506.83 386.87h9.6m-4.8 -4.8v9.6M496.43 380.31h9.6m-4.8 -4.8v9.6M514.05 390.25h9.6m-4.8 -4.8v9.6M499.18 375.24h9.6m-4.8 -4.8v9.6M525.49 401.91h9.6m-4.8 -4.8v9.6M508.71 389h9.6m-4.8 -4.8v9.6M515.44 395.37h9.6m-4.8 -4.8v9.6M506.24 385.08h9.6m-4.8 -4.8v9.6M506.46 381.44h9.6m-4.8 -4.8v9.6M496.26 379.14h9.6m-4.8 -4.8v9.6M523.15 395.88h9.6m-4.8 -4.8v9.6M504.38 391.69h9.6m-4.8 -4.8v9.6M503.71 383.52h9.6m-4.8 -4.8v9.6M507.22 383.95h9.6m-4.8 -4.8v9.6M501.69 383.79h9.6m-4.8 -4.8v9.6M505.72 390.26h9.6m-4.8 -4.8v9.6M504.74 382.13h9.6m-4.8 -4.8v9.6M526.56 399.72h9.6m-4.8 -4.8v9.6M523.46 390.77h9.6m-4.8 -4.8v9.6M504.78 385.83h9.6m-4.8 -4.8v9.6M522.29 396.94h9.6m-4.8 -4.8v9.6M497.1 379.85h9.6m-4.8 -4.8v9.6M513.78 390.4h9.6m-4.8 -4.8v9.6M523.05 403.32h9.6m-4.8 -4.8v9.6M502.72 377.53h9.6m-4.8 -4.8v9.6M500.96 378.87h9.6m-4.8 -4.8v9.6M520.87 396.27h9.6m-4.8 -4.8v9.6M516.44 393.86h9.6m-4.8 -4.8v9.6M526.53 397.49h9.6m-4.8 -4.8v9.6M500.89 379.8h9.6m-4.8 -4.8v9.6M500.57 382.32h9.6m-4.8 -4.8v9.6M497.64 379.44h9.6m-4.8 -4.8v9.6M506.1 383.57h9.6m-4.8 -4.8v9.6M497.4 380.19h9.6m-4.8 -4.8v9.6M515.21 392.91h9.6m-4.8 -4.8v9.6M498.6 380.99h9.6m-4.8 -4.8v9.6M510.18 389.29h9.6m-4.8 -4.8v9.6M512.1 394.08h9.6m-4.8 -4.8v9.6M498.62 382.82h9.6m-4.8 -4.8v9.6M517.66 392.08h9.6m-4.8 -4.8v9.6M527.05 396.9h9.6m-4.8 -4.8v9.6M508.14 386.58h9.6m-4.8 -4.8v9.6M512.15 402.16h9.6m-4.8 -4.8v9.6M507.7 391.26h9.6m-4.8 -4.8v9.6M526.71 398h9.6m-4.8 -4.8v9.6M522.64 390.68h9.6m-4.8 -4.8v9.6M526.36 394.94h9.6m-4.8 -4.8v9.6M508.05 387.04h9.6m-4.8 -4.8v9.6M505.85 385.83h9.6m-4.8 -4.8v9.6M496.41 379.56h9.6m-4.8 -4.8v9.6M498.32 373.17h9.6m-4.8 -4.8v9.6M525.97 398.09h9.6m-4.8 -4.8v9.6M514.28 394.33h9.6m-4.8 -4.8v9.6M509.93 384.46h9.6m-4.8 -4.8v9.6M500.86 378.1h9.6m-4.8 -4.8v9.6M525.4 405.61h9.6m-4.8 -4.8v9.6M497.14 380.72h9.6m-4.8 -4.8v9.6M516.3 388.92h9.6m-4.8 -4.8v9.6M514.73 388.2h9.6m-4.8 -4.8v9.6M518.89 398.53h9.6m-4.8 -4.8v9.6M519.29 394.41h9.6m-4.8 -4.8v9.6M517.11 389.9h9.6m-4.8 -4.8v9.6M513.3 389.17h9.6m-4.8 -4.8v9.6M509.54 391.17h9.6m-4.8 -4.8v9.6M521.12 396.23h9.6m-4.8 -4.8v9.6M500.08 378.12h9.6m-4.8 -4.8v9.6M504.78 382.01h9.6m-4.8 -4.8v9.6M520.48 398.55h9.6m-4.8 -4.8v9.6M523.86 389.15h9.6m-4.8 -4.8v9.6M516.72 391.93h9.6m-4.8 -4.8v9.6M497.47 383.96h9.6m-4.8 -4.8v9.6M522.02 397.3h9.6m-4.8 -4.8v9.6M526.35 408.76h9.6m-4.8 -4.8v9.6M510.38 390.52h9.6m-4.8 -4.8v9.6M508.18 386.5h9.6m-4.8 -4.8v9.6M506.98 376.93h9.6m-4.8 -4.8v9.6M514.97 390.83h9.6m-4.8 -4.8v9.6M501.24 379.92h9.6m-4.8 -4.8v9.6M500.13 377.78h9.6m-4.8 -4.8v9.6M527.06 398.85h9.6m-4.8 -4.8v9.6M511.66 391.18h9.6m-4.8 -4.8v9.6M512.09 384.64h9.6m-4.8 -4.8v9.6M505.38 382.31h9.6m-4.8 -4.8v9.6M497.3 373.1h9.6m-4.8 -4.8v9.6M497.93 375.32h9.6m-4.8 -4.8v9.6M497.75 382.1h9.6m-4.8 -4.8v9.6M518.01 395.1h9.6m-4.8 -4.8v9.6M520.42 396.47h9.6m-4.8 -4.8v9.6M525.81 400.05h9.6m-4.8 -4.8v9.6M526.74 397.76h9.6m-4.8 -4.8v9.6M500.65 381.39h9.6m-4.8 -4.8v9.6M496.37 380.69h9.6m-4.8 -4.8v9.6M517.42 387.95h9.6m-4.8 -4.8v9.6M505.09 379.1h9.6m-4.8 -4.8v9.6M524.91 397.9h9.6m-4.8 -4.8v9.6M511.23 392.41h9.6m-4.8 -4.8v9.6M509.68 389.65h9.6m-4.8 -4.8v9.6M509.13 389.67h9.6m-4.8 -4.8v9.6M505.55 387.34h9.6m-4.8 -4.8v9.6M513.63 393.9h9.6m-4.8 -4.8v9.6M501.71 380.64h9.6m-4.8 -4.8v9.6M526.63 398.19h9.6m-4.8 -4.8v9.6M521.26 394.05h9.6m-4.8 -4.8v9.6M522.73 399.79h9.6m-4.8 -4.8v9.6M525.64 397.5h9.6m-4.8 -4.8v9.6M517.37 386.08h9.6m-4.8 -4.8v9.6M524.26 396.74h9.6m-4.8 -4.8v9.6M519.12 395.54h9.6m-4.8 -4.8v9.6M510.81 378.81h9.6m-4.8 -4.8v9.6M496.56 376.89h9.6m-4.8 -4.8v9.6M512.11 391.54h9.6m-4.8 -4.8v9.6M512.86 386.84h9.6m-4.8 -4.8v9.6M519.06 396.6h9.6m-4.8 -4.8v9.6M523.22 398.1h9.6m-4.8 -4.8v9.6M515.67 388.37h9.6m-4.8 -4.8v9.6M498.64 381.47h9.6m-4.8 -4.8v9.6M498.78 384.62h9.6m-4.8 -4.8v9.6M523.29 394.41h9.6m-4.8 -4.8v9.6M523.6 394.17h9.6m-4.8 -4.8v9.6M508.5 391.31h9.6m-4.8 -4.8v9.6M498.05 380.16h9.6m-4.8 -4.8v9.6M499.28 375.97h9.6m-4.8 -4.8v9.6M499.5 379.04h9.6m-4.8 -4.8v9.6M524.63 394.87h9.6m-4.8 -4.8v9.6M508.68 387.04h9.6m-4.8 -4.8v9.6M510.48 390.26h9.6m-4.8 -4.8v9.6M521.66 397.72h9.6m-4.8 -4.8v9.6M503.55 383.76h9.6m-4.8 -4.8v9.6M512.65 389.09h9.6m-4.8 -4.8v9.6M514.08 400.16h9.6m-4.8 -4.8v9.6M508.95 393.51h9.6m-4.8 -4.8v9.6M499.69 379.98h9.6m-4.8 -4.8v9.6M509.23 384.69h9.6m-4.8 -4.8v9.6M499.42 382.12h9.6m-4.8 -4.8v9.6M505.88 384.35h9.6m-4.8 -4.8v9.6M508.49 390.19h9.6m-4.8 -4.8v9.6M501.89 386.32h9.6m-4.8 -4.8v9.6M527.26 399.03h9.6m-4.8 -4.8v9.6M517.59 393.33h9.6m-4.8 -4.8v9.6M525.19 399.9h9.6m-4.8 -4.8v9.6M525.21 402.68h9.6m-4.8 -4.8v9.6M504.92 383.39h9.6m-4.8 -4.8v9.6M500.46 380.74h9.6m-4.8 -4.8v9.6M527.09 400.35h9.6m-4.8 -4.8v9.6M511.94 389.57h9.6m-4.8 -4.8v9.6M517.19 394.12h9.6m-4.8 -4.8v9.6M523.15 394.91h9.6m-4.8 -4.8v9.6M506.59 383.56h9.6m-4.8 -4.8v9.6M514.52 384.86h9.6m-4.8 -4.8v9.6M505.3 379.07h9.6m-4.8 -4.8v9.6M502.67 382.23h9.6m-4.8 -4.8v9.6M496.98 382.49h9.6m-4.8 -4.8v9.6M503.31 380.34h9.6m-4.8 -4.8v9.6M503.74 384.93h9.6m-4.8 -4.8v9.6M519.4 389.04h9.6m-4.8 -4.8v9.6M512.13 394.53h9.6m-4.8 -4.8v9.6M520.21 396.36h9.6m-4.8 -4.8v9.6M504.9 378.37h9.6m-4.8 -4.8v9.6M502.6 382.05h9.6m-4.8 -4.8v9.6M514.08 388.29h9.6m-4.8 -4.8v9.6M504.43 381.08h9.6m-4.8 -4.8v9.6M519.6 396.19h9.6m-4.8 -4.8v9.6M507.91 383.15h9.6m-4.8 -4.8v9.6M504.73 386.62h9.6m-4.8 -4.8v9.6M519.59 395.62h9.6m-4.8 -4.8v9.6M501.84 374.22h9.6m-4.8 -4.8v9.6M518.69 394.55h9.6m-4.8 -4.8v9.6M508.16 384.99h9.6m-4.8 -4.8v9.6M498.58 383.06h9.6m-4.8 -4.8v9.6M515.64 387.27h9.6m-4.8 -4.8v9.6M515.06 394.71h9.6m-4.8 -4.8v9.6M499.04 382.24h9.6m-4.8 -4.8v9.6M510.37 390.14h9.6m-4.8 -4.8v9.6M510.45 391.39h9.6m-4.8 -4.8v9.6M518.41 398.69h9.6m-4.8 -4.8v9.6M502.08 382.79h9.6m-4.8 -4.8v9.6M513.5 392.14h9.6m-4.8 -4.8v9.6M527.11 399.97h9.6m-4.8 -4.8v9.6" stroke="#1a2cea" stroke-width="0.75" fill="none"/>
<path d="M566.61 433.26h9.6m-4.8 -4.8v9.6M563.67 421.28h9.6m-4.8 -4.8v9.6M603.94 453.53h9.6m-4.8 -4.8v9.6M528.99 403.81h9.6m-4.8 -4.8v9.6M598.12 448.05h9.6m-4.8 -4.8v9.6M540.05 401.61h9.6m-4.8 -4.8v9.6M652.35 476.25h9.6m-4.8 -4.8v9.6M588.51 439.67h9.6m-4.8 -4.8v9.6M637.22 477.69h9.6m-4.8 -4.8v9.6M647.02 470.66h9.6m-4.8 -4.8v9.6M572.73 439.46h9.6m-4.8 -4.8v9.6M643.15 471.7h9.6m-4.8 -4.8v9.6M605.83 449.01h9.6m-4.8 -4.8v9.6M644.53 472.83h9.6m-4.8 -4.8v9.6M642.35 468.1h9.6m-4.8 -4.8v9.6M550.09 423.94h9.6m-4.8 -4.8v9.6M621.58 464.45h9.6m-4.8 -4.8v9.6M586.02 439.05h9.6m-4.8 -4.8v9.6M531.44 398.56h9.6m-4.8 -4.8v9.6M560.95 429.49h9.6m-4.8 -4.8v9.6M557.68 428.72h9.6m-4.8 -4.8v9.6M606.78 458.74h9.6m-4.8 -4.8v9.6M578.61 442.96h9.6m-4.8 -4.8v9.6M552.83 425.31h9.6m-4.8 -4.8v9.6M640.63 470.92h9.6m-4.8 -4.8v9.6M550.8 422.79h9.6m-4.8 -4.8v9.6M634.21 463.72h9.6m-4.8 -4.8v9.6M629.57 463.04h9.6m-4.8 -4.8v9.6M552.34 428.82h9.6m-4.8 -4.8v9.6M627.52 464.52h9.6m-4.8 -4.8v9.6M626.58 464.08h9.6m-4.8 -4.8v9.6M624.18 465.19h9.6m-4.8 -4.8v9.6M665.57 492.18h9.6m-4.8 -4.8v9.6M661.13 483.88h9.6m-4.8 -4.8v9.6M591.48 444.04h9.6m-4.8 -4.8v9.6M572.42 431.07h9.6m-4.8 -4.8v9.6M543.65 416.88h9.6m-4.8 -4.8v9.6M574.39 440.21h9.6m-4.8 -4.8v9.6M620.72 457.47h9.6m-4.8 -4.8v9.6M647.33 473.31h9.6m-4.8 -4.8v9.6M548.47 423.05h9.6m-4.8 -4.8v9.6M602.11 449.69h9.6m-4.8 -4.8v9.6M549.87 420.17h9.6m-4.8 -4.8v9.6M653.04 476.42h9.6m-4.8 -4.8v9.6M658.55 481.57h9.6m-4.8 -4.8v9.6M539.53 412.7h9.6m-4.8 -4.8v9.6M538.9 406.6h9.6m-4.8 -4.8v9.6M647.43 473.79h9.6m-4.8 -4.8v9.6M590.19 440.92h9.6m-4.8 -4.8v9.6M579.26 444.2h9.6m-4.8 -4.8v9.6M668.71 487.3h9.6m-4.8 -4.8v9.6M657.66 480.28h9.6m-4.8 -4.8v9.6M561.94 432.14h9.6m-4.8 -4.8v9.6M564.93 438.97h9.6m-4.8 -4.8v9.6M660.23 482.04h9.6m-4.8 -4.8v9.6M661.16 474.68h9.6m-4.8 -4.8v9.6M590.77 442.08h9.6m-4.8 -4.8v9.6M587.54 443.24h9.6m-4.8 -4.8v9.6M639.96 472.86h9.6m-4.8 -4.8v9.6M546 423.75h9.6m-4.8 -4.8v9.6M572.07 433.09h9.6m-4.8 -4.8v9.6M538.75 412.66h9.6m-4.8 -4.8v9.6M549.94 424.57h9.6m-4.8 -4.8v9.6M547.2 416.35h9.6m-4.8 -4.8v9.6M574.46 431.16h9.6m-4.8 -4.8v9.6M635.71 466h9.6m-4.8 -4.8v9.6M661.03 487.28h9.6m-4.8 -4.8v9.6M555.39 429.9h9.6m-4.8 -4.8v9.6M552.83 421.32h9.6m-4.8 -4.8v9.6M605.98 459.22h9.6m-4.8 -4.8v9.6M623.44 459.13h9.6m-4.8 -4.8v9.6M638.48 469.59h9.6m-4.8 -4.8v9.6M605.12 450.28h9.6m-4.8 -4.8v9.6M656.06 479.54h9.6m-4.8 -4.8v9.6M551.1 428.87h9.6m-4.8 -4.8v9.6M594.31 449.74h9.6m-4.8 -4.8v9.6M546.54 413.4h9.6m-4.8 -4.8v9.6M668.4 486.5h9.6m-4.8 -4.8v9.6M669.21 490.54h9.6m-4.8 -4.8v9.6M617.27 458.13h9.6m-4.8 -4.8v9.6M643.75 477.72h9.6m-4.8 -4.8v9.6M609.26 457.43h9.6m-4.8 -4.8v9.6M664.98 481.83h9.6m-4.8 -4.8v9.6M638.34 468.3h9.6m-4.8 -4.8v9.6M602.24 450.32h9.6m-4.8 -4.8v9.6M594.42 446.21h9.6m-4.8 -4.8v9.6M627.96 475.49h9.6m-4.8 -4.8v9.6M548.83 420.84h9.6m-4.8 -4.8v9.6M587.64 441.48h9.6m-4.8 -4.8v9.6M539.44 411.24h9.6m-4.8 -4.8v9.6M585.37 437.99h9.6m-4.8 -4.8v9.6M658.61 476.41h9.6m-4.8 -4.8v9.6M599.88 449.32h9.6m-4.8 -4.8v9.6M632.51 461.5h9.6m-4.8 -4.8v9.6M540.22 402.83h9.6m-4.8 -4.8v9.6M533.83 403.73h9.6m-4.8 -4.8v9.6M558.04 430.33h9.6m-4.8 -4.8v9.6M642.11 476.06h9.6m-4.8 -4.8v9.6M558.72 426.97h9.6m-4.8 -4.8v9.6M548.23 428.08h9.6m-4.8 -4.8v9.6M632.92 460.9h9.6m-4.8 -4.8v9.6M609.35 453.03h9.6m-4.8 -4.8v9.6M550.74 426.01h9.6m-4.8 -4.8v9.6M600.41 447.91h9.6m-4.8 -4.8v9.6M560.87 433.43h9.6m-4.8 -4.8v9.6M582.05 442.43h9.6m-4.8 -4.8v9.6M602.8 449.41h9.6m-4.8 -4.8v9.6M667.11 488.46h9.6m-4.8 -4.8v9.6M582.36 437.3h9.6m-4.8 -4.8v9.6M549 422.51h9.6m-4.8 -4.8v9.6M623.62 458.02h9.6m-4.8 -4.8v9.6M649.07 472.9h9.6m-4.8 -4.8v9.6M645.51 466.26h9.6m-4.8 -4.8v9.6M564.04 427.7h9.6m-4.8 -4.8v9.6M656.7 481.34h9.6m-4.8 -4.8v9.6M546.63 423.82h9.6m-4.8 -4.8v9.6M546.71 427.61h9.6m-4.8 -4.8v9.6M636.69 468.71h9.6m-4.8 -4.8v9.6M630.05 477.5h9.6m-4.8 -4.8v9.6M602.26 455.24h9.6m-4.8 -4.8v9.6M627.81 475.27h9.6m-4.8 -4.8v9.6M568.34 435.17h9.6m-4.8 -4.8v9.6M662.74 479.09h9.6m-4.8 -4.8v9.6M585.16 443.27h9.6m-4.8 -4.8v9.6M638.28 471.64h9.6m-4.8 -4.8v9.6M654.78 479.03h9.6m-4.8 -4.8v9.6M600.67 449.77h9.6m-4.8 -4.8v9.6M527.77 406.2h9.6m-4.8 -4.8v9.6M638.29 469.06h9.6m-4.8 -4.8v9.6M664.21 483.16h9.6m-4.8 -4.8v9.6M559.63 433.68h9.6m-4.8 -4.8v9.6M668.85 489.44h9.6m-4.8 -4.8v9.6M535.26 401.37h9.6m-4.8 -4.8v9.6M632.18 464.49h9.6m-4.8 -4.8v9.6M658.85 477.94h9.6m-4.8 -4.8v9.6M664.87 486.44h9.6m-4.8 -4.8v9.6M532.5 405.2h9.6m-4.8 -4.8v9.6M660.66 485.79h9.6m-4.8 -4.8v9.6M633.64 474.74h9.6m-4.8 -4.8v9.6M649.97 476.5h9.6m-4.8 -4.8v9.6M611.52 460.66h9.6m-4.8 -4.8v9.6M559.88 434.65h9.6m-4.8 -4.8v9.6M621.51 468.15h9.6m-4.8 -4.8v9.6M631.82 465.8h9.6m-4.8 -4.8v9.6M567.19 434.2h9.6m-4.8 -4.8v9.6M602.93 458.78h9.6m-4.8 -4.8v9.6M643.64 463.72h9.6m-4.8 -4.8v9.6M638.9 476.61h9.6m-4.8 -4.8v9.6M580.23 436.5h9.6m-4.8 -4.8v9.6M628.35 470.03h9.6m-4.8 -4.8v9.6M654.02 474.22h9.6m-4.8 -4.8v9.6M650.31 474.58h9.6m-4.8 -4.8v9.6M538.51 405.48h9.6m-4.8 -4.8v9.6M572.43 434.55h9.6m-4.8 -4.8v9.6M564.87 434.47h9.6m-4.8 -4.8v9.6M593.85 439.89h9.6m-4.8 -4.8v9.6M555.15 427.93h9.6m-4.8 -4.8v9.6M551.21 425.37h9.6m-4.8 -4.8v9.6M636.26 469.38h9.6m-4.8 -4.8v9.6M590.37 446.04h9.6m-4.8 -4.8v9.6M563.13 429.51h9.6m-4.8 -4.8v9.6M548.58 415.04h9.6m-4.8 -4.8v9.6M576.62 429.97h9.6m-4.8 -4.8v9.6M643.26 470.41h9.6m-4.8 -4.8v9.6M616.17 458.39h9.6m-4.8 -4.8v9.6M645.13 469.46h9.6m-4.8 -4.8v9.6M641.7 473.42h9.6m-4.8 -4.8v9.6M669.88 480.44h9.6m-4.8 -4.8v9.6M532.47 402.9h9.6m-4.8 -4.8v9.6M628.83 473.39h9.6m-4.8 -4.8v9.6M556.12 425.8h9.6m-4.8 -4.8v9.6M560.9 433.73h9.6m-4.8 -4.8v9.6M538.69 408.51h9.6m-4.8 -4.8v9.6M636.08 466.07h9.6m-4.8 -4.8v9.6M533.82 406.18h9.6m-4.8 -4.8v9.6M608.54 455.38h9.6m-4.8 -4.8v9.6M553.79 421.56h9.6m-4.8 -4.8v9.6M637.42 474.64h9.6m-4.8 -4.8v9.6M573.9 442.22h9.6m-4.8 -4.8v9.6M536.81 408.11h9.6m-4.8 -4.8v9.6M661.78 482.35h9.6m-4.8 -4.8v9.6M561.11 422.08h9.6m-4.8 -4.8v9.6M587.18 437.25h9.6m-4.8 -4.8v9.6M553.22 424.37h9.6m-4.8 -4.8v9.6M557.07 429.09h9.6m-4.8 -4.8v9.6M592.8 452.44h9.6m-4.8 -4.8v9.6M534.03 410.36h9.6m-4.8 -4.8v9.6M528.66 402.41h9.6m-4.8 -4.8v9.6M612.13 458.03h9.6m-4.8 -4.8v9.6M580.13 439.03h9.6m-4.8 -4.8v9.6M664.41 482.56h9.6m-4.8 -4.8v9.6M665.37 480.83h9.6m-4.8 -4.8v9.6M528.43 403.77h9.6m-4.8 -4.8v9.6M615.09 462.1h9.6m-4.8 -4.8v9.6M565 435.43h9.6m-4.8 -4.8v9.6M538.11 404.34h9.6m-4.8 -4.8v9.6M632.73 475.58h9.6m-4.8 -4.8v9.6M585.18 437.65h9.6m-4.8 -4.8v9.6M566.9 429.36h9.6m-4.8 -4.8v9.6M595.16 454.59h9.6m-4.8 -4.8v9.6M550.51 425.8h9.6m-4.8 -4.8v9.6M622.16 459.51h9.6m-4.8 -4.8v9.6M575.55 439.07h9.6m-4.8 -4.8v9.6M663.61 484.83h9.6m-4.8 -4.8v9.6M615.33 460.77h9.6m-4.8 -4.8v9.6M643.32 466.56h9.6m-4.8 -4.8v9.6M664.11 480.45h9.6m-4.8 -4.8v9.6M540.11 414.22h9.6m-4.8 -4.8v9.6M640.65 476.01h9.6m-4.8 -4.8v9.6M587.61 447.44h9.6m-4.8 -4.8v9.6M596.96 446.76h9.6m-4.8 -4.8v9.6M610.47 466.34h9.6m-4.8 -4.8v9.6M616.19 463.35h9.6m-4.8 -4.8v9.6M649.08 472.06h9.6m-4.8 -4.8v9.6M554.72 432.33h9.6m-4.8 -4.8v9.6M615.02 461.76h9.6m-4.8 -4.8v9.6M628.19 466.63h9.6m-4.8 -4.8v9.6M579.09 434.05h9.6m-4.8 -4.8v9.6M545.34 423.33h9.6m-4.8 -4.8v9.6M657.28 478.65h9.6m-4.8 -4.8v9.6M534.88 406.23h9.6m-4.8 -4.8v9.6M616.92 461.05h9.6m-4.8 -4.8v9.6M612.16 465.08h9.6m-4.8 -4.8v9.6M618.27 460.12h9.6m-4.8 -4.8v9.6M662.28 485.15h9.6m-4.8 -4.8v9.6M666.68 484.93h9.6m-4.8 -4.8v9.6M559.16 433.01h9.6m-4.8 -4.8v9.6M629.33 458.99h9.6m-4.8 -4.8v9.6M641.78 470.9h9.6m-4.8 -4.8v9.6M598.93 441.29h9.6m-4.8 -4.8v9.6M627.86 468.53h9.6m-4.8 -4.8v9.6M530.63 403.74h9.6m-4.8 -4.8v9.6M590.33 437.53h9.6m-4.8 -4.8v9.6M587.84 443.14h9.6m-4.8 -4.8v9.6M637.11 467.51h9.6m-4.8 -4.8v9.6M568.24 428.4h9.6m-4.8 -4.8v9.6M659.54 481.68h9.6m-4.8 -4.8v9.6M628.82 469.05h9.6m-4.8 -4.8v9.6M632.97 468.76h9.6m-4.8 -4.8v9.6M661.68 477.49h9.6m-4.8 -4.8v9.6M601.24 449.8h9.6m-4.8 -4.8v9.6M599.9 445.37h9.6m-4.8 -4.8v9.6M529.1 402.56h9.6m-4.8 -4.8v9.6M539.87 413.12h9.6m-4.8 -4.8v9.6M641.2 475.27h9.6m-4.8 -4.8v9.6M614.34 461.28h9.6m-4.8 -4.8v9.6M634.57 470.63h9.6m-4.8 -4.8v9.6M589.74 443.37h9.6m-4.8 -4.8v9.6M550.17 427.25h9.6m-4.8 -4.8v9.6M543.25 418.35h9.6m-4.8 -4.8v9.6M661.49 482.56h9.6m-4.8 -4.8v9.6M633.45 464.15h9.6m-4.8 -4.8v9.6M548.05 422.44h9.6m-4.8 -4.8v9.6M568.63 435.3h9.6m-4.8 -4.8v9.6M552.42 421.83h9.6m-4.8 -4.8v9.6M573.31 429.45h9.6m-4.8 -4.8v9.6M616.3 462.28h9.6m-4.8 -4.8v9.6M587.45 442.44h9.6m-4.8 -4.8v9.6M647.36 480.64h9.6m-4.8 -4.8v9.6M535.82 412.91h9.6m-4.8 -4.8v9.6M532.3 404.06h9.6m-4.8 -4.8v9.6M640.59 465.16h9.6m-4.8 -4.8v9.6M647.81 466.53h9.6m-4.8 -4.8v9.6M621.44 460.25h9.6m-4.8 -4.8v9.6M560.43 431.99h9.6m-4.8 -4.8v9.6M613.52 457.62h9.6m-4.8 -4.8v9.6M539.79 416.88h9.6m-4.8 -4.8v9.6M602.4 452.65h9.6m-4.8 -4.8v9.6M591.51 448.69h9.6m-4.8 -4.8v9.6M538.18 409.18h9.6m-4.8 -4.8v9.6M635.5 463h9.6m-4.8 -4.8v9.6M660.38 472.14h9.6m-4.8 -4.8v9.6M545.98 417.87h9.6m-4.8 -4.8v9.6M652.53 474.6h9.6m-4.8 -4.8v9.6M536.67 414.08h9.6m-4.8 -4.8v9.6M631.12 469.7h9.6m-4.8 -4.8v9.6M647.67 467.71h9.6m-4.8 -4.8v9.6M600.93 446.65h9.6m-4.8 -4.8v9.6M643.88 468.68h9.6m-4.8 -4.8v9.6M661.64 479.64h9.6m-4.8 -4.8v9.6M606.49 448.72h9.6m-4.8 -4.8v9.6M613.33 460.52h9.6m-4.8 -4.8v9.6M659.97 481.17h9.6m-4.8 -4.8v9.6M568.04 421.8h9.6m-4.8 -4.8v9.6M631.05 470.47h9.6m-4.8 -4.8v9.6M629.63 464.87h9.6m-4.8 -4.8v9.6M623.01 465.58h9.6m-4.8 -4.8v9.6M622.66 458.09h9.6m-4.8 -4.8v9.6M562.87 431.93h9.6m-4.8 -4.8v9.6M656.26 479.62h9.6m-4.8 -4.8v9.6M616.73 462.51h9.6m-4.8 -4.8v9.6M574.55 431.98h9.6m-4.8 -4.8v9.6M555.33 431.84h9.6m-4.8 -4.8v9.6M631.78 473.16h9.6m-4.8 -4.8v9.6M530.14 402.71h9.6m-4.8 -4.8v9.6M603.65 454.61h9.6m-4.8 -4.8v9.6M556.86 426.55h9.6m-4.8 -4.8v9.6M658.84 481.12h9.6m-4.8 -4.8v9.6M630.39 469.26h9.6m-4.8 -4.8v9.6M591.56 442.95h9.6m-4.8 -4.8v9.6" stroke="#1a2cea" stroke-width="0.7" fill="none" opacity="0.9"/>
<path d="M402.88 518.93l8.6 8.6m-8.6 0l8.6 -8.6M390.51 520.62l8.6 8.6m-8.6 0l8.6 -8.6M384.09 515.2l8.6 8.6m-8.6 0l8.6 -8.6M386.09 527.58l8.6 8.6m-8.6 0l8.6 -8.6M402.42 509.55l8.6 8.6m-8.6 0l8.6 -8.6M379.6 531.43l8.6 8.6m-8.6 0l8.6 -8.6M390.35 523.21l8.6 8.6m-8.6 0l8.6 -8.6M379.6 530.56l8.6 8.6m-8.6 0l8.6 -8.6M399.91 517.74l8.6 8.6m-8.6 0l8.6 -8.6M387.2 525.18l8.6 8.6m-8.6 0l8.6 -8.6M396.97 521.1l8.6 8.6m-8.6 0l8.6 -8.6M389.78 517.65l8.6 8.6m-8.6 0l8.6 -8.6M397.27 505.13l8.6 8.6m-8.6 0l8.6 -8.6M390.91 525.84l8.6 8.6m-8.6 0l8.6 -8.6M389.39 516.11l8.6 8.6m-8.6 0l8.6 -8.6M394.91 522.29l8.6 8.6m-8.6 0l8.6 -8.6M391.09 520.4l8.6 8.6m-8.6 0l8.6 -8.6M391.16 530.08l8.6 8.6m-8.6 0l8.6 -8.6M382.06 535.07l8.6 8.6m-8.6 0l8.6 -8.6M379.6 531.8l8.6 8.6m-8.6 0l8.6 -8.6M380.67 532.25l8.6 8.6m-8.6 0l8.6 -8.6M393.34 522.77l8.6 8.6m-8.6 0l8.6 -8.6M394.88 513.34l8.6 8.6m-8.6 0l8.6 -8.6M393.73 510.48l8.6 8.6m-8.6 0l8.6 -8.6M387.91 528.53l8.6 8.6m-8.6 0l8.6 -8.6M399.12 512.27l8.6 8.6m-8.6 0l8.6 -8.6M391.49 524.47l8.6 8.6m-8.6 0l8.6 -8.6M397.77 515l8.6 8.6m-8.6 0l8.6 -8.6M398.24 512.9l8.6 8.6m-8.6 0l8.6 -8.6M393.69 525l8.6 8.6m-8.6 0l8.6 -8.6M380.51 520.18l8.6 8.6m-8.6 0l8.6 -8.6M396.84 520.2l8.6 8.6m-8.6 0l8.6 -8.6M390.66 523.47l8.6 8.6m-8.6 0l8.6 -8.6M405.74 520.37l8.6 8.6m-8.6 0l8.6 -8.6M391.46 526.16l8.6 8.6m-8.6 0l8.6 -8.6M400.37 512.34l8.6 8.6m-8.6 0l8.6 -8.6M396.46 523.28l8.6 8.6m-8.6 0l8.6 -8.6M393.49 513.19l8.6 8.6m-8.6 0l8.6 -8.6M386.53 529.84l8.6 8.6m-8.6 0l8.6 -8.6M399.37 504.14l8.6 8.6m-8.6 0l8.6 -8.6M387.31 529.67l8.6 8.6m-8.6 0l8.6 -8.6M393.49 505.5l8.6 8.6m-8.6 0l8.6 -8.6M395.25 514.24l8.6 8.6m-8.6 0l8.6 -8.6M391.7 530.74l8.6 8.6m-8.6 0l8.6 -8.6M379.6 533.13l8.6 8.6m-8.6 0l8.6 -8.6M384.56 520.81l8.6 8.6m-8.6 0l8.6 -8.6M385.93 527.71l8.6 8.6m-8.6 0l8.6 -8.6M392.75 524.96l8.6 8.6m-8.6 0l8.6 -8.6M379.65 529.79l8.6 8.6m-8.6 0l8.6 -8.6M395.99 516.06l8.6 8.6m-8.6 0l8.6 -8.6M379.6 530.89l8.6 8.6m-8.6 0l8.6 -8.6M387.7 529.21l8.6 8.6m-8.6 0l8.6 -8.6M387.51 528.63l8.6 8.6m-8.6 0l8.6 -8.6M397.69 527.76l8.6 8.6m-8.6 0l8.6 -8.6M383.3 532.06l8.6 8.6m-8.6 0l8.6 -8.6M410.06 503.95l8.6 8.6m-8.6 0l8.6 -8.6M415.16 491.62l8.6 8.6m-8.6 0l8.6 -8.6M409.39 509.2l8.6 8.6m-8.6 0l8.6 -8.6M403.97 511.86l8.6 8.6m-8.6 0l8.6 -8.6M428.95 467.49l8.6 8.6m-8.6 0l8.6 -8.6M420.24 489.03l8.6 8.6m-8.6 0l8.6 -8.6M430.57 463.3l8.6 8.6m-8.6 0l8.6 -8.6M401.52 516.11l8.6 8.6m-8.6 0l8.6 -8.6M392.68 511.19l8.6 8.6m-8.6 0l8.6 -8.6M400.94 522.19l8.6 8.6m-8.6 0l8.6 -8.6M431.99 459.52l8.6 8.6m-8.6 0l8.6 -8.6M419.34 495.4l8.6 8.6m-8.6 0l8.6 -8.6M406.8 511.63l8.6 8.6m-8.6 0l8.6 -8.6M410.52 504.6l8.6 8.6m-8.6 0l8.6 -8.6M403.97 511.96l8.6 8.6m-8.6 0l8.6 -8.6M399.99 516.72l8.6 8.6m-8.6 0l8.6 -8.6M417.74 490.77l8.6 8.6m-8.6 0l8.6 -8.6M407.41 500.17l8.6 8.6m-8.6 0l8.6 -8.6M422.81 481.07l8.6 8.6m-8.6 0l8.6 -8.6M405.48 509.08l8.6 8.6m-8.6 0l8.6 -8.6M428.76 466.38l8.6 8.6m-8.6 0l8.6 -8.6M431.17 459.14l8.6 8.6m-8.6 0l8.6 -8.6M425.07 463.25l8.6 8.6m-8.6 0l8.6 -8.6M409.62 499.24l8.6 8.6m-8.6 0l8.6 -8.6M436.88 453.97l8.6 8.6m-8.6 0l8.6 -8.6M408.61 499.88l8.6 8.6m-8.6 0l8.6 -8.6M423.72 476.01l8.6 8.6m-8.6 0l8.6 -8.6M397.4 513.62l8.6 8.6m-8.6 0l8.6 -8.6M427.98 452.04l8.6 8.6m-8.6 0l8.6 -8.6M425.25 476.35l8.6 8.6m-8.6 0l8.6 -8.6M423.3 470.23l8.6 8.6m-8.6 0l8.6 -8.6M395.22 519.65l8.6 8.6m-8.6 0l8.6 -8.6M397.31 518.28l8.6 8.6m-8.6 0l8.6 -8.6M397.36 517.84l8.6 8.6m-8.6 0l8.6 -8.6M423.24 480.51l8.6 8.6m-8.6 0l8.6 -8.6M427.95 452.34l8.6 8.6m-8.6 0l8.6 -8.6M420.96 488.02l8.6 8.6m-8.6 0l8.6 -8.6M425.02 490.92l8.6 8.6m-8.6 0l8.6 -8.6M424.66 465.75l8.6 8.6m-8.6 0l8.6 -8.6M429.42 450.19l8.6 8.6m-8.6 0l8.6 -8.6M408.92 510.96l8.6 8.6m-8.6 0l8.6 -8.6M413.11 505.79l8.6 8.6m-8.6 0l8.6 -8.6M398.48 518.38l8.6 8.6m-8.6 0l8.6 -8.6M407.96 510.13l8.6 8.6m-8.6 0l8.6 -8.6M416.1 499.91l8.6 8.6m-8.6 0l8.6 -8.6M402.93 511.13l8.6 8.6m-8.6 0l8.6 -8.6M403.54 508.09l8.6 8.6m-8.6 0l8.6 -8.6M397.18 508.55l8.6 8.6m-8.6 0l8.6 -8.6M411.14 502.34l8.6 8.6m-8.6 0l8.6 -8.6M422.06 479.89l8.6 8.6m-8.6 0l8.6 -8.6M414.48 511.3l8.6 8.6m-8.6 0l8.6 -8.6M423.66 462.38l8.6 8.6m-8.6 0l8.6 -8.6M423.02 486.34l8.6 8.6m-8.6 0l8.6 -8.6M424.29 487.07l8.6 8.6m-8.6 0l8.6 -8.6M425.92 469.97l8.6 8.6m-8.6 0l8.6 -8.6M428.08 491.91l8.6 8.6m-8.6 0l8.6 -8.6M427.23 481.92l8.6 8.6m-8.6 0l8.6 -8.6M421.8 488.46l8.6 8.6m-8.6 0l8.6 -8.6M415.48 488.04l8.6 8.6m-8.6 0l8.6 -8.6M427.36 491.15l8.6 8.6m-8.6 0l8.6 -8.6M429.36 483.85l8.6 8.6m-8.6 0l8.6 -8.6M420.5 486.18l8.6 8.6m-8.6 0l8.6 -8.6M425.04 480.06l8.6 8.6m-8.6 0l8.6 -8.6M432.98 489.61l8.6 8.6m-8.6 0l8.6 -8.6M424.76 480.69l8.6 8.6m-8.6 0l8.6 -8.6M428.03 482.45l8.6 8.6m-8.6 0l8.6 -8.6M433.69 485.88l8.6 8.6m-8.6 0l8.6 -8.6M430.22 488.9l8.6 8.6m-8.6 0l8.6 -8.6M417.07 490.76l8.6 8.6m-8.6 0l8.6 -8.6M421.13 485.01l8.6 8.6m-8.6 0l8.6 -8.6M420.81 481.63l8.6 8.6m-8.6 0l8.6 -8.6M438.72 431.18l8.6 8.6m-8.6 0l8.6 -8.6M440.52 402.48l8.6 8.6m-8.6 0l8.6 -8.6M437.32 424.3l8.6 8.6m-8.6 0l8.6 -8.6M450.23 415.62l8.6 8.6m-8.6 0l8.6 -8.6M449.14 404l8.6 8.6m-8.6 0l8.6 -8.6M448.6 394.05l8.6 8.6m-8.6 0l8.6 -8.6M436.55 414.93l8.6 8.6m-8.6 0l8.6 -8.6M449.16 428.11l8.6 8.6m-8.6 0l8.6 -8.6M443.57 437.35l8.6 8.6m-8.6 0l8.6 -8.6M449.21 415.66l8.6 8.6m-8.6 0l8.6 -8.6M464.07 397.38l8.6 8.6m-8.6 0l8.6 -8.6M435.45 447.46l8.6 8.6m-8.6 0l8.6 -8.6M451.46 391.63l8.6 8.6m-8.6 0l8.6 -8.6M446.52 421.34l8.6 8.6m-8.6 0l8.6 -8.6M437.65 437.31l8.6 8.6m-8.6 0l8.6 -8.6M429.67 446.7l8.6 8.6m-8.6 0l8.6 -8.6M450.3 414.01l8.6 8.6m-8.6 0l8.6 -8.6M473.5 378.99l8.6 8.6m-8.6 0l8.6 -8.6M441.39 415.2l8.6 8.6m-8.6 0l8.6 -8.6M450.72 400.38l8.6 8.6m-8.6 0l8.6 -8.6M469.22 373.07l8.6 8.6m-8.6 0l8.6 -8.6M480 377.75l8.6 8.6m-8.6 0l8.6 -8.6M455.96 402.99l8.6 8.6m-8.6 0l8.6 -8.6M457.72 391.59l8.6 8.6m-8.6 0l8.6 -8.6M461.51 385.94l8.6 8.6m-8.6 0l8.6 -8.6M464.19 385.06l8.6 8.6m-8.6 0l8.6 -8.6M450.59 388.67l8.6 8.6m-8.6 0l8.6 -8.6M460.17 390.9l8.6 8.6m-8.6 0l8.6 -8.6M477.78 379.19l8.6 8.6m-8.6 0l8.6 -8.6M475.62 378.96l8.6 8.6m-8.6 0l8.6 -8.6M465.66 390.35l8.6 8.6m-8.6 0l8.6 -8.6M466.75 379.47l8.6 8.6m-8.6 0l8.6 -8.6M472.52 387.17l8.6 8.6m-8.6 0l8.6 -8.6M471.41 382.63l8.6 8.6m-8.6 0l8.6 -8.6M455.55 380.49l8.6 8.6m-8.6 0l8.6 -8.6M480.43 386.82l8.6 8.6m-8.6 0l8.6 -8.6M514.33 394.97l8.6 8.6m-8.6 0l8.6 -8.6M522.9 403.76l8.6 8.6m-8.6 0l8.6 -8.6M511.36 396.55l8.6 8.6m-8.6 0l8.6 -8.6M474.07 385.17l8.6 8.6m-8.6 0l8.6 -8.6M497.43 380.54l8.6 8.6m-8.6 0l8.6 -8.6M496.71 388.43l8.6 8.6m-8.6 0l8.6 -8.6M476.07 381.77l8.6 8.6m-8.6 0l8.6 -8.6M516.17 389.91l8.6 8.6m-8.6 0l8.6 -8.6M522.77 397.74l8.6 8.6m-8.6 0l8.6 -8.6M506.09 391.03l8.6 8.6m-8.6 0l8.6 -8.6M517.62 403.63l8.6 8.6m-8.6 0l8.6 -8.6M491.81 379.3l8.6 8.6m-8.6 0l8.6 -8.6M517.61 399.36l8.6 8.6m-8.6 0l8.6 -8.6M504.53 388.33l8.6 8.6m-8.6 0l8.6 -8.6M482.79 375.47l8.6 8.6m-8.6 0l8.6 -8.6M517.62 399.82l8.6 8.6m-8.6 0l8.6 -8.6M506.62 389.55l8.6 8.6m-8.6 0l8.6 -8.6M502.75 379.05l8.6 8.6m-8.6 0l8.6 -8.6M490.59 392.62l8.6 8.6m-8.6 0l8.6 -8.6M531.99 407.91l8.6 8.6m-8.6 0l8.6 -8.6M488.71 390.21l8.6 8.6m-8.6 0l8.6 -8.6M505.39 388.94l8.6 8.6m-8.6 0l8.6 -8.6M475.8 377.81l8.6 8.6m-8.6 0l8.6 -8.6M479.04 375.43l8.6 8.6m-8.6 0l8.6 -8.6M483.71 382.32l8.6 8.6m-8.6 0l8.6 -8.6M528.37 397.94l8.6 8.6m-8.6 0l8.6 -8.6M488.16 386.27l8.6 8.6m-8.6 0l8.6 -8.6M529.94 406.04l8.6 8.6m-8.6 0l8.6 -8.6M502.43 392.83l8.6 8.6m-8.6 0l8.6 -8.6M502.4 383.96l8.6 8.6m-8.6 0l8.6 -8.6M484.77 378.64l8.6 8.6m-8.6 0l8.6 -8.6M493.81 379.84l8.6 8.6m-8.6 0l8.6 -8.6M487.32 380.61l8.6 8.6m-8.6 0l8.6 -8.6M516.5 395.11l8.6 8.6m-8.6 0l8.6 -8.6M493.22 383.92l8.6 8.6m-8.6 0l8.6 -8.6M533.31 404l8.6 8.6m-8.6 0l8.6 -8.6M470.41 368.35l8.6 8.6m-8.6 0l8.6 -8.6M462.82 379.29l8.6 8.6m-8.6 0l8.6 -8.6M504.34 399.94l8.6 8.6m-8.6 0l8.6 -8.6M521.31 404.85l8.6 8.6m-8.6 0l8.6 -8.6M477.84 377.79l8.6 8.6m-8.6 0l8.6 -8.6M508.46 387.23l8.6 8.6m-8.6 0l8.6 -8.6M528.31 406.42l8.6 8.6m-8.6 0l8.6 -8.6M517.36 400.2l8.6 8.6m-8.6 0l8.6 -8.6M532.31 403.66l8.6 8.6m-8.6 0l8.6 -8.6M498.72 379.65l8.6 8.6m-8.6 0l8.6 -8.6M498 383.9l8.6 8.6m-8.6 0l8.6 -8.6M478.22 368.31l8.6 8.6m-8.6 0l8.6 -8.6M484.34 370.99l8.6 8.6m-8.6 0l8.6 -8.6M528.43 414.67l8.6 8.6m-8.6 0l8.6 -8.6M623.44 461.09l8.6 8.6m-8.6 0l8.6 -8.6M640.78 466.89l8.6 8.6m-8.6 0l8.6 -8.6M562.95 422.48l8.6 8.6m-8.6 0l8.6 -8.6M576.95 439.85l8.6 8.6m-8.6 0l8.6 -8.6M545.08 419.18l8.6 8.6m-8.6 0l8.6 -8.6M603.92 454.68l8.6 8.6m-8.6 0l8.6 -8.6M559.54 422.01l8.6 8.6m-8.6 0l8.6 -8.6M588.56 445.37l8.6 8.6m-8.6 0l8.6 -8.6M616.97 450.33l8.6 8.6m-8.6 0l8.6 -8.6M660.12 484.56l8.6 8.6m-8.6 0l8.6 -8.6M656.15 476.13l8.6 8.6m-8.6 0l8.6 -8.6M623.53 469.96l8.6 8.6m-8.6 0l8.6 -8.6M540.79 417.2l8.6 8.6m-8.6 0l8.6 -8.6M640.8 469.66l8.6 8.6m-8.6 0l8.6 -8.6M604.56 447.82l8.6 8.6m-8.6 0l8.6 -8.6M586.21 436.89l8.6 8.6m-8.6 0l8.6 -8.6M659.97 481.14l8.6 8.6m-8.6 0l8.6 -8.6M584.98 444.43l8.6 8.6m-8.6 0l8.6 -8.6M646.47 467.99l8.6 8.6m-8.6 0l8.6 -8.6M645.06 477.12l8.6 8.6m-8.6 0l8.6 -8.6M589.2 438.76l8.6 8.6m-8.6 0l8.6 -8.6M614.73 460.72l8.6 8.6m-8.6 0l8.6 -8.6M630.62 458.39l8.6 8.6m-8.6 0l8.6 -8.6M581.33 438.34l8.6 8.6m-8.6 0l8.6 -8.6M587.84 449.47l8.6 8.6m-8.6 0l8.6 -8.6M633.65 466.22l8.6 8.6m-8.6 0l8.6 -8.6M628.97 472.11l8.6 8.6m-8.6 0l8.6 -8.6M635.96 469.44l8.6 8.6m-8.6 0l8.6 -8.6M588.67 425.59l8.6 8.6m-8.6 0l8.6 -8.6M568.84 429.64l8.6 8.6m-8.6 0l8.6 -8.6M592.44 447.19l8.6 8.6m-8.6 0l8.6 -8.6M668.49 480.18l8.6 8.6m-8.6 0l8.6 -8.6M612.85 452.07l8.6 8.6m-8.6 0l8.6 -8.6M629.7 466.44l8.6 8.6m-8.6 0l8.6 -8.6M575.5 430.32l8.6 8.6m-8.6 0l8.6 -8.6M644.29 478.08l8.6 8.6m-8.6 0l8.6 -8.6M659.38 482.39l8.6 8.6m-8.6 0l8.6 -8.6M654.44 476.78l8.6 8.6m-8.6 0l8.6 -8.6M585.48 438.01l8.6 8.6m-8.6 0l8.6 -8.6M566.27 443.75l8.6 8.6m-8.6 0l8.6 -8.6M617.81 454.72l8.6 8.6m-8.6 0l8.6 -8.6M614.58 452.41l8.6 8.6m-8.6 0l8.6 -8.6M560.06 429.75l8.6 8.6m-8.6 0l8.6 -8.6M538.87 412.01l8.6 8.6m-8.6 0l8.6 -8.6M658.79 476.15l8.6 8.6m-8.6 0l8.6 -8.6" stroke="#45e545" stroke-width="0.75" fill="none" clip-path="url(#cc)"/>
<g fill="none" stroke="#e79bd6" stroke-width="0.65"><circle cx="410.45" cy="445.83" r="1.55"/><circle cx="419.24" cy="454.67" r="1.55"/><circle cx="383.9" cy="492.52" r="1.55"/><circle cx="406.46" cy="475.94" r="1.55"/><circle cx="420.02" cy="438.26" r="1.55"/><circle cx="410.94" cy="425.88" r="1.55"/><circle cx="445.72" cy="410.56" r="1.55"/><circle cx="447.76" cy="380.66" r="1.55"/><circle cx="411.34" cy="488.91" r="1.55"/><circle cx="399.56" cy="486.99" r="1.55"/><circle cx="401.57" cy="487.35" r="1.55"/><circle cx="410.82" cy="452.27" r="1.55"/><circle cx="390.7" cy="519.32" r="1.55"/><circle cx="428.85" cy="417.47" r="1.55"/><circle cx="390.2" cy="497.29" r="1.55"/><circle cx="435.42" cy="414.92" r="1.55"/><circle cx="383.9" cy="515.02" r="1.55"/><circle cx="447.55" cy="374.67" r="1.55"/><circle cx="437.86" cy="369.86" r="1.55"/><circle cx="432.92" cy="427.7" r="1.55"/><circle cx="461.19" cy="383.81" r="1.55"/><circle cx="403.9" cy="468.97" r="1.55"/><circle cx="421.76" cy="451.55" r="1.55"/><circle cx="394.65" cy="488.66" r="1.55"/><circle cx="432.03" cy="428.95" r="1.55"/><circle cx="410.2" cy="452.8" r="1.55"/><circle cx="463.18" cy="371.26" r="1.55"/><circle cx="423.14" cy="425.23" r="1.55"/><circle cx="383.9" cy="512.21" r="1.55"/><circle cx="393.39" cy="481.13" r="1.55"/><circle cx="441.05" cy="399.82" r="1.55"/><circle cx="450.39" cy="380.39" r="1.55"/><circle cx="431.37" cy="428.05" r="1.55"/><circle cx="458.38" cy="356.32" r="1.55"/><circle cx="445.36" cy="388.06" r="1.55"/><circle cx="439.44" cy="381.02" r="1.55"/><circle cx="432.65" cy="402.64" r="1.55"/><circle cx="406.98" cy="454.89" r="1.55"/><circle cx="383.9" cy="505.75" r="1.55"/><circle cx="424.34" cy="433.38" r="1.55"/><circle cx="433.01" cy="400.53" r="1.55"/><circle cx="444.01" cy="370.11" r="1.55"/><circle cx="422.04" cy="432.02" r="1.55"/><circle cx="417.27" cy="450.78" r="1.55"/><circle cx="383.9" cy="508.17" r="1.55"/><circle cx="413.56" cy="459.99" r="1.55"/><circle cx="465.01" cy="368.31" r="1.55"/><circle cx="425.18" cy="410.68" r="1.55"/><circle cx="438.49" cy="383.46" r="1.55"/><circle cx="457.46" cy="377.67" r="1.55"/><circle cx="395.02" cy="479.29" r="1.55"/><circle cx="398.23" cy="487.06" r="1.55"/><circle cx="447.02" cy="399.31" r="1.55"/><circle cx="383.9" cy="507.13" r="1.55"/><circle cx="406.34" cy="468.79" r="1.55"/><circle cx="439.63" cy="359.19" r="1.55"/><circle cx="435.38" cy="387.48" r="1.55"/><circle cx="400.87" cy="501.77" r="1.55"/><circle cx="383.9" cy="497.45" r="1.55"/><circle cx="451.91" cy="366.63" r="1.55"/><circle cx="423.17" cy="440.52" r="1.55"/><circle cx="425.92" cy="447.24" r="1.55"/><circle cx="431.9" cy="404.82" r="1.55"/><circle cx="437.83" cy="395.65" r="1.55"/><circle cx="406.3" cy="462.46" r="1.55"/><circle cx="414.58" cy="441.28" r="1.55"/><circle cx="445.67" cy="415.16" r="1.55"/><circle cx="403.89" cy="452.31" r="1.55"/><circle cx="419.31" cy="433.32" r="1.55"/><circle cx="411.21" cy="463.71" r="1.55"/><circle cx="455.77" cy="363.15" r="1.55"/><circle cx="384.7" cy="513.38" r="1.55"/><circle cx="440.31" cy="382.8" r="1.55"/><circle cx="415.6" cy="433.41" r="1.55"/><circle cx="426.94" cy="412.29" r="1.55"/><circle cx="399.51" cy="471.87" r="1.55"/><circle cx="464.05" cy="374.57" r="1.55"/><circle cx="422.5" cy="454.77" r="1.55"/><circle cx="436.99" cy="420.11" r="1.55"/><circle cx="385.94" cy="496.61" r="1.55"/><circle cx="399.39" cy="472.58" r="1.55"/><circle cx="455.63" cy="369.4" r="1.55"/><circle cx="383.9" cy="519.01" r="1.55"/><circle cx="410.16" cy="458.4" r="1.55"/><circle cx="400.21" cy="475.4" r="1.55"/><circle cx="409.19" cy="472.78" r="1.55"/><circle cx="433.13" cy="428.88" r="1.55"/><circle cx="442.4" cy="367.52" r="1.55"/><circle cx="421.97" cy="443.36" r="1.55"/><circle cx="455.47" cy="365.98" r="1.55"/><circle cx="432.64" cy="402.16" r="1.55"/><circle cx="459.7" cy="363.31" r="1.55"/><circle cx="394.37" cy="482.29" r="1.55"/><circle cx="450.43" cy="386.15" r="1.55"/><circle cx="440.42" cy="395.2" r="1.55"/><circle cx="444.09" cy="377.09" r="1.55"/><circle cx="386.3" cy="513.04" r="1.55"/><circle cx="390.48" cy="496.39" r="1.55"/><circle cx="383.9" cy="506.94" r="1.55"/><circle cx="383.9" cy="501.56" r="1.55"/><circle cx="399.91" cy="470.79" r="1.55"/><circle cx="432.28" cy="438.63" r="1.55"/><circle cx="423.88" cy="463.61" r="1.55"/><circle cx="384.98" cy="501.27" r="1.55"/><circle cx="441.77" cy="375.22" r="1.55"/><circle cx="398" cy="488.86" r="1.55"/><circle cx="463.69" cy="365.46" r="1.55"/><circle cx="406.04" cy="482.6" r="1.55"/><circle cx="387.33" cy="490.62" r="1.55"/><circle cx="394.88" cy="472.8" r="1.55"/><circle cx="383.9" cy="508.18" r="1.55"/><circle cx="400.02" cy="487.83" r="1.55"/><circle cx="434.03" cy="417.76" r="1.55"/><circle cx="407.3" cy="469.04" r="1.55"/><circle cx="385.79" cy="511.14" r="1.55"/><circle cx="409.74" cy="469.51" r="1.55"/><circle cx="407.56" cy="476.81" r="1.55"/><circle cx="398.81" cy="483.84" r="1.55"/><circle cx="448.9" cy="400.45" r="1.55"/><circle cx="390.68" cy="495.77" r="1.55"/><circle cx="423.28" cy="441.08" r="1.55"/><circle cx="383.9" cy="501.23" r="1.55"/><circle cx="407.64" cy="444.42" r="1.55"/><circle cx="444.76" cy="401.88" r="1.55"/><circle cx="404.3" cy="466.51" r="1.55"/><circle cx="383.9" cy="519.8" r="1.55"/><circle cx="426.45" cy="437.86" r="1.55"/><circle cx="463.05" cy="361.04" r="1.55"/><circle cx="435.18" cy="374.19" r="1.55"/><circle cx="428.43" cy="456.55" r="1.55"/><circle cx="426.68" cy="434.24" r="1.55"/><circle cx="404.81" cy="454.99" r="1.55"/><circle cx="409.61" cy="464.06" r="1.55"/><circle cx="438.63" cy="375.04" r="1.55"/><circle cx="451.99" cy="373.71" r="1.55"/><circle cx="414.56" cy="439.4" r="1.55"/><circle cx="440.49" cy="390.51" r="1.55"/><circle cx="432.93" cy="391.7" r="1.55"/><circle cx="434.25" cy="427.42" r="1.55"/><circle cx="446.18" cy="371.57" r="1.55"/><circle cx="423.85" cy="431.98" r="1.55"/><circle cx="424.09" cy="437.66" r="1.55"/><circle cx="438.05" cy="373.15" r="1.55"/><circle cx="432.38" cy="416.84" r="1.55"/><circle cx="442.3" cy="381.51" r="1.55"/><circle cx="447.82" cy="382.01" r="1.55"/><circle cx="423.19" cy="435.53" r="1.55"/><circle cx="441.83" cy="412.99" r="1.55"/><circle cx="447.67" cy="357.37" r="1.55"/><circle cx="409.14" cy="459.52" r="1.55"/><circle cx="405.19" cy="469.99" r="1.55"/><circle cx="454.66" cy="390.77" r="1.55"/><circle cx="389.58" cy="510.02" r="1.55"/><circle cx="425.63" cy="454.22" r="1.55"/><circle cx="383.9" cy="494.03" r="1.55"/><circle cx="435.78" cy="390.85" r="1.55"/><circle cx="462.12" cy="366.76" r="1.55"/><circle cx="450.34" cy="368.28" r="1.55"/><circle cx="408.99" cy="465.38" r="1.55"/><circle cx="455.65" cy="375.54" r="1.55"/><circle cx="428.46" cy="423.06" r="1.55"/><circle cx="398.19" cy="483.69" r="1.55"/><circle cx="386.43" cy="510.29" r="1.55"/><circle cx="435.47" cy="425.07" r="1.55"/><circle cx="414.04" cy="471.87" r="1.55"/><circle cx="444.48" cy="368.1" r="1.55"/><circle cx="456.1" cy="379.06" r="1.55"/><circle cx="420.91" cy="434.04" r="1.55"/><circle cx="433.99" cy="407.19" r="1.55"/><circle cx="395.03" cy="494.27" r="1.55"/><circle cx="402.63" cy="461.07" r="1.55"/><circle cx="440.84" cy="388.29" r="1.55"/><circle cx="422.27" cy="435.84" r="1.55"/><circle cx="406.42" cy="470.46" r="1.55"/><circle cx="426.31" cy="421.05" r="1.55"/><circle cx="417.25" cy="453.52" r="1.55"/><circle cx="410.34" cy="440.05" r="1.55"/><circle cx="419.72" cy="461.01" r="1.55"/><circle cx="421.84" cy="417.76" r="1.55"/><circle cx="459.6" cy="364.67" r="1.55"/><circle cx="439.58" cy="355.2" r="1.55"/><circle cx="429.12" cy="437.28" r="1.55"/><circle cx="387.86" cy="519.91" r="1.55"/><circle cx="445.72" cy="378.35" r="1.55"/><circle cx="431.18" cy="401.75" r="1.55"/><circle cx="395.99" cy="512.21" r="1.55"/><circle cx="456.35" cy="363.69" r="1.55"/><circle cx="411.47" cy="441.83" r="1.55"/><circle cx="397.07" cy="484.5" r="1.55"/><circle cx="438.92" cy="395.71" r="1.55"/><circle cx="394.76" cy="476.79" r="1.55"/><circle cx="448.09" cy="376.13" r="1.55"/><circle cx="425.08" cy="428" r="1.55"/><circle cx="406.7" cy="462.23" r="1.55"/><circle cx="404.41" cy="466.12" r="1.55"/><circle cx="398.25" cy="480.7" r="1.55"/><circle cx="391.61" cy="501.11" r="1.55"/><circle cx="400.32" cy="488.62" r="1.55"/><circle cx="412.91" cy="460.14" r="1.55"/><circle cx="402.19" cy="470.28" r="1.55"/><circle cx="405.08" cy="453.58" r="1.55"/><circle cx="408.23" cy="476.43" r="1.55"/><circle cx="449.9" cy="373.2" r="1.55"/><circle cx="426.38" cy="441.87" r="1.55"/><circle cx="399.55" cy="506.49" r="1.55"/><circle cx="416.58" cy="437.07" r="1.55"/><circle cx="397.92" cy="476.65" r="1.55"/><circle cx="443.07" cy="391.04" r="1.55"/><circle cx="404.32" cy="469.36" r="1.55"/><circle cx="453.85" cy="378.27" r="1.55"/><circle cx="389.22" cy="496.13" r="1.55"/><circle cx="395.69" cy="490.3" r="1.55"/><circle cx="440.73" cy="404.02" r="1.55"/><circle cx="389.76" cy="481.27" r="1.55"/><circle cx="387.77" cy="516.87" r="1.55"/><circle cx="417.21" cy="430.1" r="1.55"/><circle cx="460.11" cy="380.02" r="1.55"/><circle cx="417.79" cy="435.95" r="1.55"/><circle cx="420.56" cy="440.82" r="1.55"/><circle cx="383.9" cy="515.61" r="1.55"/><circle cx="440.31" cy="379.47" r="1.55"/><circle cx="464.34" cy="372.31" r="1.55"/><circle cx="384.75" cy="527.42" r="1.55"/><circle cx="397.33" cy="495.22" r="1.55"/><circle cx="383.9" cy="492.85" r="1.55"/><circle cx="448.21" cy="378.87" r="1.55"/><circle cx="463.06" cy="363.61" r="1.55"/><circle cx="456.16" cy="371.73" r="1.55"/><circle cx="394.62" cy="487.49" r="1.55"/><circle cx="411.08" cy="459.83" r="1.55"/><circle cx="431.68" cy="399.12" r="1.55"/><circle cx="399.46" cy="486.4" r="1.55"/><circle cx="456.35" cy="359.5" r="1.55"/><circle cx="413.08" cy="471.15" r="1.55"/><circle cx="401.06" cy="485.92" r="1.55"/><circle cx="399.11" cy="481.29" r="1.55"/><circle cx="454.54" cy="367.45" r="1.55"/><circle cx="391.12" cy="500.35" r="1.55"/><circle cx="463.21" cy="372.82" r="1.55"/><circle cx="385.91" cy="489.4" r="1.55"/><circle cx="525.12" cy="388.61" r="1.55"/><circle cx="482.42" cy="369.23" r="1.55"/><circle cx="534.46" cy="403.24" r="1.55"/><circle cx="535.05" cy="400.34" r="1.55"/><circle cx="534.89" cy="402.58" r="1.55"/><circle cx="478.83" cy="369.13" r="1.55"/><circle cx="455.39" cy="390.12" r="1.55"/><circle cx="539.43" cy="405.04" r="1.55"/><circle cx="506.72" cy="377.61" r="1.55"/><circle cx="474.32" cy="371.43" r="1.55"/><circle cx="496.66" cy="374.29" r="1.55"/><circle cx="533.62" cy="409.64" r="1.55"/><circle cx="463.13" cy="373.73" r="1.55"/><circle cx="507.09" cy="387.14" r="1.55"/><circle cx="454.96" cy="371.47" r="1.55"/><circle cx="489.1" cy="367.36" r="1.55"/><circle cx="512.86" cy="385.87" r="1.55"/><circle cx="490.65" cy="377.07" r="1.55"/><circle cx="519.01" cy="394.36" r="1.55"/><circle cx="492.16" cy="371.87" r="1.55"/><circle cx="503.12" cy="385.41" r="1.55"/><circle cx="488.53" cy="369.58" r="1.55"/><circle cx="497.11" cy="373.32" r="1.55"/><circle cx="491.31" cy="375.17" r="1.55"/><circle cx="476.57" cy="365.85" r="1.55"/><circle cx="467.98" cy="373.9" r="1.55"/><circle cx="514.31" cy="385.3" r="1.55"/><circle cx="472.13" cy="368.6" r="1.55"/><circle cx="455.1" cy="376.1" r="1.55"/><circle cx="538.25" cy="409.15" r="1.55"/><circle cx="469.5" cy="367.24" r="1.55"/><circle cx="464.33" cy="366.14" r="1.55"/><circle cx="505.91" cy="389.01" r="1.55"/><circle cx="490.46" cy="368.85" r="1.55"/><circle cx="518.02" cy="386.79" r="1.55"/><circle cx="503.88" cy="387.59" r="1.55"/><circle cx="504.38" cy="378.87" r="1.55"/><circle cx="512.61" cy="385.57" r="1.55"/><circle cx="469.68" cy="369.08" r="1.55"/><circle cx="521.26" cy="395.91" r="1.55"/><circle cx="490.1" cy="366.32" r="1.55"/><circle cx="517.42" cy="385.77" r="1.55"/><circle cx="501.37" cy="368.76" r="1.55"/><circle cx="464.61" cy="372.96" r="1.55"/><circle cx="475.6" cy="372.92" r="1.55"/><circle cx="489.83" cy="372.53" r="1.55"/><circle cx="455.54" cy="386.51" r="1.55"/><circle cx="501.84" cy="382.49" r="1.55"/><circle cx="462.75" cy="371.8" r="1.55"/><circle cx="500.1" cy="378.55" r="1.55"/><circle cx="539.71" cy="402.85" r="1.55"/><circle cx="533.5" cy="387.12" r="1.55"/><circle cx="510.81" cy="385.08" r="1.55"/><circle cx="454.14" cy="378.56" r="1.55"/><circle cx="491.62" cy="379.17" r="1.55"/><circle cx="483.66" cy="360.52" r="1.55"/><circle cx="472.99" cy="371.09" r="1.55"/><circle cx="528.7" cy="403.35" r="1.55"/><circle cx="486.38" cy="370.54" r="1.55"/><circle cx="478.19" cy="366.02" r="1.55"/><circle cx="521.24" cy="393.86" r="1.55"/><circle cx="471.12" cy="375.31" r="1.55"/><circle cx="514.35" cy="381.53" r="1.55"/><circle cx="481.82" cy="373.49" r="1.55"/><circle cx="506.36" cy="380.3" r="1.55"/><circle cx="490.73" cy="366.58" r="1.55"/><circle cx="531.42" cy="409.68" r="1.55"/><circle cx="474.03" cy="366.76" r="1.55"/><circle cx="532.64" cy="397.22" r="1.55"/><circle cx="462.79" cy="375.55" r="1.55"/><circle cx="462.38" cy="367.8" r="1.55"/><circle cx="540.4" cy="405.92" r="1.55"/><circle cx="489.7" cy="375.24" r="1.55"/><circle cx="501.03" cy="375.18" r="1.55"/><circle cx="466.86" cy="370.74" r="1.55"/><circle cx="535.91" cy="398.86" r="1.55"/><circle cx="497.13" cy="383.7" r="1.55"/><circle cx="523" cy="390.32" r="1.55"/><circle cx="510.53" cy="378.35" r="1.55"/><circle cx="472.6" cy="363.04" r="1.55"/><circle cx="510" cy="387.07" r="1.55"/><circle cx="476.71" cy="372.72" r="1.55"/><circle cx="511.66" cy="381.49" r="1.55"/><circle cx="500.38" cy="385.8" r="1.55"/><circle cx="457.01" cy="374.16" r="1.55"/><circle cx="483.56" cy="368.91" r="1.55"/><circle cx="467.95" cy="371.65" r="1.55"/><circle cx="481.95" cy="375.92" r="1.55"/><circle cx="523.91" cy="395.31" r="1.55"/><circle cx="449.84" cy="371.54" r="1.55"/><circle cx="474.21" cy="374.04" r="1.55"/><circle cx="528.07" cy="397.82" r="1.55"/><circle cx="467.3" cy="371.59" r="1.55"/><circle cx="480.11" cy="380.3" r="1.55"/><circle cx="485.58" cy="375.26" r="1.55"/><circle cx="513.22" cy="392.49" r="1.55"/><circle cx="539.24" cy="400.68" r="1.55"/><circle cx="497.51" cy="371.66" r="1.55"/><circle cx="504.07" cy="374.13" r="1.55"/><circle cx="537.23" cy="407.72" r="1.55"/><circle cx="516.26" cy="388.16" r="1.55"/><circle cx="484.63" cy="384.12" r="1.55"/><circle cx="524.01" cy="396.34" r="1.55"/><circle cx="485.16" cy="369.27" r="1.55"/><circle cx="468.04" cy="379.41" r="1.55"/><circle cx="479.62" cy="378.26" r="1.55"/><circle cx="488.06" cy="372.19" r="1.55"/><circle cx="498.65" cy="378.33" r="1.55"/><circle cx="481.06" cy="380.51" r="1.55"/><circle cx="522.64" cy="395.99" r="1.55"/><circle cx="490.65" cy="377.73" r="1.55"/><circle cx="536.6" cy="403.9" r="1.55"/><circle cx="535.03" cy="398.01" r="1.55"/><circle cx="525.67" cy="399.96" r="1.55"/><circle cx="540.66" cy="403.11" r="1.55"/><circle cx="476.43" cy="372.01" r="1.55"/><circle cx="467.09" cy="374.84" r="1.55"/><circle cx="486.56" cy="369.31" r="1.55"/><circle cx="506.78" cy="383.51" r="1.55"/><circle cx="475.55" cy="374.39" r="1.55"/><circle cx="519.15" cy="397.87" r="1.55"/><circle cx="507.14" cy="377.99" r="1.55"/><circle cx="470.11" cy="368.06" r="1.55"/><circle cx="468.03" cy="368.07" r="1.55"/><circle cx="501.14" cy="379.21" r="1.55"/><circle cx="530.59" cy="394.49" r="1.55"/><circle cx="463.77" cy="374.07" r="1.55"/><circle cx="521.72" cy="384.88" r="1.55"/><circle cx="501.91" cy="389.33" r="1.55"/><circle cx="537.05" cy="400.84" r="1.55"/><circle cx="520.24" cy="399.79" r="1.55"/><circle cx="463.43" cy="370.75" r="1.55"/><circle cx="540.46" cy="406.65" r="1.55"/><circle cx="502.97" cy="389.62" r="1.55"/><circle cx="534.47" cy="400.3" r="1.55"/><circle cx="491.37" cy="375.07" r="1.55"/><circle cx="456.07" cy="379.84" r="1.55"/><circle cx="536.64" cy="405.43" r="1.55"/><circle cx="477.39" cy="372.81" r="1.55"/><circle cx="479.88" cy="373.3" r="1.55"/><circle cx="533.79" cy="403.55" r="1.55"/><circle cx="537.55" cy="398.38" r="1.55"/><circle cx="521.56" cy="384.76" r="1.55"/><circle cx="527.9" cy="400.75" r="1.55"/><circle cx="511.97" cy="388.24" r="1.55"/><circle cx="500.9" cy="380.79" r="1.55"/><circle cx="474.3" cy="366.78" r="1.55"/><circle cx="478.53" cy="364.65" r="1.55"/><circle cx="532.5" cy="400.38" r="1.55"/><circle cx="518.59" cy="396.91" r="1.55"/><circle cx="489.52" cy="367.16" r="1.55"/><circle cx="468.31" cy="365.61" r="1.55"/><circle cx="468.56" cy="377.79" r="1.55"/><circle cx="479.38" cy="364.57" r="1.55"/><circle cx="464.97" cy="369.99" r="1.55"/><circle cx="484.01" cy="369.66" r="1.55"/><circle cx="461.32" cy="357.29" r="1.55"/><circle cx="536.9" cy="404.1" r="1.55"/><circle cx="536.92" cy="401.56" r="1.55"/><circle cx="489.3" cy="374.27" r="1.55"/><circle cx="489.94" cy="367.65" r="1.55"/><circle cx="480.25" cy="371.19" r="1.55"/><circle cx="465.89" cy="365.91" r="1.55"/><circle cx="524.71" cy="389.62" r="1.55"/><circle cx="475.73" cy="377.63" r="1.55"/><circle cx="536.15" cy="399.98" r="1.55"/><circle cx="495.44" cy="380.68" r="1.55"/><circle cx="486.58" cy="382.28" r="1.55"/><circle cx="499.53" cy="386.21" r="1.55"/><circle cx="521.87" cy="395.31" r="1.55"/><circle cx="505.88" cy="374.62" r="1.55"/><circle cx="474.64" cy="358.33" r="1.55"/><circle cx="533.58" cy="404.15" r="1.55"/><circle cx="503.94" cy="383.1" r="1.55"/><circle cx="468.97" cy="369.37" r="1.55"/><circle cx="519.42" cy="388.08" r="1.55"/><circle cx="457.46" cy="379.28" r="1.55"/><circle cx="485.7" cy="386.74" r="1.55"/><circle cx="490.83" cy="372.52" r="1.55"/><circle cx="445.98" cy="372.46" r="1.55"/><circle cx="481.97" cy="373.66" r="1.55"/><circle cx="533.31" cy="407.34" r="1.55"/><circle cx="507.18" cy="380.96" r="1.55"/><circle cx="476.23" cy="367.87" r="1.55"/><circle cx="463.66" cy="366.84" r="1.55"/><circle cx="517.23" cy="394.87" r="1.55"/><circle cx="490.13" cy="375.74" r="1.55"/><circle cx="467.58" cy="364.8" r="1.55"/><circle cx="536.92" cy="394.02" r="1.55"/><circle cx="469.77" cy="371.76" r="1.55"/><circle cx="526.34" cy="401.33" r="1.55"/><circle cx="511.72" cy="391" r="1.55"/><circle cx="455.44" cy="389.03" r="1.55"/><circle cx="484.55" cy="369.08" r="1.55"/><circle cx="524.64" cy="399.68" r="1.55"/><circle cx="508.55" cy="378.31" r="1.55"/><circle cx="465.92" cy="369.6" r="1.55"/><circle cx="474.19" cy="372.92" r="1.55"/><circle cx="495.97" cy="371.31" r="1.55"/><circle cx="448.9" cy="382.77" r="1.55"/><circle cx="481.31" cy="373.33" r="1.55"/><circle cx="508.76" cy="378.22" r="1.55"/><circle cx="458.11" cy="383.57" r="1.55"/><circle cx="519.96" cy="391.02" r="1.55"/><circle cx="501.13" cy="386.79" r="1.55"/><circle cx="525.31" cy="393.02" r="1.55"/><circle cx="518.17" cy="397.69" r="1.55"/><circle cx="496.05" cy="383.06" r="1.55"/><circle cx="455.56" cy="366.22" r="1.55"/><circle cx="474.6" cy="374.06" r="1.55"/><circle cx="475.41" cy="358.55" r="1.55"/><circle cx="509.52" cy="389.47" r="1.55"/><circle cx="502.59" cy="381.6" r="1.55"/><circle cx="473.36" cy="368.45" r="1.55"/><circle cx="456.9" cy="379.9" r="1.55"/><circle cx="516.58" cy="393.5" r="1.55"/><circle cx="530.69" cy="397.49" r="1.55"/><circle cx="527.5" cy="394.38" r="1.55"/><circle cx="517.46" cy="388.45" r="1.55"/><circle cx="471.2" cy="376.12" r="1.55"/><circle cx="557.1" cy="421.89" r="1.55"/><circle cx="639.94" cy="460.83" r="1.55"/><circle cx="620.37" cy="457.58" r="1.55"/><circle cx="575.15" cy="422.22" r="1.55"/><circle cx="609.48" cy="451.27" r="1.55"/><circle cx="667.32" cy="477.6" r="1.55"/><circle cx="556.6" cy="429.48" r="1.55"/><circle cx="621.5" cy="452.81" r="1.55"/><circle cx="665.29" cy="474.61" r="1.55"/><circle cx="586.67" cy="439.56" r="1.55"/><circle cx="674.76" cy="482.04" r="1.55"/><circle cx="574.05" cy="427.19" r="1.55"/><circle cx="575.78" cy="441.29" r="1.55"/><circle cx="546.96" cy="419.13" r="1.55"/><circle cx="575.89" cy="429.03" r="1.55"/><circle cx="607.37" cy="445.7" r="1.55"/><circle cx="603.98" cy="444.19" r="1.55"/><circle cx="664.08" cy="472.81" r="1.55"/><circle cx="579.39" cy="423.1" r="1.55"/><circle cx="556.61" cy="423.62" r="1.55"/><circle cx="604.17" cy="441.21" r="1.55"/><circle cx="610.39" cy="453.11" r="1.55"/><circle cx="544.34" cy="406.47" r="1.55"/><circle cx="634.29" cy="456.56" r="1.55"/><circle cx="664.28" cy="476.66" r="1.55"/><circle cx="587.83" cy="439.2" r="1.55"/><circle cx="617.23" cy="452.36" r="1.55"/><circle cx="663.24" cy="481.47" r="1.55"/><circle cx="645" cy="472.63" r="1.55"/><circle cx="617.99" cy="453.35" r="1.55"/><circle cx="556.31" cy="428.81" r="1.55"/><circle cx="569.2" cy="423.13" r="1.55"/><circle cx="591.27" cy="440.73" r="1.55"/><circle cx="623.49" cy="453.53" r="1.55"/><circle cx="570.16" cy="424.53" r="1.55"/><circle cx="551.92" cy="427.83" r="1.55"/><circle cx="671.98" cy="490.94" r="1.55"/><circle cx="650.4" cy="476.76" r="1.55"/><circle cx="630.32" cy="468.32" r="1.55"/><circle cx="638.72" cy="464.26" r="1.55"/><circle cx="655.75" cy="472.55" r="1.55"/><circle cx="660.13" cy="471.68" r="1.55"/><circle cx="560.92" cy="432.14" r="1.55"/><circle cx="574.1" cy="432.6" r="1.55"/><circle cx="672.22" cy="478.06" r="1.55"/><circle cx="598.75" cy="438.38" r="1.55"/><circle cx="559.65" cy="425.91" r="1.55"/><circle cx="633.08" cy="468.6" r="1.55"/><circle cx="604.95" cy="447.66" r="1.55"/><circle cx="578.17" cy="431.59" r="1.55"/><circle cx="587.95" cy="423.33" r="1.55"/><circle cx="637.17" cy="466.77" r="1.55"/><circle cx="579.2" cy="441.02" r="1.55"/><circle cx="662.38" cy="466.63" r="1.55"/><circle cx="563.3" cy="423.39" r="1.55"/><circle cx="648.34" cy="463.89" r="1.55"/><circle cx="572.8" cy="432.37" r="1.55"/><circle cx="670.99" cy="471.36" r="1.55"/><circle cx="543.94" cy="410.42" r="1.55"/><circle cx="566.61" cy="431.16" r="1.55"/><circle cx="545.35" cy="408.3" r="1.55"/><circle cx="651.95" cy="469.18" r="1.55"/><circle cx="586.37" cy="439.74" r="1.55"/><circle cx="598.47" cy="445.62" r="1.55"/><circle cx="574.49" cy="430.03" r="1.55"/><circle cx="585.24" cy="430.09" r="1.55"/><circle cx="664.93" cy="479.11" r="1.55"/><circle cx="636.69" cy="465.07" r="1.55"/><circle cx="590.58" cy="432.69" r="1.55"/><circle cx="544.94" cy="407.27" r="1.55"/><circle cx="554.74" cy="420.92" r="1.55"/><circle cx="590.66" cy="436.75" r="1.55"/><circle cx="579.14" cy="431.89" r="1.55"/><circle cx="628.77" cy="461.63" r="1.55"/><circle cx="621.96" cy="451.29" r="1.55"/><circle cx="563.03" cy="425.78" r="1.55"/><circle cx="607.95" cy="451.17" r="1.55"/><circle cx="646.66" cy="467.45" r="1.55"/><circle cx="547.93" cy="401.29" r="1.55"/><circle cx="587.72" cy="437.44" r="1.55"/></g>
<path d="M383.9 363.71L385.03 363.66L386.15 363.62L387.28 363.59L388.41 363.57L389.54 363.55L390.66 363.54L391.79 363.54L392.92 363.53L394.05 363.53L395.17 363.53L396.3 363.56L397.43 363.65L398.56 363.78L399.68 363.94L400.81 364.14L401.94 364.36L403.07 364.6L404.19 364.85L405.32 365.09L406.45 365.33L407.58 365.61L408.7 365.96L409.83 366.34L410.96 366.73L412.09 367.12L413.21 367.48L414.34 367.78L415.47 368.01L416.59 368.2L417.72 368.39L418.85 368.57L419.98 368.73L421.1 368.87L422.23 368.98L423.36 369.04L424.49 369.06L425.61 369.03L426.74 368.95L427.87 368.83L429 368.68L430.12 368.51L431.25 368.33L432.38 368.14L433.51 367.96L434.63 367.73L435.76 367.44L436.89 367.12L438.02 366.79L439.14 366.47L440.27 366.19L441.4 365.97L442.53 365.83L443.65 365.72L444.78 365.63L445.91 365.54L447.04 365.46L448.16 365.4L449.29 365.35L450.42 365.32L451.54 365.32L452.67 365.36L453.8 365.45L454.93 365.58L456.05 365.75L457.18 365.95L458.31 366.18L459.44 366.42L460.56 366.66L461.69 366.92L462.82 367.17L463.95 367.48L465.07 367.86L466.2 368.27L467.33 368.68L468.46 369.06L469.58 369.39L470.71 369.65L471.84 369.9L472.97 370.12L474.09 370.33L475.22 370.53L476.35 370.73L477.48 370.92L478.6 371.11L479.73 371.31L480.86 371.53L481.98 371.75L483.11 372L484.24 372.25L485.37 372.49L486.49 372.74L487.62 373L488.75 373.27L489.88 373.55L491 373.84L492.13 374.15L493.26 374.48L494.39 374.84L495.51 375.23L496.64 375.65L497.77 376.14L498.9 376.71L500.02 377.34L501.15 378.02L502.28 378.74L503.41 379.49L504.53 380.26L505.66 381.04L506.79 381.82L507.92 382.58L509.04 383.39L510.17 384.23L511.3 385.1L512.43 385.98L513.55 386.88L514.68 387.78L515.81 388.67L516.93 389.54L518.06 390.38L519.19 391.18L520.32 391.96L521.44 392.71L522.57 393.45L523.7 394.18L524.83 394.91L525.95 395.64L527.08 396.38L528.21 397.13L529.34 397.91L530.46 398.71L531.59 399.5L532.72 400.28L533.85 401.07L534.97 401.88L536.1 402.7L537.23 403.56L538.36 404.45L539.48 405.39L540.61 406.39L541.74 407.46L542.87 408.67L543.99 409.99L545.12 411.39L546.25 412.83L547.37 414.28L548.5 415.68L549.63 417.02L550.76 418.28L551.88 419.58L553.01 420.91L554.14 422.22L555.27 423.48L556.39 424.65L557.52 425.71L558.65 426.61L559.78 427.33L560.9 427.92L562.03 428.45L563.16 428.92L564.29 429.35L565.41 429.75L566.54 430.14L567.67 430.52L568.8 430.91L569.92 431.32L571.05 431.76L572.18 432.18L573.31 432.59L574.43 433L575.56 433.4L576.69 433.8L577.82 434.21L578.94 434.61L580.07 435.03L581.2 435.46L582.32 435.91L583.45 436.37L584.58 436.86L585.71 437.38L586.83 437.92L587.96 438.51L589.09 439.12L590.22 439.77L591.34 440.45L592.47 441.15L593.6 441.87L594.73 442.61L595.85 443.36L596.98 444.11L598.11 444.89L599.24 445.71L600.36 446.56L601.49 447.44L602.62 448.34L603.75 449.25L604.87 450.14L606 451.03L607.13 451.88L608.26 452.7L609.38 453.48L610.51 454.25L611.64 455.02L612.76 455.78L613.89 456.53L615.02 457.25L616.15 457.96L617.27 458.63L618.4 459.28L619.53 459.9L620.66 460.48L621.78 461.04L622.91 461.58L624.04 462.1L625.17 462.61L626.29 463.1L627.42 463.57L628.55 464.04L629.68 464.49L630.8 464.94L631.93 465.37L633.06 465.78L634.19 466.17L635.31 466.55L636.44 466.92L637.57 467.3L638.7 467.67L639.82 468.06L640.95 468.46L642.08 468.88L643.21 469.31L644.33 469.76L645.46 470.21L646.59 470.68L647.71 471.15L648.84 471.63L649.97 472.13L651.1 472.64L652.22 473.16L653.35 473.7L654.48 474.26L655.61 474.84L656.73 475.44L657.86 476.06L658.99 476.69L660.12 477.34L661.24 477.99L662.37 478.65L663.5 479.3L664.63 479.96L665.75 480.61L666.88 481.27L668.01 481.94L669.14 482.61L670.26 483.29L671.39 483.97L672.52 484.66L673.65 485.36L674.77 486.06L675.9 486.76" stroke="#f3ec3a" stroke-width="2.8" fill="none" stroke-linejoin="round" stroke-linecap="butt"/>
<path d="M383.9 515.65L385.03 513.77L386.15 511.9L387.28 510.04L388.41 508.18L389.54 506.33L390.66 504.49L391.79 502.66L392.92 500.83L394.05 499.01L395.17 497.21L396.3 495.41L397.43 493.62L398.56 491.84L399.68 490.07L400.81 488.3L401.94 486.54L403.07 484.78L404.19 483.02L405.32 481.26L406.45 479.5L407.58 477.76L408.7 476.05L409.83 474.35L410.96 472.65L412.09 470.94L413.21 469.2L414.34 467.43L415.47 465.6L416.59 463.72L417.72 461.79L418.85 459.84L419.98 457.83L421.1 455.77L422.23 453.64L423.36 451.42L424.49 449.1L425.61 446.63L426.74 444.01L427.87 441.26L429 438.43L430.12 435.56L431.25 432.69L432.38 429.85L433.51 427.02L434.63 424.16L435.76 421.2L436.89 418.12L438.02 414.84L439.14 411.19L440.27 407.35L441.4 403.57L442.53 400.09L443.65 396.89L444.78 393.84L445.91 391.02L447.04 388.52L448.16 386.19L449.29 384.03L450.42 382.16L451.54 380.71L452.67 379.43L453.8 378.23L454.93 377.11L456.05 376.11L457.18 375.24L458.31 374.52L459.44 373.98L460.56 373.62L461.69 373.33L462.82 373.06L463.95 372.81L465.07 372.6L466.2 372.41L467.33 372.27L468.46 372.16L469.58 372.1L470.71 372.09L471.84 372.14L472.97 372.22L474.09 372.35L475.22 372.52L476.35 372.71L477.48 372.92L478.6 373.16L479.73 373.4L480.86 373.65L481.98 373.89L483.11 374.14L484.24 374.39L485.37 374.67L486.49 374.97L487.62 375.29L488.75 375.63L489.88 375.99L491 376.37L492.13 376.77L493.26 377.18L494.39 377.61L495.51 378.05L496.64 378.51L497.77 379.01L498.9 379.55L500.02 380.13L501.15 380.74L502.28 381.39L503.41 382.05L504.53 382.74L505.66 383.44L506.79 384.16L507.92 384.89L509.04 385.67L510.17 386.51L511.3 387.38L512.43 388.28L513.55 389.19L514.68 390.1L515.81 391L516.93 391.87L518.06 392.71L519.19 393.49L520.32 394.24L521.44 394.96L522.57 395.66L523.7 396.35L524.83 397.04L525.95 397.73L527.08 398.43L528.21 399.14L529.34 399.89L530.46 400.65L531.59 401.43L532.72 402.2L533.85 402.98L534.97 403.78L536.1 404.6L537.23 405.44L538.36 406.32L539.48 407.23L540.61 408.19L541.74 409.21L542.87 410.37L543.99 411.62L545.12 412.93L546.25 414.26L547.37 415.58L548.5 416.84L549.63 418L550.76 419.05L551.88 420.08L553.01 421.09L554.14 422.08L555.27 423.02L556.39 423.9L557.52 424.71L558.65 425.44L559.78 426.07L560.9 426.63L562.03 427.14L563.16 427.6L564.29 428.04L565.41 428.45L566.54 428.85L567.67 429.25L568.8 429.65L569.92 430.07L571.05 430.51L572.18 430.93L573.31 431.35L574.43 431.75L575.56 432.15L576.69 432.55L577.82 432.96L578.94 433.37L580.07 433.78L581.2 434.21L582.32 434.66L583.45 435.13L584.58 435.61L585.71 436.13L586.83 436.67L587.96 437.26L589.09 437.88L590.22 438.53L591.34 439.2L592.47 439.9L593.6 440.62L594.73 441.36L595.85 442.11L596.98 442.86L598.11 443.64L599.24 444.46L600.36 445.31L601.49 446.2L602.62 447.1L603.75 448L604.87 448.9L606 449.78L607.13 450.63L608.26 451.45L609.38 452.23L610.51 453.01L611.64 453.78L612.76 454.53L613.89 455.28L615.02 456L616.15 456.71L617.27 457.38L618.4 458.03L619.53 458.65L620.66 459.23L621.78 459.79L622.91 460.33L624.04 460.85L625.17 461.36L626.29 461.85L627.42 462.32L628.55 462.79L629.68 463.24L630.8 463.69L631.93 464.12L633.06 464.53L634.19 464.92L635.31 465.3L636.44 465.68L637.57 466.05L638.7 466.42L639.82 466.81L640.95 467.21L642.08 467.63L643.21 468.07L644.33 468.51L645.46 468.96L646.59 469.43L647.71 469.9L648.84 470.39L649.97 470.88L651.1 471.39L652.22 471.91L653.35 472.45L654.48 473.01L655.61 473.59L656.73 474.19L657.86 474.81L658.99 475.44L660.12 476.09L661.24 476.74L662.37 477.4L663.5 478.06L664.63 478.71L665.75 479.36L666.88 480.03L668.01 480.69L669.14 481.36L670.26 482.04L671.39 482.73L672.52 483.41L673.65 484.11L674.77 484.81L675.9 485.51" stroke="#1fbdb8" stroke-width="2.8" fill="none" stroke-linejoin="round" stroke-linecap="butt"/>
<path d="M383.9 533.48L385.03 532.83L386.15 532.17L387.28 531.48L388.41 530.79L389.54 530.08L390.66 529.35L391.79 528.61L392.92 527.86L394.05 527.09L395.17 526.32L396.3 525.54L397.43 524.76L398.56 523.96L399.68 523.14L400.81 522.29L401.94 521.39L403.07 520.45L404.19 519.46L405.32 518.45L406.45 517.41L407.58 516.34L408.7 515.21L409.83 514.02L410.96 512.74L412.09 511.37L413.21 509.9L414.34 508.3L415.47 506.5L416.59 504.37L417.72 501.94L418.85 499.3L419.98 496.51L421.1 493.63L422.23 490.74L423.36 487.83L424.49 484.77L425.61 481.59L426.74 478.31L427.87 474.94L429 471.52L430.12 468.05L431.25 464.4L432.38 460.67L433.51 456.95L434.63 453.33L435.76 449.82L436.89 446.37L438.02 442.93L439.14 439.49L440.27 435.97L441.4 432.27L442.53 428.53L443.65 424.96L444.78 421.73L445.91 418.99L447.04 416.5L448.16 414.18L449.29 411.99L450.42 409.92L451.54 407.95L452.67 406.06L453.8 404.24L454.93 402.46L456.05 400.7L457.18 398.96L458.31 397.26L459.44 395.63L460.56 394.09L461.69 392.66L462.82 391.37L463.95 390.17L465.07 389.03L466.2 387.95L467.33 386.95L468.46 386.03L469.58 385.19L470.71 384.41L471.84 383.65L472.97 382.95L474.09 382.33L475.22 381.82L476.35 381.43L477.48 381.09L478.6 380.76L479.73 380.48L480.86 380.27L481.98 380.14L483.11 380.12L484.24 380.16L485.37 380.26L486.49 380.4L487.62 380.58L488.75 380.79L489.88 381.04L491 381.31L492.13 381.61L493.26 381.92L494.39 382.25L495.51 382.58L496.64 382.93L497.77 383.36L498.9 383.87L500.02 384.46L501.15 385.12L502.28 385.83L503.41 386.57L504.53 387.35L505.66 388.14L506.79 388.93L507.92 389.73L509.04 390.6L510.17 391.55L511.3 392.55L512.43 393.59L513.55 394.64L514.68 395.68L515.81 396.7L516.93 397.67L518.06 398.57L519.19 399.39L520.32 400.15L521.44 400.87L522.57 401.55L523.7 402.22L524.83 402.87L525.95 403.53L527.08 404.19L528.21 404.88L529.34 405.6L530.46 406.36L531.59 407.14L532.72 407.94L533.85 408.76L534.97 409.59L536.1 410.44L537.23 411.3L538.36 412.17L539.48 413.05L540.61 413.94L541.74 414.85L542.87 415.81L543.99 416.8L545.12 417.81L546.25 418.82L547.37 419.81L548.5 420.76L549.63 421.66L550.76 422.49L551.88 423.31L553.01 424.11L554.14 424.88L555.27 425.62L556.39 426.33L557.52 427L558.65 427.63L559.78 428.2L560.9 428.73L562.03 429.22L563.16 429.68L564.29 430.12L565.41 430.54L566.54 430.96L567.67 431.37L568.8 431.78L569.92 432.21L571.05 432.65L572.18 433.07L573.31 433.49L574.43 433.89L575.56 434.29L576.69 434.69L577.82 435.1L578.94 435.51L580.07 435.92L581.2 436.35L582.32 436.8L583.45 437.27L584.58 437.75L585.71 438.27L586.83 438.81L587.96 439.4L589.09 440.02L590.22 440.67L591.34 441.34L592.47 442.04L593.6 442.76L594.73 443.5L595.85 444.25L596.98 445L598.11 445.78L599.24 446.6L600.36 447.45L601.49 448.34L602.62 449.24L603.75 450.14L604.87 451.04L606 451.92L607.13 452.77L608.26 453.59L609.38 454.37L610.51 455.15L611.64 455.92L612.76 456.67L613.89 457.42L615.02 458.14L616.15 458.85L617.27 459.52L618.4 460.17L619.53 460.79L620.66 461.37L621.78 461.93L622.91 462.47L624.04 462.99L625.17 463.5L626.29 463.99L627.42 464.46L628.55 464.93L629.68 465.38L630.8 465.83L631.93 466.26L633.06 466.67L634.19 467.06L635.31 467.44L636.44 467.82L637.57 468.19L638.7 468.56L639.82 468.95L640.95 469.35L642.08 469.77L643.21 470.21L644.33 470.65L645.46 471.1L646.59 471.57L647.71 472.04L648.84 472.53L649.97 473.02L651.1 473.53L652.22 474.05L653.35 474.59L654.48 475.15L655.61 475.73L656.73 476.33L657.86 476.95L658.99 477.58L660.12 478.23L661.24 478.88L662.37 479.54L663.5 480.2L664.63 480.85L665.75 481.5L666.88 482.17L668.01 482.83L669.14 483.5L670.26 484.18L671.39 484.87L672.52 485.55L673.65 486.25L674.77 486.95L675.9 487.65" stroke="#e6241b" stroke-width="2.8" fill="none" stroke-linejoin="round" stroke-linecap="butt"/>
<rect x="383.9" y="328.4" width="292" height="214" fill="none" stroke="#262626" stroke-width="0.8"/>
<path d="M406.36 542.4v-2.9M406.36 328.4v2.9M451.28 542.4v-2.9M451.28 328.4v2.9M496.21 542.4v-2.9M496.21 328.4v2.9M541.13 542.4v-2.9M541.13 328.4v2.9M586.05 542.4v-2.9M586.05 328.4v2.9M630.98 542.4v-2.9M630.98 328.4v2.9M675.9 542.4v-2.9M675.9 328.4v2.9M383.9 506.73h2.9M675.9 506.73h-2.9M383.9 471.07h2.9M675.9 471.07h-2.9M383.9 435.4h2.9M675.9 435.4h-2.9M383.9 399.73h2.9M675.9 399.73h-2.9M383.9 364.07h2.9M675.9 364.07h-2.9" stroke="#262626" stroke-width="0.8" fill="none"/>
<text x="406.36" y="562" font-size="16" text-anchor="middle" fill="#262626">2</text>
<text x="451.28" y="562" font-size="16" text-anchor="middle" fill="#262626">4</text>
<text x="496.21" y="562" font-size="16" text-anchor="middle" fill="#262626">6</text>
<text x="541.13" y="562" font-size="16" text-anchor="middle" fill="#262626">8</text>
<text x="586.05" y="562" font-size="16" text-anchor="middle" fill="#262626">10</text>
<text x="630.98" y="562" font-size="16" text-anchor="middle" fill="#262626">12</text>
<text x="675.9" y="562" font-size="16" text-anchor="middle" fill="#262626">14</text>
<text x="379.6" y="548" font-size="16.4" text-anchor="end" fill="#262626">2</text>
<text x="379.6" y="512.33" font-size="16.4" text-anchor="end" fill="#262626">4</text>
<text x="379.6" y="476.67" font-size="16.4" text-anchor="end" fill="#262626">6</text>
<text x="379.6" y="441" font-size="16.4" text-anchor="end" fill="#262626">8</text>
<text x="379.6" y="405.33" font-size="16.4" text-anchor="end" fill="#262626">10</text>
<text x="379.6" y="369.67" font-size="16.4" text-anchor="end" fill="#262626">12</text>
<text x="379.6" y="334" font-size="16.4" text-anchor="end" fill="#262626">14</text>
<text transform="translate(529.3,581.4) scale(1.105,1)" font-size="16.4" text-anchor="middle" fill="#262626">Mean Degree</text>
<text x="522.5" y="601.5" font-size="13" text-anchor="middle">c</text>
<rect x="564" y="332.5" width="108.7" height="82.6" fill="#fff" stroke="#4a4a4a" stroke-width="0.8"/>
<path d="M566.4 340h11.6M572.2 334.2v11.6" stroke="#1a2cea" stroke-width="0.7"/>
<text x="580.3" y="343" font-size="10.2" fill="#000">log<tspan font-size="7.8" dy="3.2">10</tspan><tspan dy="-3.2">(RAM)</tspan></text>
<circle cx="572.2" cy="357.2" r="1.55" fill="none" stroke="#e79bd6" stroke-width="0.65"/>
<text x="580.3" y="359.2" font-size="10.2" fill="#000">log<tspan font-size="7.8" dy="3.2">10</tspan><tspan dy="-3.2">(MLCP)</tspan></text>
<path d="M567.4 367.0l9.6 9.6M567.4 376.6l9.6 -9.6" stroke="#45e545" stroke-width="0.75"/>
<text x="580.3" y="374.8" font-size="10.2" fill="#000">log<tspan font-size="7.8" dy="3.2">10</tspan><tspan dy="-3.2">(OPGM)</tspan></text>
<path d="M565.4 386.8H579.8" stroke="#f3ec3a" stroke-width="2.8"/>
<text x="580.3" y="390" font-size="10.2" fill="#000">Fitted Line for RAM</text>
<path d="M565.4 398.2H579.8" stroke="#1fbdb8" stroke-width="2.8"/>
<text x="580.3" y="401.4" font-size="10.2" fill="#000">Fitted Line for MLCP</text>
<path d="M565.4 409.3H579.8" stroke="#e6241b" stroke-width="2.8"/>
<text x="580.3" y="412.5" font-size="10.2" fill="#000">Fitted Line for OPGM</text></svg>
</body></html>
